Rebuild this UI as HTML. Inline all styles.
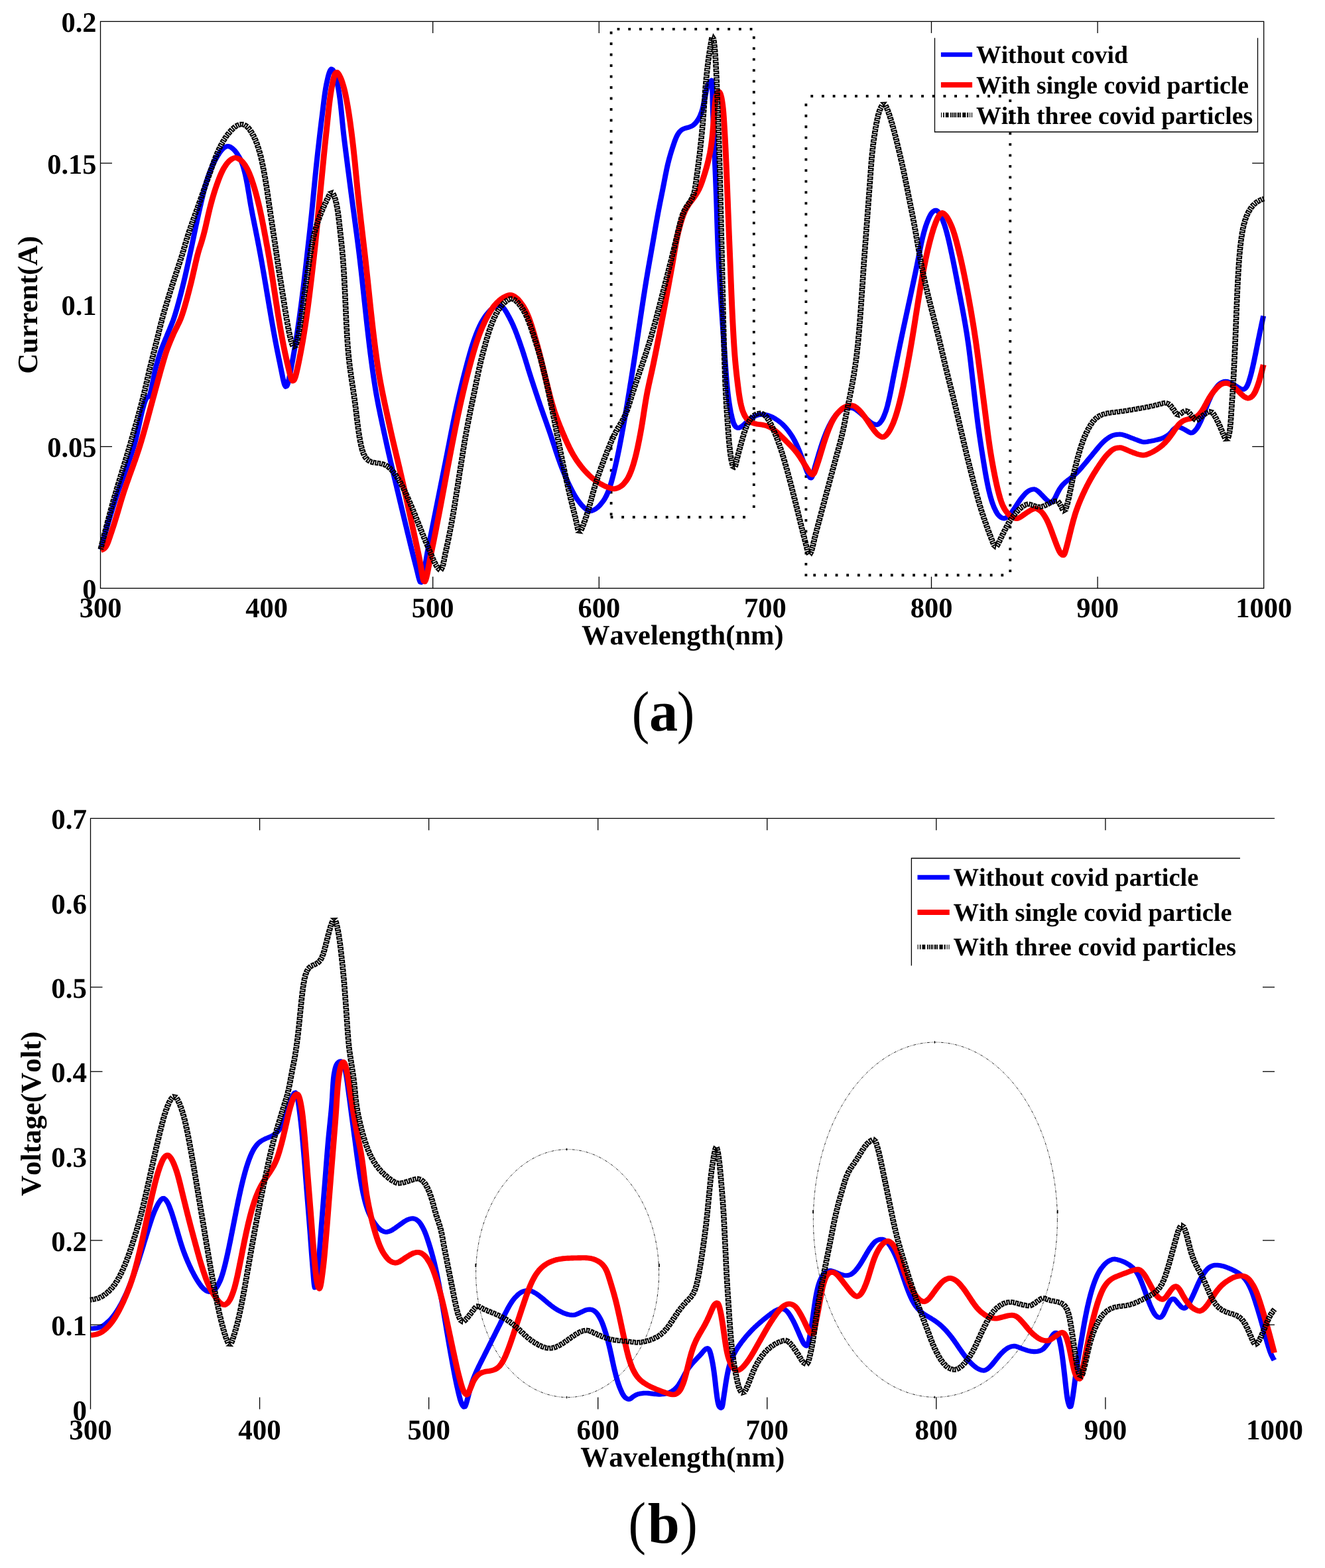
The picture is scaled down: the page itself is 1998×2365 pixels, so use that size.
<!DOCTYPE html>
<html lang="en"><head><meta charset="utf-8"><title>Figure</title>
<style>html,body{margin:0;padding:0;background:#fff}body{width:1998px;height:2365px;overflow:hidden}</style>
</head><body>
<svg width="1998" height="2365" viewBox="0 0 1998 2365" style="display:block;font-kerning:none;text-rendering:geometricPrecision">
<rect width="1998" height="2365" fill="#fff"/>
<g id="plotA">
<rect x="1409.5" y="57.2" width="487.0" height="141.8" fill="#fff"/>
<line x1="930.60" y1="43.8" x2="1134.44" y2="43.8" stroke="#000" stroke-width="3.8" stroke-dasharray="3.8 12.870"/>
<line x1="920.60" y1="780" x2="1123.96" y2="780" stroke="#000" stroke-width="3.8" stroke-dasharray="3.8 12.830"/>
<line x1="921.6" y1="47.60" x2="921.6" y2="777.40" stroke="#000" stroke-width="3.8" stroke-dasharray="3.8 12.700"/>
<line x1="1136.8" y1="54.85" x2="1136.8" y2="766.00" stroke="#000" stroke-width="3.8" stroke-dasharray="3.8 12.650"/>
<line x1="1222.35" y1="145" x2="1509.71" y2="145" stroke="#000" stroke-width="3.8" stroke-dasharray="3.8 12.880"/>
<line x1="1226.35" y1="867.5" x2="1513.20" y2="867.5" stroke="#000" stroke-width="3.8" stroke-dasharray="3.8 12.850"/>
<line x1="1215.4" y1="156.35" x2="1215.4" y2="869.22" stroke="#000" stroke-width="3.8" stroke-dasharray="3.8 12.690"/>
<line x1="1523.3" y1="150.10" x2="1523.3" y2="862.97" stroke="#000" stroke-width="3.8" stroke-dasharray="3.8 12.690"/>
<path transform="scale(1.13,1)" d="M134.51,828.8 134.97,826.8 135.43,824.9 135.89,823.0 136.35,821.0 136.82,819.1 137.29,817.2 137.76,815.2 138.23,813.3 138.70,811.4 139.18,809.5 139.66,807.5 140.14,805.6 140.63,803.7 141.11,801.8 141.60,799.8 142.09,797.9 142.58,796.0 143.07,794.1 143.56,792.1 144.06,790.2 144.56,788.3 145.06,786.4 145.56,784.5 146.07,782.6 146.57,780.6 147.08,778.7 147.59,776.8 148.11,774.9 148.62,773.0 149.14,771.1 149.66,769.1 150.18,767.2 150.70,765.3 151.23,763.4 151.76,761.5 152.29,759.6 152.82,757.7 153.36,755.8 153.90,753.9 154.45,752.0 155.00,750.1 155.56,748.2 156.12,746.3 156.68,744.4 157.25,742.5 157.82,740.6 158.40,738.7 158.98,736.8 159.57,734.9 160.15,733.0 160.74,731.2 161.34,729.3 161.94,727.4 162.53,725.5 163.13,723.6 163.74,721.7 164.34,719.9 164.94,718.0 165.55,716.1 166.15,714.2 166.75,712.3 167.36,710.5 167.96,708.6 168.56,706.7 169.16,704.8 169.76,702.9 170.35,701.0 170.95,699.2 171.54,697.3 172.12,695.4 172.71,693.5 173.29,691.6 173.86,689.7 174.43,687.8 174.99,685.9 175.55,684.0 176.10,682.1 176.65,680.2 177.18,678.3 177.71,676.4 178.22,674.5 178.73,672.6 179.22,670.7 179.70,668.7 180.17,666.8 180.63,664.9 181.07,662.9 181.51,661.0 181.93,659.0 182.34,657.1 182.75,655.2 183.15,653.2 183.54,651.3 183.92,649.3 184.30,647.4 184.68,645.4 185.06,643.4 185.43,641.5 185.80,639.5 186.17,637.6 186.54,635.6 186.92,633.7 187.29,631.7 187.67,629.8 188.05,627.8 188.44,625.8 188.84,623.9 189.24,622.0 189.66,620.0 190.09,618.1 190.55,616.1 191.03,614.2 191.49,612.3 191.98,610.4 192.50,608.4 193.06,606.5 193.67,604.7 194.38,602.8 195.21,601.1 196.29,599.5 197.83,598.6 199.12,597.4 199.87,595.6 200.44,593.7 200.93,591.7 201.36,589.8 201.76,587.9 202.14,585.9 202.50,583.9 202.85,582.0 203.19,580.0 203.55,578.1 203.90,576.1 204.24,574.1 204.57,572.2 204.91,570.2 205.24,568.2 205.58,566.3 205.92,564.3 206.28,562.4 206.64,560.4 207.03,558.4 207.43,556.5 207.86,554.6 208.33,552.6 208.80,550.7 209.28,548.8 209.77,546.8 210.26,544.9 210.77,543.0 211.27,541.1 211.78,539.2 212.29,537.3 212.82,535.4 213.36,533.4 213.91,531.5 214.47,529.7 215.07,527.8 215.69,525.9 216.32,524.0 216.97,522.2 217.62,520.3 218.29,518.5 218.96,516.6 219.62,514.7 220.29,512.9 220.97,511.0 221.65,509.2 222.33,507.4 223.00,505.5 223.67,503.6 224.34,501.8 225.02,500.0 225.71,498.1 226.39,496.3 227.06,494.4 227.73,492.6 228.40,490.7 229.06,488.9 229.72,487.0 230.36,485.1 230.99,483.3 231.60,481.4 232.18,479.5 232.73,477.6 233.27,475.7 233.80,473.8 234.32,471.9 234.83,469.9 235.33,468.0 235.83,466.1 236.31,464.2 236.79,462.3 237.26,460.3 237.73,458.4 238.20,456.5 238.66,454.5 239.12,452.6 239.58,450.7 240.03,448.7 240.48,446.8 240.92,444.9 241.36,442.9 241.80,441.0 242.23,439.1 242.66,437.1 243.09,435.2 243.52,433.2 243.94,431.3 244.37,429.3 244.79,427.4 245.20,425.5 245.61,423.5 246.02,421.6 246.42,419.6 246.82,417.7 247.22,415.7 247.61,413.8 248.00,411.8 248.39,409.9 248.77,407.9 249.16,406.0 249.54,404.0 249.93,402.1 250.31,400.1 250.69,398.1 251.07,396.2 251.45,394.2 251.82,392.3 252.20,390.3 252.57,388.4 252.95,386.4 253.33,384.5 253.70,382.5 254.08,380.6 254.45,378.6 254.83,376.6 255.20,374.7 255.57,372.7 255.93,370.8 256.30,368.8 256.66,366.9 257.02,364.9 257.38,362.9 257.74,361.0 258.10,359.0 258.47,357.1 258.83,355.1 259.19,353.2 259.55,351.2 259.91,349.2 260.27,347.3 260.63,345.3 261.00,343.4 261.36,341.4 261.73,339.4 262.10,337.5 262.47,335.5 262.84,333.6 263.22,331.6 263.60,329.7 263.98,327.7 264.36,325.8 264.74,323.8 265.13,321.9 265.51,319.9 265.90,318.0 266.29,316.0 266.68,314.1 267.07,312.1 267.47,310.2 267.86,308.2 268.25,306.3 268.65,304.3 269.05,302.4 269.45,300.4 269.86,298.5 270.27,296.5 270.68,294.6 271.10,292.6 271.53,290.7 271.96,288.7 272.40,286.8 272.85,284.9 273.31,282.9 273.78,281.0 274.26,279.1 274.75,277.2 275.26,275.2 275.77,273.3 276.30,271.4 276.84,269.5 277.40,267.6 277.97,265.7 278.56,263.8 279.17,262.0 279.79,260.1 280.42,258.2 281.08,256.4 281.75,254.5 282.44,252.7 283.15,250.8 283.88,249.0 284.62,247.2 285.39,245.4 286.18,243.6 286.99,241.8 287.82,240.1 288.68,238.3 289.58,236.6 290.51,234.9 291.45,233.2 292.40,231.5 293.40,229.8 294.44,228.2 295.55,226.7 296.75,225.2 298.04,223.8 299.44,222.6 300.96,221.6 302.60,220.8 304.33,220.5 306.05,221.0 307.65,221.8 309.13,222.9 310.52,224.2 311.83,225.5 313.06,226.9 314.21,228.5 315.30,230.0 316.31,231.7 317.26,233.4 318.20,235.1 319.11,236.8 319.96,238.5 320.75,240.3 321.49,242.1 322.18,244.0 322.83,245.8 323.43,247.7 324.00,249.6 324.54,251.5 325.05,253.4 325.53,255.4 325.99,257.3 326.43,259.2 326.85,261.2 327.26,263.1 327.65,265.1 328.03,267.0 328.39,269.0 328.74,270.9 329.08,272.9 329.42,274.9 329.74,276.8 330.06,278.8 330.37,280.8 330.67,282.7 330.97,284.7 331.26,286.7 331.55,288.7 331.84,290.6 332.13,292.6 332.41,294.6 332.70,296.6 332.98,298.5 333.27,300.5 333.56,302.5 333.86,304.5 334.15,306.4 334.45,308.4 334.76,310.4 335.07,312.3 335.39,314.3 335.71,316.3 336.04,318.2 336.37,320.2 336.70,322.2 337.04,324.1 337.39,326.1 337.73,328.1 338.08,330.0 338.43,332.0 338.77,333.9 339.12,335.9 339.47,337.9 339.83,339.8 340.18,341.8 340.53,343.7 340.87,345.7 341.22,347.7 341.57,349.6 341.92,351.6 342.27,353.6 342.61,355.5 342.95,357.5 343.30,359.4 343.64,361.4 343.98,363.4 344.32,365.3 344.65,367.3 344.99,369.3 345.32,371.2 345.65,373.2 345.98,375.2 346.31,377.1 346.63,379.1 346.95,381.1 347.28,383.0 347.60,385.0 347.91,387.0 348.23,388.9 348.55,390.9 348.86,392.9 349.17,394.8 349.48,396.8 349.79,398.8 350.10,400.7 350.40,402.7 350.71,404.7 351.01,406.7 351.31,408.6 351.62,410.6 351.92,412.6 352.22,414.5 352.52,416.5 352.81,418.5 353.11,420.5 353.41,422.4 353.70,424.4 354.00,426.4 354.29,428.3 354.59,430.3 354.88,432.3 355.18,434.3 355.47,436.2 355.76,438.2 356.06,440.2 356.35,442.2 356.64,444.1 356.94,446.1 357.23,448.1 357.52,450.0 357.82,452.0 358.11,454.0 358.40,456.0 358.70,457.9 358.99,459.9 359.29,461.9 359.58,463.9 359.88,465.8 360.18,467.8 360.47,469.8 360.77,471.7 361.07,473.7 361.37,475.7 361.67,477.7 361.97,479.6 362.28,481.6 362.58,483.6 362.89,485.5 363.19,487.5 363.50,489.5 363.81,491.4 364.12,493.4 364.43,495.4 364.74,497.4 365.06,499.3 365.38,501.3 365.69,503.3 366.01,505.2 366.34,507.2 366.66,509.2 366.99,511.1 367.31,513.1 367.64,515.1 367.97,517.0 368.31,519.0 368.65,521.0 368.98,522.9 369.32,524.9 369.67,526.8 370.01,528.8 370.36,530.8 370.71,532.7 371.06,534.7 371.42,536.6 371.77,538.6 372.13,540.6 372.49,542.5 372.85,544.5 373.20,546.4 373.56,548.4 373.91,550.4 374.26,552.3 374.61,554.3 374.96,556.2 375.30,558.2 375.65,560.2 376.00,562.1 376.36,564.1 376.71,566.0 377.06,568.0 377.42,570.0 377.80,571.9 378.19,573.9 378.60,575.8 379.06,577.8 379.59,579.7 380.24,581.5 381.22,583.2 382.56,582.5 383.37,580.7 383.98,578.9 384.48,576.9 384.93,575.0 385.35,573.1 385.74,571.1 386.11,569.2 386.46,567.2 386.81,565.2 387.16,563.3 387.51,561.3 387.85,559.3 388.17,557.4 388.50,555.4 388.82,553.4 389.14,551.5 389.46,549.5 389.78,547.5 390.10,545.6 390.41,543.6 390.73,541.6 391.04,539.7 391.35,537.7 391.66,535.7 391.96,533.8 392.27,531.8 392.57,529.8 392.87,527.8 393.17,525.9 393.46,523.9 393.75,521.9 394.04,520.0 394.33,518.0 394.61,516.0 394.89,514.0 395.17,512.1 395.45,510.1 395.73,508.1 396.00,506.1 396.27,504.2 396.54,502.2 396.81,500.2 397.07,498.2 397.33,496.2 397.59,494.3 397.85,492.3 398.11,490.3 398.36,488.3 398.62,486.3 398.87,484.4 399.12,482.4 399.36,480.4 399.61,478.4 399.85,476.4 400.10,474.5 400.34,472.5 400.58,470.5 400.81,468.5 401.05,466.5 401.28,464.5 401.52,462.6 401.75,460.6 401.98,458.6 402.20,456.6 402.43,454.6 402.66,452.6 402.88,450.7 403.10,448.7 403.33,446.7 403.55,444.7 403.77,442.7 403.98,440.7 404.20,438.8 404.42,436.8 404.63,434.8 404.85,432.8 405.06,430.8 405.27,428.8 405.48,426.8 405.69,424.9 405.90,422.9 406.11,420.9 406.32,418.9 406.52,416.9 406.73,414.9 406.93,412.9 407.14,410.9 407.34,409.0 407.54,407.0 407.75,405.0 407.95,403.0 408.15,401.0 408.35,399.0 408.55,397.0 408.75,395.0 408.95,393.1 409.15,391.1 409.35,389.1 409.54,387.1 409.74,385.1 409.94,383.1 410.14,381.1 410.34,379.1 410.53,377.2 410.73,375.2 410.93,373.2 411.12,371.2 411.32,369.2 411.52,367.2 411.71,365.2 411.91,363.2 412.11,361.3 412.30,359.3 412.50,357.3 412.70,355.3 412.89,353.3 413.09,351.3 413.28,349.3 413.48,347.3 413.67,345.3 413.87,343.4 414.06,341.4 414.25,339.4 414.44,337.4 414.63,335.4 414.82,333.4 415.00,331.4 415.19,329.4 415.37,327.4 415.55,325.5 415.73,323.5 415.91,321.5 416.09,319.5 416.26,317.5 416.44,315.5 416.61,313.5 416.78,311.5 416.96,309.5 417.13,307.5 417.30,305.5 417.47,303.6 417.64,301.6 417.80,299.6 417.97,297.6 418.14,295.6 418.31,293.6 418.48,291.6 418.64,289.6 418.81,287.6 418.98,285.6 419.15,283.6 419.32,281.7 419.49,279.7 419.66,277.7 419.83,275.7 420.00,273.7 420.17,271.7 420.34,269.7 420.51,267.7 420.69,265.7 420.86,263.7 421.04,261.7 421.22,259.8 421.40,257.8 421.58,255.8 421.76,253.8 421.94,251.8 422.13,249.8 422.31,247.8 422.50,245.8 422.69,243.8 422.88,241.8 423.07,239.9 423.26,237.9 423.45,235.9 423.65,233.9 423.84,231.9 424.03,229.9 424.23,227.9 424.43,225.9 424.62,224.0 424.82,222.0 425.02,220.0 425.22,218.0 425.42,216.0 425.62,214.0 425.82,212.0 426.02,210.0 426.23,208.0 426.43,206.1 426.64,204.1 426.84,202.1 427.05,200.1 427.26,198.1 427.47,196.1 427.68,194.1 427.89,192.2 428.10,190.2 428.32,188.2 428.53,186.2 428.74,184.2 428.96,182.2 429.18,180.2 429.39,178.3 429.61,176.3 429.83,174.3 430.04,172.3 430.26,170.3 430.48,168.3 430.69,166.3 430.91,164.4 431.12,162.4 431.33,160.4 431.54,158.4 431.76,156.4 431.97,154.4 432.19,152.4 432.41,150.5 432.64,148.5 432.87,146.5 433.10,144.5 433.35,142.5 433.60,140.5 433.86,138.6 434.13,136.6 434.42,134.6 434.71,132.6 435.02,130.7 435.35,128.7 435.68,126.7 436.04,124.8 436.42,122.8 436.80,120.9 437.18,118.9 437.59,117.0 438.02,115.0 438.48,113.1 438.98,111.2 439.53,109.3 440.17,107.4 440.96,105.6 442.09,104.1 443.57,104.7 444.61,106.3 445.42,108.1 446.11,109.9 446.73,111.8 447.30,113.7 447.82,115.6 448.31,117.5 448.77,119.5 449.19,121.4 449.62,123.3 450.03,125.3 450.42,127.2 450.78,129.2 451.12,131.2 451.45,133.1 451.76,135.1 452.05,137.1 452.34,139.0 452.61,141.0 452.87,143.0 453.12,145.0 453.36,147.0 453.59,148.9 453.82,150.9 454.03,152.9 454.24,154.9 454.45,156.9 454.65,158.9 454.84,160.9 455.03,162.9 455.21,164.8 455.39,166.8 455.57,168.8 455.74,170.8 455.92,172.8 456.09,174.8 456.26,176.8 456.43,178.8 456.60,180.8 456.77,182.8 456.94,184.8 457.12,186.7 457.29,188.7 457.47,190.7 457.65,192.7 457.83,194.7 458.02,196.7 458.21,198.7 458.41,200.7 458.61,202.7 458.81,204.6 459.01,206.6 459.22,208.6 459.43,210.6 459.65,212.6 459.87,214.6 460.08,216.6 460.30,218.5 460.52,220.5 460.74,222.5 460.97,224.5 461.19,226.5 461.41,228.5 461.63,230.5 461.86,232.4 462.08,234.4 462.31,236.4 462.53,238.4 462.75,240.4 462.98,242.4 463.21,244.3 463.43,246.3 463.66,248.3 463.88,250.3 464.11,252.3 464.34,254.3 464.56,256.3 464.79,258.2 465.02,260.2 465.24,262.2 465.47,264.2 465.70,266.2 465.93,268.2 466.16,270.1 466.38,272.1 466.61,274.1 466.84,276.1 467.07,278.1 467.30,280.1 467.53,282.0 467.76,284.0 467.99,286.0 468.22,288.0 468.45,290.0 468.68,292.0 468.91,293.9 469.14,295.9 469.37,297.9 469.60,299.9 469.84,301.9 470.07,303.9 470.30,305.8 470.54,307.8 470.77,309.8 471.01,311.8 471.24,313.8 471.48,315.8 471.72,317.7 471.95,319.7 472.19,321.7 472.43,323.7 472.66,325.7 472.90,327.6 473.14,329.6 473.38,331.6 473.61,333.6 473.85,335.6 474.09,337.6 474.32,339.5 474.56,341.5 474.79,343.5 475.03,345.5 475.26,347.5 475.50,349.5 475.73,351.4 475.96,353.4 476.19,355.4 476.42,357.4 476.65,359.4 476.88,361.4 477.11,363.3 477.33,365.3 477.56,367.3 477.78,369.3 478.00,371.3 478.23,373.3 478.44,375.2 478.66,377.2 478.88,379.2 479.09,381.2 479.31,383.2 479.52,385.2 479.73,387.2 479.94,389.1 480.15,391.1 480.36,393.1 480.56,395.1 480.77,397.1 480.97,399.1 481.17,401.1 481.37,403.1 481.57,405.0 481.77,407.0 481.97,409.0 482.17,411.0 482.37,413.0 482.56,415.0 482.76,417.0 482.95,419.0 483.15,420.9 483.34,422.9 483.53,424.9 483.72,426.9 483.92,428.9 484.11,430.9 484.30,432.9 484.49,434.9 484.68,436.9 484.87,438.8 485.06,440.8 485.25,442.8 485.43,444.8 485.62,446.8 485.81,448.8 486.00,450.8 486.19,452.8 486.38,454.8 486.56,456.7 486.75,458.7 486.94,460.7 487.13,462.7 487.32,464.7 487.51,466.7 487.70,468.7 487.89,470.7 488.08,472.7 488.27,474.6 488.46,476.6 488.65,478.6 488.84,480.6 489.04,482.6 489.23,484.6 489.42,486.6 489.62,488.6 489.81,490.6 490.01,492.5 490.20,494.5 490.40,496.5 490.60,498.5 490.80,500.5 491.00,502.5 491.20,504.5 491.40,506.5 491.61,508.4 491.81,510.4 492.02,512.4 492.23,514.4 492.43,516.4 492.64,518.4 492.85,520.4 493.07,522.4 493.28,524.3 493.50,526.3 493.71,528.3 493.93,530.3 494.15,532.3 494.37,534.3 494.59,536.2 494.82,538.2 495.05,540.2 495.27,542.2 495.50,544.2 495.74,546.2 495.97,548.1 496.21,550.1 496.44,552.1 496.68,554.1 496.93,556.1 497.17,558.1 497.42,560.0 497.66,562.0 497.91,564.0 498.17,566.0 498.42,568.0 498.68,569.9 498.94,571.9 499.21,573.9 499.47,575.9 499.74,577.9 500.02,579.8 500.29,581.8 500.57,583.8 500.86,585.8 501.15,587.7 501.44,589.7 501.74,591.7 502.05,593.6 502.35,595.6 502.67,597.6 502.98,599.5 503.30,601.5 503.63,603.5 503.95,605.4 504.29,607.4 504.62,609.4 504.96,611.3 505.30,613.3 505.65,615.3 506.00,617.2 506.35,619.2 506.70,621.1 507.06,623.1 507.41,625.1 507.78,627.0 508.14,629.0 508.50,630.9 508.87,632.9 509.24,634.9 509.61,636.8 509.98,638.8 510.35,640.7 510.72,642.7 511.09,644.6 511.47,646.6 511.84,648.5 512.22,650.5 512.59,652.5 512.97,654.4 513.35,656.4 513.72,658.3 514.10,660.3 514.48,662.2 514.85,664.2 515.23,666.1 515.61,668.1 515.99,670.0 516.37,672.0 516.75,674.0 517.14,675.9 517.52,677.9 517.91,679.8 518.30,681.8 518.69,683.7 519.08,685.7 519.48,687.6 519.87,689.6 520.27,691.5 520.67,693.5 521.07,695.4 521.48,697.4 521.88,699.3 522.28,701.3 522.69,703.2 523.10,705.1 523.50,707.1 523.91,709.0 524.32,711.0 524.73,712.9 525.14,714.9 525.55,716.8 525.96,718.8 526.37,720.7 526.78,722.7 527.20,724.6 527.61,726.6 528.02,728.5 528.43,730.4 528.84,732.4 529.25,734.3 529.66,736.3 530.07,738.2 530.48,740.2 530.89,742.1 531.30,744.1 531.71,746.0 532.12,748.0 532.53,749.9 532.94,751.8 533.35,753.8 533.75,755.7 534.16,757.7 534.57,759.6 534.98,761.6 535.39,763.5 535.81,765.5 536.22,767.4 536.63,769.4 537.04,771.3 537.45,773.3 537.86,775.2 538.28,777.1 538.69,779.1 539.11,781.0 539.52,783.0 539.94,784.9 540.35,786.9 540.77,788.8 541.18,790.8 541.60,792.7 542.02,794.6 542.44,796.6 542.85,798.5 543.27,800.5 543.69,802.4 544.11,804.4 544.53,806.3 544.95,808.3 545.36,810.2 545.78,812.1 546.20,814.1 546.62,816.0 547.04,818.0 547.46,819.9 547.88,821.9 548.30,823.8 548.72,825.7 549.14,827.7 549.56,829.6 549.99,831.6 550.41,833.5 550.84,835.5 551.27,837.4 551.71,839.3 552.14,841.3 552.58,843.2 553.02,845.1 553.46,847.1 553.90,849.0 554.34,851.0 554.78,852.9 555.21,854.8 555.65,856.8 556.09,858.7 556.52,860.7 556.94,862.6 557.35,864.5 557.77,866.5 558.18,868.4 558.61,870.4 559.06,872.3 559.54,874.2 560.10,876.1 560.82,878.0 562.14,878.3 563.04,876.6 563.65,874.7 564.14,872.8 564.56,870.9 564.94,868.9 565.29,866.9 565.62,865.0 565.94,863.0 566.24,861.0 566.53,859.1 566.82,857.1 567.10,855.1 567.38,853.1 567.67,851.2 567.95,849.2 568.23,847.2 568.52,845.2 568.80,843.3 569.09,841.3 569.39,839.3 569.69,837.3 570.00,835.4 570.31,833.4 570.64,831.4 570.96,829.5 571.30,827.5 571.64,825.6 571.98,823.6 572.33,821.6 572.67,819.7 573.02,817.7 573.37,815.7 573.72,813.8 574.07,811.8 574.42,809.9 574.76,807.9 575.11,805.9 575.46,804.0 575.80,802.0 576.15,800.0 576.49,798.1 576.84,796.1 577.18,794.2 577.53,792.2 577.87,790.2 578.21,788.3 578.56,786.3 578.90,784.4 579.24,782.4 579.59,780.4 579.93,778.5 580.28,776.5 580.62,774.5 580.97,772.6 581.31,770.6 581.66,768.7 582.00,766.7 582.35,764.7 582.70,762.8 583.04,760.8 583.39,758.8 583.74,756.9 584.08,754.9 584.43,753.0 584.78,751.0 585.13,749.0 585.47,747.1 585.82,745.1 586.17,743.2 586.51,741.2 586.86,739.2 587.21,737.3 587.56,735.3 587.90,733.3 588.25,731.4 588.60,729.4 588.95,727.5 589.29,725.5 589.64,723.5 589.99,721.6 590.33,719.6 590.68,717.7 591.03,715.7 591.38,713.7 591.72,711.8 592.07,709.8 592.42,707.8 592.76,705.9 593.11,703.9 593.46,702.0 593.80,700.0 594.15,698.0 594.50,696.1 594.84,694.1 595.19,692.1 595.53,690.2 595.88,688.2 596.22,686.3 596.56,684.3 596.90,682.3 597.24,680.4 597.58,678.4 597.92,676.4 598.26,674.5 598.60,672.5 598.94,670.6 599.28,668.6 599.62,666.6 599.95,664.7 600.29,662.7 600.63,660.7 600.97,658.8 601.31,656.8 601.65,654.8 601.99,652.9 602.33,650.9 602.68,649.0 603.02,647.0 603.37,645.0 603.71,643.1 604.06,641.1 604.41,639.2 604.76,637.2 605.12,635.2 605.47,633.3 605.83,631.3 606.19,629.4 606.56,627.4 606.92,625.4 607.29,623.5 607.66,621.5 608.03,619.6 608.41,617.6 608.79,615.7 609.17,613.7 609.55,611.8 609.93,609.8 610.32,607.9 610.70,605.9 611.09,603.9 611.49,602.0 611.88,600.0 612.28,598.1 612.67,596.1 613.07,594.2 613.48,592.3 613.88,590.3 614.29,588.4 614.70,586.4 615.11,584.5 615.52,582.5 615.94,580.6 616.36,578.6 616.78,576.7 617.21,574.7 617.64,572.8 618.07,570.9 618.50,568.9 618.94,567.0 619.38,565.1 619.82,563.1 620.26,561.2 620.71,559.2 621.16,557.3 621.61,555.4 622.06,553.4 622.52,551.5 622.97,549.6 623.43,547.6 623.89,545.7 624.35,543.8 624.82,541.8 625.28,539.9 625.76,538.0 626.23,536.1 626.71,534.1 627.19,532.2 627.69,530.3 628.18,528.4 628.69,526.5 629.20,524.5 629.72,522.6 630.25,520.7 630.79,518.8 631.35,516.9 631.91,515.0 632.48,513.1 633.07,511.2 633.66,509.4 634.27,507.5 634.90,505.6 635.54,503.7 636.19,501.9 636.85,500.0 637.53,498.2 638.23,496.3 638.95,494.5 639.69,492.7 640.44,490.9 641.22,489.1 642.03,487.3 642.86,485.5 643.72,483.8 644.62,482.1 645.54,480.4 646.50,478.7 647.50,477.0 648.54,475.4 649.62,473.8 650.76,472.3 651.93,470.8 653.09,469.3 654.31,467.8 655.59,466.5 656.95,465.2 658.38,464.0 659.89,463.0 661.50,462.1 663.17,461.5 664.90,461.1 666.67,460.9 668.36,461.4 669.88,462.4 671.22,463.7 672.40,465.2 673.46,466.8 674.45,468.5 675.39,470.2 676.28,471.9 677.15,473.6 678.00,475.4 678.85,477.2 679.70,478.9 680.52,480.7 681.32,482.5 682.11,484.3 682.87,486.1 683.63,487.9 684.36,489.7 685.09,491.5 685.79,493.4 686.48,495.2 687.16,497.0 687.82,498.9 688.47,500.8 689.10,502.6 689.73,504.5 690.35,506.4 690.96,508.3 691.56,510.1 692.16,512.0 692.76,513.9 693.35,515.8 693.93,517.7 694.51,519.6 695.09,521.5 695.66,523.4 696.23,525.2 696.79,527.1 697.35,529.0 697.90,530.9 698.44,532.8 698.98,534.8 699.52,536.7 700.05,538.6 700.58,540.5 701.10,542.4 701.62,544.3 702.14,546.2 702.66,548.1 703.18,550.0 703.70,551.9 704.22,553.9 704.74,555.8 705.26,557.7 705.79,559.6 706.32,561.5 706.85,563.4 707.38,565.3 707.92,567.2 708.46,569.1 709.00,571.0 709.55,572.9 710.10,574.8 710.65,576.7 711.20,578.6 711.75,580.5 712.30,582.4 712.86,584.3 713.42,586.2 713.97,588.1 714.53,590.0 715.09,591.9 715.65,593.8 716.22,595.7 716.78,597.6 717.35,599.5 717.91,601.4 718.48,603.3 719.05,605.2 719.62,607.1 720.20,609.0 720.77,610.9 721.35,612.8 721.93,614.7 722.51,616.6 723.09,618.4 723.67,620.3 724.26,622.2 724.85,624.1 725.44,626.0 726.03,627.9 726.62,629.8 727.21,631.6 727.81,633.5 728.40,635.4 728.99,637.3 729.59,639.2 730.18,641.1 730.77,643.0 731.35,644.8 731.94,646.7 732.52,648.6 733.10,650.5 733.68,652.4 734.25,654.3 734.82,656.2 735.39,658.1 735.95,660.0 736.50,661.9 737.06,663.8 737.61,665.7 738.16,667.6 738.71,669.5 739.25,671.4 739.80,673.3 740.34,675.2 740.89,677.1 741.44,679.0 741.99,680.9 742.55,682.8 743.11,684.7 743.67,686.6 744.24,688.5 744.82,690.4 745.40,692.3 745.99,694.2 746.59,696.0 747.19,697.9 747.81,699.8 748.43,701.7 749.06,703.5 749.69,705.4 750.34,707.3 750.99,709.1 751.65,711.0 752.32,712.8 752.99,714.7 753.68,716.5 754.37,718.4 755.07,720.2 755.78,722.0 756.50,723.9 757.23,725.7 757.98,727.5 758.73,729.3 759.49,731.1 760.26,732.9 761.04,734.7 761.83,736.5 762.63,738.3 763.44,740.1 764.27,741.8 765.11,743.6 765.98,745.3 766.86,747.1 767.77,748.8 768.71,750.5 769.68,752.2 770.68,753.8 771.72,755.4 772.80,757.0 773.90,758.6 775.01,760.1 776.15,761.7 777.35,763.1 778.58,764.6 779.87,766.0 781.21,767.3 782.62,768.5 784.13,769.5 785.74,770.3 787.45,770.8 789.20,770.6 790.88,770.0 792.50,769.1 794.04,768.2 795.52,767.1 796.93,765.9 798.27,764.6 799.55,763.2 800.75,761.7 801.90,760.2 803.01,758.6 804.11,757.0 805.15,755.4 806.13,753.8 807.06,752.1 807.93,750.3 808.76,748.6 809.55,746.8 810.29,744.9 811.00,743.1 811.67,741.3 812.30,739.4 812.91,737.5 813.49,735.6 814.05,733.7 814.59,731.8 815.11,729.9 815.61,728.0 816.09,726.1 816.56,724.1 817.02,722.2 817.47,720.3 817.91,718.3 818.34,716.4 818.76,714.5 819.19,712.5 819.60,710.6 820.01,708.6 820.42,706.7 820.83,704.7 821.23,702.8 821.63,700.8 822.02,698.9 822.41,696.9 822.80,695.0 823.18,693.0 823.56,691.1 823.93,689.1 824.30,687.2 824.66,685.2 825.02,683.2 825.37,681.3 825.72,679.3 826.07,677.4 826.42,675.4 826.76,673.4 827.09,671.5 827.43,669.5 827.76,667.5 828.09,665.6 828.42,663.6 828.74,661.6 829.07,659.7 829.39,657.7 829.71,655.7 830.03,653.8 830.35,651.8 830.67,649.8 830.99,647.9 831.30,645.9 831.62,643.9 831.93,642.0 832.25,640.0 832.56,638.0 832.87,636.1 833.18,634.1 833.49,632.1 833.79,630.1 834.10,628.2 834.40,626.2 834.70,624.2 835.00,622.3 835.30,620.3 835.60,618.3 835.89,616.3 836.18,614.4 836.48,612.4 836.77,610.4 837.06,608.5 837.35,606.5 837.64,604.5 837.92,602.5 838.21,600.6 838.49,598.6 838.78,596.6 839.06,594.6 839.35,592.7 839.63,590.7 839.91,588.7 840.19,586.7 840.47,584.8 840.75,582.8 841.03,580.8 841.31,578.8 841.59,576.9 841.87,574.9 842.15,572.9 842.43,570.9 842.71,569.0 842.99,567.0 843.27,565.0 843.54,563.0 843.82,561.1 844.09,559.1 844.37,557.1 844.64,555.1 844.91,553.1 845.18,551.2 845.45,549.2 845.72,547.2 845.99,545.2 846.26,543.3 846.53,541.3 846.79,539.3 847.06,537.3 847.32,535.4 847.59,533.4 847.85,531.4 848.12,529.4 848.38,527.4 848.64,525.5 848.90,523.5 849.16,521.5 849.42,519.5 849.68,517.5 849.94,515.6 850.20,513.6 850.46,511.6 850.72,509.6 850.98,507.7 851.24,505.7 851.50,503.7 851.76,501.7 852.02,499.7 852.28,497.8 852.53,495.8 852.79,493.8 853.05,491.8 853.31,489.8 853.57,487.9 853.83,485.9 854.09,483.9 854.35,481.9 854.61,479.9 854.87,478.0 855.13,476.0 855.39,474.0 855.65,472.0 855.92,470.1 856.18,468.1 856.44,466.1 856.71,464.1 856.97,462.1 857.24,460.2 857.50,458.2 857.77,456.2 858.04,454.2 858.31,452.3 858.58,450.3 858.85,448.3 859.12,446.3 859.39,444.3 859.67,442.4 859.94,440.4 860.22,438.4 860.49,436.4 860.77,434.5 861.05,432.5 861.33,430.5 861.61,428.5 861.90,426.6 862.18,424.6 862.47,422.6 862.76,420.6 863.05,418.7 863.34,416.7 863.63,414.7 863.93,412.8 864.22,410.8 864.52,408.8 864.82,406.8 865.12,404.9 865.43,402.9 865.73,400.9 866.04,399.0 866.34,397.0 866.65,395.0 866.96,393.0 867.27,391.1 867.58,389.1 867.89,387.1 868.20,385.2 868.51,383.2 868.81,381.2 869.12,379.3 869.43,377.3 869.74,375.3 870.05,373.3 870.35,371.4 870.66,369.4 870.96,367.4 871.26,365.5 871.57,363.5 871.87,361.5 872.17,359.6 872.47,357.6 872.77,355.6 873.07,353.6 873.37,351.7 873.67,349.7 873.97,347.7 874.27,345.8 874.57,343.8 874.88,341.8 875.18,339.8 875.49,337.9 875.79,335.9 876.10,333.9 876.41,332.0 876.73,330.0 877.04,328.0 877.36,326.1 877.68,324.1 878.00,322.1 878.33,320.2 878.65,318.2 878.99,316.2 879.32,314.3 879.66,312.3 880.00,310.3 880.34,308.4 880.68,306.4 881.03,304.4 881.38,302.5 881.73,300.5 882.08,298.6 882.43,296.6 882.78,294.6 883.13,292.7 883.48,290.7 883.82,288.8 884.17,286.8 884.52,284.8 884.86,282.9 885.20,280.9 885.54,278.9 885.88,277.0 886.21,275.0 886.55,273.0 886.88,271.1 887.21,269.1 887.55,267.2 887.89,265.2 888.23,263.2 888.57,261.3 888.92,259.3 889.27,257.3 889.64,255.4 890.01,253.4 890.39,251.5 890.78,249.5 891.19,247.6 891.60,245.6 892.03,243.7 892.47,241.8 892.93,239.8 893.40,237.9 893.88,236.0 894.37,234.0 894.87,232.1 895.38,230.2 895.90,228.3 896.43,226.4 896.96,224.5 897.51,222.6 898.06,220.7 898.61,218.8 899.18,216.9 899.76,215.0 900.36,213.1 900.98,211.2 901.63,209.4 902.32,207.5 903.05,205.7 903.85,203.9 904.72,202.2 905.69,200.5 906.77,198.9 907.98,197.5 909.33,196.2 910.82,195.1 912.41,194.2 914.07,193.5 915.77,193.0 917.49,192.5 919.19,192.0 920.87,191.3 922.50,190.5 924.05,189.6 925.50,188.4 926.83,187.1 928.06,185.7 929.20,184.1 930.25,182.5 931.23,180.9 932.15,179.2 933.00,177.4 933.80,175.6 934.54,173.8 935.22,172.0 935.84,170.1 936.42,168.2 936.94,166.3 937.42,164.4 937.87,162.4 938.29,160.5 938.68,158.5 939.05,156.6 939.41,154.6 939.77,152.7 940.11,150.7 940.46,148.7 940.80,146.8 941.15,144.8 941.48,142.8 941.83,140.9 942.17,138.9 942.53,137.0 942.91,135.0 943.33,133.1 943.80,131.1 944.36,129.2 945.05,127.4 945.91,125.6 946.97,124.0 948.19,122.6 949.52,121.3 950.04,123.1 950.22,125.1 950.35,127.1 950.44,129.1 950.52,131.1 950.58,133.1 950.63,135.1 950.68,137.1 950.72,139.1 950.76,141.1 950.80,143.1 950.83,145.1 950.87,147.1 950.90,149.1 950.94,151.1 950.97,153.1 951.01,155.1 951.05,157.1 951.09,159.1 951.13,161.1 951.18,163.1 951.23,165.1 951.28,167.1 951.34,169.1 951.40,171.1 951.46,173.1 951.52,175.1 951.59,177.1 951.66,179.1 951.73,181.1 951.80,183.1 951.87,185.1 951.94,187.1 952.01,189.1 952.08,191.1 952.15,193.1 952.22,195.1 952.29,197.1 952.36,199.1 952.43,201.1 952.50,203.1 952.57,205.1 952.64,207.1 952.71,209.1 952.78,211.1 952.85,213.1 952.92,215.1 952.99,217.0 953.06,219.0 953.14,221.0 953.21,223.0 953.28,225.0 953.35,227.0 953.42,229.0 953.49,231.0 953.56,233.0 953.63,235.0 953.70,237.0 953.78,239.0 953.85,241.0 953.92,243.0 953.99,245.0 954.06,247.0 954.14,249.0 954.21,251.0 954.28,253.0 954.35,255.0 954.43,257.0 954.50,259.0 954.57,261.0 954.64,263.0 954.71,265.0 954.79,267.0 954.86,269.0 954.93,271.0 955.00,273.0 955.07,275.0 955.14,277.0 955.21,279.0 955.28,281.0 955.35,283.0 955.41,285.0 955.48,287.0 955.55,289.0 955.61,291.0 955.68,293.0 955.74,295.0 955.81,297.0 955.87,299.0 955.93,301.0 955.99,303.0 956.05,305.0 956.11,307.0 956.17,309.0 956.22,311.0 956.28,313.0 956.34,315.0 956.39,317.0 956.45,319.0 956.50,321.0 956.56,323.0 956.61,325.0 956.67,327.0 956.72,329.0 956.77,331.0 956.83,333.0 956.88,335.0 956.94,337.0 956.99,339.0 957.05,341.0 957.11,343.0 957.17,345.0 957.22,347.0 957.28,349.0 957.34,351.0 957.40,353.0 957.47,355.0 957.53,357.0 957.60,359.0 957.66,361.0 957.73,363.0 957.80,365.0 957.87,367.0 957.94,369.0 958.02,371.0 958.09,373.0 958.17,375.0 958.25,377.0 958.32,379.0 958.41,381.0 958.49,383.0 958.57,385.0 958.66,387.0 958.74,389.0 958.83,391.0 958.92,393.0 959.01,395.0 959.10,397.0 959.19,399.0 959.28,400.9 959.38,402.9 959.47,404.9 959.57,406.9 959.67,408.9 959.76,410.9 959.86,412.9 959.96,414.9 960.07,416.9 960.17,418.9 960.27,420.9 960.38,422.9 960.48,424.9 960.59,426.9 960.69,428.9 960.80,430.9 960.91,432.9 961.02,434.9 961.13,436.9 961.24,438.9 961.35,440.9 961.47,442.9 961.58,444.9 961.69,446.9 961.81,448.9 961.92,450.9 962.04,452.9 962.16,454.9 962.27,456.9 962.39,458.9 962.51,460.8 962.63,462.8 962.75,464.8 962.87,466.8 962.99,468.8 963.11,470.8 963.23,472.8 963.35,474.8 963.47,476.8 963.60,478.8 963.72,480.8 963.84,482.8 963.97,484.8 964.09,486.8 964.21,488.8 964.34,490.8 964.46,492.8 964.59,494.8 964.71,496.8 964.84,498.8 964.96,500.8 965.09,502.8 965.22,504.8 965.34,506.7 965.47,508.7 965.59,510.7 965.72,512.7 965.85,514.7 965.97,516.7 966.10,518.7 966.23,520.7 966.35,522.7 966.48,524.7 966.60,526.7 966.73,528.7 966.85,530.7 966.98,532.7 967.10,534.7 967.23,536.7 967.35,538.7 967.47,540.7 967.60,542.7 967.72,544.7 967.85,546.7 967.97,548.7 968.10,550.6 968.23,552.6 968.35,554.6 968.48,556.6 968.61,558.6 968.75,560.6 968.88,562.6 969.02,564.6 969.16,566.6 969.30,568.6 969.45,570.6 969.59,572.6 969.74,574.6 969.90,576.6 970.06,578.6 970.22,580.6 970.39,582.5 970.56,584.5 970.74,586.5 970.92,588.5 971.11,590.5 971.31,592.5 971.51,594.5 971.72,596.5 971.94,598.5 972.16,600.4 972.39,602.4 972.64,604.4 972.89,606.4 973.15,608.4 973.42,610.3 973.70,612.3 973.99,614.3 974.29,616.3 974.61,618.2 974.93,620.2 975.27,622.2 975.64,624.1 976.02,626.1 976.44,628.0 976.84,630.0 977.27,631.9 977.72,633.8 978.23,635.8 978.80,637.6 979.46,639.5 980.26,641.3 981.25,642.9 982.48,644.4 984.00,645.4 985.73,645.4 987.39,644.7 988.93,643.7 990.39,642.6 991.77,641.3 993.11,640.0 994.42,638.6 995.73,637.3 997.07,636.0 998.45,634.7 999.86,633.5 1001.28,632.3 1002.68,631.1 1004.12,630.0 1005.60,628.9 1007.15,627.9 1008.75,627.0 1010.41,626.3 1012.12,625.8 1013.86,625.5 1015.62,625.2 1017.39,625.1 1019.15,625.2 1020.91,625.5 1022.65,625.9 1024.37,626.3 1026.06,626.9 1027.73,627.6 1029.36,628.4 1030.95,629.2 1032.50,630.2 1034.02,631.2 1035.50,632.3 1036.99,633.4 1038.44,634.6 1039.86,635.8 1041.24,637.0 1042.59,638.3 1043.90,639.6 1045.18,641.0 1046.42,642.5 1047.63,643.9 1048.81,645.4 1049.96,646.9 1051.07,648.5 1052.16,650.1 1053.21,651.7 1054.24,653.3 1055.23,655.0 1056.20,656.6 1057.14,658.3 1058.05,660.0 1058.94,661.8 1059.80,663.5 1060.63,665.3 1061.44,667.1 1062.22,668.9 1062.98,670.7 1063.71,672.5 1064.43,674.3 1065.13,676.2 1065.81,678.0 1066.48,679.9 1067.13,681.7 1067.77,683.6 1068.41,685.4 1069.04,687.3 1069.66,689.2 1070.28,691.1 1070.90,692.9 1071.51,694.8 1072.12,696.7 1072.74,698.6 1073.34,700.4 1073.95,702.3 1074.57,704.2 1075.18,706.1 1075.81,707.9 1076.47,709.8 1077.14,711.7 1077.85,713.5 1078.57,715.3 1079.33,717.1 1080.13,718.9 1081.09,720.6 1082.54,720.9 1083.54,719.2 1084.23,717.4 1084.79,715.5 1085.29,713.6 1085.75,711.6 1086.20,709.7 1086.65,707.8 1087.12,705.8 1087.59,703.9 1088.08,702.0 1088.58,700.1 1089.08,698.1 1089.58,696.2 1090.08,694.3 1090.59,692.4 1091.09,690.5 1091.60,688.6 1092.10,686.6 1092.61,684.7 1093.13,682.8 1093.64,680.9 1094.16,679.0 1094.69,677.1 1095.22,675.2 1095.76,673.3 1096.31,671.4 1096.87,669.5 1097.44,667.6 1098.02,665.7 1098.61,663.8 1099.22,661.9 1099.83,660.0 1100.46,658.2 1101.10,656.3 1101.75,654.4 1102.42,652.6 1103.10,650.7 1103.80,648.9 1104.52,647.1 1105.25,645.3 1106.01,643.4 1106.78,641.6 1107.58,639.9 1108.40,638.1 1109.26,636.3 1110.14,634.6 1111.06,632.9 1112.02,631.2 1113.03,629.6 1114.09,628.0 1115.21,626.4 1116.39,624.9 1117.59,623.5 1118.81,622.0 1120.10,620.6 1121.46,619.4 1122.90,618.2 1124.41,617.2 1126.00,616.3 1127.68,615.6 1129.41,615.2 1131.17,615.0 1132.94,615.0 1134.71,615.1 1136.47,615.3 1138.18,615.8 1139.83,616.5 1141.40,617.4 1142.89,618.5 1144.33,619.7 1145.72,620.9 1147.08,622.2 1148.41,623.5 1149.74,624.8 1151.07,626.2 1152.38,627.5 1153.69,628.8 1155.00,630.2 1156.29,631.6 1157.58,632.9 1158.89,634.3 1160.24,635.6 1161.64,636.8 1163.11,637.9 1164.65,638.9 1166.27,639.7 1167.95,640.3 1169.69,640.7 1171.40,640.3 1172.89,639.2 1174.19,637.9 1175.33,636.3 1176.35,634.7 1177.27,633.0 1178.12,631.3 1178.89,629.5 1179.60,627.6 1180.25,625.8 1180.89,623.9 1181.52,622.0 1182.11,620.1 1182.66,618.2 1183.17,616.3 1183.66,614.4 1184.13,612.5 1184.57,610.5 1185.01,608.6 1185.42,606.6 1185.83,604.7 1186.23,602.8 1186.62,600.8 1187.00,598.8 1187.38,596.9 1187.75,594.9 1188.11,593.0 1188.46,591.0 1188.81,589.1 1189.15,587.1 1189.49,585.1 1189.83,583.2 1190.16,581.2 1190.50,579.2 1190.83,577.3 1191.16,575.3 1191.50,573.3 1191.83,571.4 1192.17,569.4 1192.51,567.5 1192.85,565.5 1193.19,563.5 1193.53,561.6 1193.87,559.6 1194.22,557.6 1194.56,555.7 1194.91,553.7 1195.25,551.8 1195.60,549.8 1195.94,547.8 1196.29,545.9 1196.64,543.9 1196.99,541.9 1197.33,540.0 1197.68,538.0 1198.04,536.1 1198.39,534.1 1198.74,532.1 1199.10,530.2 1199.45,528.2 1199.81,526.3 1200.17,524.3 1200.52,522.3 1200.88,520.4 1201.24,518.4 1201.61,516.5 1201.97,514.5 1202.33,512.6 1202.70,510.6 1203.06,508.6 1203.43,506.7 1203.80,504.7 1204.16,502.8 1204.53,500.8 1204.90,498.9 1205.27,496.9 1205.64,494.9 1206.01,493.0 1206.38,491.0 1206.75,489.1 1207.13,487.1 1207.50,485.2 1207.87,483.2 1208.25,481.3 1208.62,479.3 1208.99,477.3 1209.37,475.4 1209.74,473.4 1210.12,471.5 1210.49,469.5 1210.86,467.6 1211.24,465.6 1211.61,463.7 1211.99,461.7 1212.36,459.7 1212.74,457.8 1213.11,455.8 1213.49,453.9 1213.86,451.9 1214.24,450.0 1214.61,448.0 1214.99,446.1 1215.36,444.1 1215.73,442.1 1216.11,440.2 1216.48,438.2 1216.85,436.3 1217.22,434.3 1217.59,432.4 1217.96,430.4 1218.33,428.5 1218.70,426.5 1219.07,424.5 1219.44,422.6 1219.81,420.6 1220.18,418.7 1220.54,416.7 1220.91,414.8 1221.27,412.8 1221.64,410.8 1222.00,408.9 1222.36,406.9 1222.72,405.0 1223.08,403.0 1223.44,401.1 1223.79,399.1 1224.14,397.1 1224.49,395.2 1224.84,393.2 1225.18,391.2 1225.52,389.3 1225.86,387.3 1226.20,385.4 1226.53,383.4 1226.87,381.4 1227.20,379.5 1227.54,377.5 1227.88,375.5 1228.22,373.6 1228.57,371.6 1228.92,369.7 1229.28,367.7 1229.65,365.7 1230.03,363.8 1230.42,361.8 1230.82,359.9 1231.23,357.9 1231.65,356.0 1232.08,354.1 1232.53,352.1 1232.99,350.2 1233.46,348.3 1233.95,346.3 1234.46,344.4 1234.98,342.5 1235.53,340.6 1236.10,338.7 1236.69,336.8 1237.32,335.0 1237.99,333.1 1238.65,331.3 1239.34,329.4 1240.06,327.6 1240.84,325.8 1241.69,324.0 1242.63,322.3 1243.69,320.7 1244.92,319.3 1246.32,318.1 1247.93,317.2 1249.63,317.3 1251.10,318.4 1252.30,319.9 1253.35,321.5 1254.29,323.2 1255.15,324.9 1255.95,326.7 1256.69,328.5 1257.38,330.4 1258.04,332.2 1258.67,334.1 1259.31,336.0 1259.91,337.8 1260.48,339.7 1261.03,341.6 1261.55,343.5 1262.05,345.5 1262.54,347.4 1263.02,349.3 1263.48,351.2 1263.93,353.2 1264.38,355.1 1264.81,357.1 1265.23,359.0 1265.65,360.9 1266.06,362.9 1266.46,364.8 1266.86,366.8 1267.25,368.7 1267.64,370.7 1268.02,372.6 1268.40,374.6 1268.77,376.6 1269.14,378.5 1269.51,380.5 1269.88,382.4 1270.25,384.4 1270.61,386.3 1270.97,388.3 1271.33,390.3 1271.69,392.2 1272.04,394.2 1272.40,396.1 1272.75,398.1 1273.10,400.1 1273.44,402.0 1273.79,404.0 1274.13,405.9 1274.47,407.9 1274.81,409.9 1275.15,411.8 1275.49,413.8 1275.82,415.8 1276.16,417.7 1276.49,419.7 1276.83,421.7 1277.16,423.6 1277.50,425.6 1277.83,427.5 1278.17,429.5 1278.50,431.5 1278.84,433.4 1279.17,435.4 1279.51,437.4 1279.85,439.3 1280.18,441.3 1280.52,443.3 1280.85,445.2 1281.19,447.2 1281.52,449.2 1281.85,451.1 1282.19,453.1 1282.52,455.0 1282.85,457.0 1283.18,459.0 1283.51,460.9 1283.84,462.9 1284.16,464.9 1284.49,466.8 1284.81,468.8 1285.14,470.8 1285.46,472.7 1285.77,474.7 1286.09,476.7 1286.40,478.6 1286.72,480.6 1287.03,482.6 1287.33,484.6 1287.64,486.5 1287.94,488.5 1288.24,490.5 1288.53,492.4 1288.83,494.4 1289.12,496.4 1289.40,498.4 1289.69,500.3 1289.97,502.3 1290.24,504.3 1290.52,506.3 1290.79,508.2 1291.05,510.2 1291.31,512.2 1291.57,514.2 1291.82,516.2 1292.07,518.1 1292.32,520.1 1292.56,522.1 1292.80,524.1 1293.03,526.1 1293.26,528.0 1293.49,530.0 1293.71,532.0 1293.93,534.0 1294.15,536.0 1294.36,538.0 1294.58,540.0 1294.79,541.9 1294.99,543.9 1295.20,545.9 1295.41,547.9 1295.61,549.9 1295.81,551.9 1296.01,553.9 1296.21,555.9 1296.42,557.8 1296.62,559.8 1296.82,561.8 1297.02,563.8 1297.22,565.8 1297.42,567.8 1297.62,569.8 1297.83,571.8 1298.03,573.7 1298.23,575.7 1298.44,577.7 1298.65,579.7 1298.85,581.7 1299.06,583.7 1299.26,585.7 1299.47,587.6 1299.67,589.6 1299.88,591.6 1300.08,593.6 1300.29,595.6 1300.49,597.6 1300.70,599.6 1300.90,601.6 1301.11,603.5 1301.31,605.5 1301.52,607.5 1301.72,609.5 1301.93,611.5 1302.13,613.5 1302.34,615.5 1302.55,617.5 1302.76,619.4 1302.97,621.4 1303.19,623.4 1303.40,625.4 1303.62,627.4 1303.84,629.4 1304.06,631.4 1304.28,633.3 1304.50,635.3 1304.73,637.3 1304.96,639.3 1305.19,641.3 1305.43,643.3 1305.66,645.2 1305.90,647.2 1306.14,649.2 1306.39,651.2 1306.64,653.2 1306.88,655.1 1307.14,657.1 1307.39,659.1 1307.65,661.1 1307.90,663.1 1308.16,665.0 1308.43,667.0 1308.69,669.0 1308.96,671.0 1309.22,673.0 1309.49,674.9 1309.76,676.9 1310.04,678.9 1310.31,680.9 1310.59,682.8 1310.86,684.8 1311.14,686.8 1311.42,688.8 1311.70,690.7 1311.98,692.7 1312.26,694.7 1312.54,696.7 1312.83,698.6 1313.11,700.6 1313.40,702.6 1313.68,704.6 1313.97,706.5 1314.26,708.5 1314.56,710.5 1314.85,712.5 1315.15,714.4 1315.46,716.4 1315.77,718.4 1316.09,720.3 1316.41,722.3 1316.74,724.3 1317.07,726.2 1317.42,728.2 1317.77,730.1 1318.13,732.1 1318.50,734.1 1318.88,736.0 1319.26,738.0 1319.66,739.9 1320.07,741.9 1320.49,743.8 1320.93,745.7 1321.38,747.7 1321.84,749.6 1322.32,751.5 1322.82,753.5 1323.34,755.4 1323.89,757.3 1324.46,759.2 1325.06,761.0 1325.70,762.9 1326.37,764.8 1327.11,766.6 1327.86,768.4 1328.62,770.2 1329.43,772.0 1330.32,773.7 1331.30,775.4 1332.39,777.0 1333.60,778.4 1334.94,779.7 1336.43,780.8 1338.05,781.6 1339.78,782.0 1341.48,781.5 1343.07,780.6 1344.55,779.5 1345.91,778.2 1347.18,776.8 1348.36,775.3 1349.46,773.8 1350.51,772.1 1351.52,770.5 1352.51,768.8 1353.51,767.2 1354.50,765.5 1355.47,763.9 1356.43,762.2 1357.39,760.5 1358.36,758.8 1359.33,757.2 1360.33,755.5 1361.34,753.9 1362.39,752.3 1363.48,750.7 1364.61,749.1 1365.76,747.6 1366.91,746.1 1368.11,744.6 1369.38,743.2 1370.71,741.9 1372.13,740.7 1373.65,739.7 1375.26,738.9 1376.95,738.3 1378.70,738.0 1380.46,737.9 1382.12,738.6 1383.64,739.6 1385.06,740.8 1386.39,742.1 1387.66,743.5 1388.90,745.0 1390.12,746.4 1391.36,747.8 1392.60,749.3 1393.82,750.7 1395.04,752.2 1396.29,753.6 1397.60,754.9 1398.98,756.2 1400.48,757.2 1402.14,757.9 1403.73,757.1 1405.04,755.7 1406.15,754.2 1407.14,752.5 1408.03,750.8 1408.85,749.0 1409.62,747.2 1410.37,745.4 1411.14,743.6 1411.95,741.8 1412.80,740.1 1413.67,738.3 1414.59,736.6 1415.58,735.0 1416.63,733.3 1417.76,731.8 1418.96,730.3 1420.22,728.9 1421.53,727.6 1422.88,726.3 1424.27,725.0 1425.66,723.8 1427.07,722.6 1428.47,721.4 1429.87,720.1 1431.24,718.9 1432.59,717.6 1433.92,716.3 1435.22,714.9 1436.50,713.5 1437.75,712.1 1438.98,710.7 1440.18,709.2 1441.37,707.7 1442.54,706.2 1443.71,704.7 1444.86,703.2 1446.00,701.7 1447.14,700.1 1448.27,698.6 1449.40,697.1 1450.53,695.5 1451.66,694.0 1452.79,692.4 1453.92,690.9 1455.05,689.4 1456.17,687.8 1457.30,686.3 1458.42,684.7 1459.55,683.2 1460.67,681.6 1461.79,680.1 1462.91,678.5 1464.04,677.0 1465.17,675.5 1466.31,673.9 1467.46,672.4 1468.63,670.9 1469.82,669.4 1471.05,668.0 1472.30,666.6 1473.59,665.2 1474.93,663.9 1476.32,662.6 1477.75,661.5 1479.18,660.3 1480.65,659.2 1482.18,658.2 1483.77,657.3 1485.42,656.6 1487.12,656.0 1488.86,655.6 1490.62,655.4 1492.38,655.2 1494.15,655.1 1495.91,655.3 1497.65,655.6 1499.37,656.1 1501.05,656.7 1502.73,657.4 1504.39,658.1 1506.05,658.8 1507.70,659.5 1509.35,660.2 1511.00,660.9 1512.65,661.6 1514.30,662.4 1515.95,663.1 1517.60,663.8 1519.25,664.6 1520.91,665.2 1522.59,665.9 1524.30,666.4 1526.04,666.8 1527.81,666.7 1529.57,666.5 1531.32,666.2 1533.06,665.8 1534.80,665.5 1536.54,665.1 1538.28,664.7 1540.02,664.4 1541.75,663.9 1543.48,663.5 1545.20,663.0 1546.91,662.5 1548.61,662.0 1550.29,661.3 1551.94,660.6 1553.55,659.8 1555.11,658.8 1556.62,657.8 1558.11,656.7 1559.54,655.5 1560.87,654.2 1562.10,652.8 1563.26,651.3 1564.39,649.7 1565.55,648.2 1566.79,646.8 1568.16,645.5 1569.69,644.5 1571.41,644.2 1573.17,644.4 1574.89,644.8 1576.55,645.5 1578.15,646.4 1579.71,647.3 1581.28,648.2 1582.83,649.2 1584.34,650.3 1585.85,651.3 1587.41,652.3 1589.07,653.0 1590.79,652.8 1592.36,651.9 1593.75,650.6 1595.00,649.2 1596.14,647.7 1597.17,646.1 1598.12,644.4 1599.00,642.6 1599.82,640.9 1600.61,639.1 1601.38,637.3 1602.15,635.5 1602.89,633.7 1603.59,631.8 1604.28,630.0 1604.94,628.1 1605.60,626.3 1606.24,624.4 1606.87,622.5 1607.50,620.7 1608.13,618.8 1608.76,616.9 1609.40,615.1 1610.04,613.2 1610.69,611.3 1611.35,609.5 1612.02,607.6 1612.70,605.8 1613.40,603.9 1614.11,602.1 1614.85,600.3 1615.60,598.5 1616.38,596.7 1617.19,594.9 1618.03,593.2 1618.91,591.4 1619.84,589.7 1620.82,588.0 1621.83,586.4 1622.84,584.8 1623.91,583.2 1625.06,581.6 1626.29,580.2 1627.61,578.9 1629.04,577.7 1630.57,576.7 1632.21,576.0 1633.93,575.5 1635.69,575.3 1637.44,575.5 1639.15,576.0 1640.82,576.7 1642.44,577.5 1644.00,578.5 1645.53,579.5 1647.04,580.5 1648.56,581.5 1650.06,582.6 1651.54,583.7 1653.01,584.8 1654.52,585.8 1656.12,586.7 1657.82,587.2 1659.58,587.2 1661.18,586.4 1662.47,585.0 1663.49,583.4 1664.35,581.6 1665.09,579.8 1665.75,577.9 1666.35,576.1 1666.90,574.2 1667.42,572.2 1667.93,570.3 1668.44,568.4 1668.92,566.5 1669.38,564.6 1669.81,562.6 1670.24,560.7 1670.65,558.7 1671.06,556.8 1671.45,554.8 1671.85,552.9 1672.23,550.9 1672.61,549.0 1672.99,547.0 1673.36,545.1 1673.73,543.1 1674.09,541.2 1674.45,539.2 1674.81,537.2 1675.17,535.3 1675.52,533.3 1675.87,531.4 1676.22,529.4 1676.57,527.4 1676.92,525.5 1677.26,523.5 1677.61,521.5 1677.96,519.6 1678.31,517.6 1678.66,515.7 1679.02,513.7 1679.37,511.7 1679.73,509.8 1680.08,507.8 1680.44,505.9 1680.80,503.9 1681.16,501.9 1681.53,500.0 1681.89,498.0 1682.25,496.1 1682.62,494.1 1682.99,492.2 1683.35,490.2 1683.72,488.2 1684.09,486.3 1684.47,484.3 1684.84,482.4 1685.21,480.4 1685.59,478.5 1685.97,476.5" fill="none" stroke="#0000ff" stroke-width="7.1" stroke-linejoin="round"/>
<path transform="scale(1.13,1)" d="M134.51,830.0 136.19,829.3 137.79,828.5 139.20,827.3 140.39,825.8 141.40,824.2 142.27,822.4 143.03,820.6 143.72,818.8 144.35,816.9 144.96,815.0 145.54,813.1 146.11,811.3 146.68,809.4 147.24,807.5 147.81,805.6 148.38,803.7 148.94,801.8 149.50,799.9 150.05,798.0 150.61,796.1 151.16,794.2 151.70,792.3 152.25,790.4 152.78,788.5 153.32,786.6 153.84,784.6 154.36,782.7 154.88,780.8 155.39,778.9 155.90,777.0 156.40,775.1 156.91,773.2 157.41,771.2 157.90,769.3 158.40,767.4 158.90,765.5 159.40,763.6 159.90,761.6 160.40,759.7 160.91,757.8 161.41,755.9 161.93,754.0 162.44,752.1 162.97,750.2 163.49,748.2 164.03,746.3 164.56,744.4 165.11,742.5 165.66,740.6 166.22,738.7 166.78,736.8 167.35,734.9 167.92,733.0 168.50,731.1 169.08,729.3 169.66,727.4 170.25,725.5 170.84,723.6 171.44,721.7 172.04,719.8 172.63,717.9 173.23,716.1 173.84,714.2 174.44,712.3 175.04,710.4 175.64,708.5 176.25,706.7 176.85,704.8 177.45,702.9 178.04,701.0 178.64,699.1 179.23,697.2 179.82,695.4 180.41,693.5 180.99,691.6 181.57,689.7 182.15,687.8 182.72,685.9 183.28,684.0 183.84,682.1 184.39,680.2 184.94,678.3 185.49,676.4 186.02,674.5 186.55,672.6 187.08,670.7 187.60,668.8 188.11,666.9 188.62,664.9 189.13,663.0 189.63,661.1 190.13,659.2 190.62,657.3 191.11,655.3 191.60,653.4 192.08,651.5 192.56,649.6 193.04,647.6 193.52,645.7 193.99,643.8 194.46,641.9 194.93,639.9 195.39,638.0 195.86,636.1 196.32,634.1 196.79,632.2 197.25,630.3 197.71,628.3 198.17,626.4 198.63,624.5 199.09,622.6 199.55,620.6 200.01,618.7 200.47,616.8 200.93,614.8 201.39,612.9 201.85,611.0 202.31,609.0 202.78,607.1 203.24,605.2 203.70,603.2 204.17,601.3 204.64,599.4 205.10,597.5 205.57,595.5 206.04,593.6 206.50,591.7 206.97,589.7 207.44,587.8 207.90,585.9 208.37,583.9 208.83,582.0 209.30,580.1 209.77,578.2 210.23,576.2 210.70,574.3 211.17,572.4 211.64,570.4 212.11,568.5 212.58,566.6 213.05,564.7 213.53,562.7 214.00,560.8 214.48,558.9 214.97,556.9 215.45,555.0 215.94,553.1 216.42,551.2 216.91,549.3 217.40,547.3 217.89,545.4 218.39,543.5 218.90,541.6 219.40,539.7 219.91,537.7 220.43,535.8 220.96,533.9 221.50,532.0 222.06,530.1 222.64,528.2 223.24,526.3 223.86,524.5 224.49,522.6 225.13,520.7 225.79,518.9 226.46,517.0 227.11,515.2 227.78,513.3 228.46,511.5 229.15,509.6 229.84,507.8 230.54,506.0 231.26,504.1 232.01,502.3 232.77,500.5 233.55,498.7 234.34,496.9 235.13,495.1 235.92,493.3 236.70,491.5 237.48,489.7 238.25,487.9 239.02,486.1 239.76,484.3 240.47,482.5 241.15,480.6 241.79,478.8 242.38,476.9 242.96,475.0 243.52,473.1 244.07,471.2 244.61,469.3 245.13,467.4 245.65,465.5 246.15,463.6 246.65,461.6 247.13,459.7 247.62,457.8 248.10,455.9 248.58,453.9 249.05,452.0 249.51,450.1 249.98,448.2 250.44,446.2 250.89,444.3 251.34,442.3 251.78,440.4 252.23,438.5 252.67,436.5 253.11,434.6 253.55,432.7 253.99,430.7 254.43,428.8 254.86,426.8 255.28,424.9 255.69,423.0 256.10,421.0 256.50,419.1 256.90,417.1 257.29,415.2 257.69,413.2 258.08,411.3 258.47,409.3 258.86,407.4 259.25,405.4 259.64,403.5 260.04,401.5 260.43,399.6 260.83,397.6 261.23,395.7 261.63,393.7 262.04,391.8 262.45,389.8 262.87,387.9 263.30,385.9 263.74,384.0 264.19,382.1 264.66,380.1 265.15,378.2 265.68,376.3 266.21,374.4 266.76,372.5 267.31,370.6 267.86,368.7 268.40,366.8 268.93,364.9 269.44,363.0 269.94,361.0 270.43,359.1 270.92,357.2 271.39,355.3 271.85,353.3 272.30,351.4 272.74,349.5 273.17,347.5 273.59,345.6 274.00,343.6 274.40,341.7 274.79,339.7 275.18,337.8 275.57,335.8 275.96,333.9 276.34,331.9 276.73,330.0 277.11,328.0 277.50,326.1 277.89,324.1 278.29,322.2 278.69,320.2 279.10,318.3 279.51,316.3 279.94,314.4 280.37,312.5 280.81,310.5 281.25,308.6 281.71,306.6 282.17,304.7 282.64,302.8 283.12,300.9 283.60,298.9 284.10,297.0 284.60,295.1 285.11,293.2 285.62,291.3 286.15,289.4 286.69,287.5 287.23,285.5 287.79,283.6 288.35,281.8 288.93,279.9 289.51,278.0 290.11,276.1 290.72,274.2 291.33,272.3 291.96,270.5 292.60,268.6 293.25,266.7 293.92,264.9 294.61,263.0 295.32,261.2 296.05,259.4 296.82,257.6 297.63,255.8 298.49,254.1 299.41,252.3 300.38,250.7 301.33,249.0 302.35,247.4 303.44,245.8 304.60,244.3 305.86,242.9 307.21,241.6 308.64,240.4 310.16,239.4 311.77,238.5 313.48,238.0 315.23,238.1 316.91,238.7 318.51,239.6 320.01,240.6 321.42,241.8 322.73,243.2 323.95,244.6 325.08,246.2 326.12,247.8 327.09,249.4 328.01,251.2 328.93,252.9 329.80,254.6 330.61,256.4 331.38,258.2 332.10,260.0 332.80,261.8 333.46,263.7 334.11,265.6 334.73,267.4 335.34,269.3 335.93,271.2 336.51,273.1 337.07,275.0 337.62,276.9 338.16,278.8 338.69,280.7 339.21,282.6 339.71,284.5 340.21,286.5 340.69,288.4 341.17,290.3 341.64,292.2 342.10,294.2 342.55,296.1 343.00,298.0 343.43,300.0 343.87,301.9 344.29,303.9 344.71,305.8 345.13,307.7 345.53,309.7 345.94,311.6 346.34,313.6 346.73,315.5 347.11,317.5 347.49,319.4 347.87,321.4 348.24,323.4 348.61,325.3 348.97,327.3 349.32,329.2 349.68,331.2 350.02,333.2 350.37,335.1 350.71,337.1 351.05,339.0 351.39,341.0 351.72,343.0 352.05,344.9 352.38,346.9 352.71,348.9 353.04,350.8 353.36,352.8 353.69,354.8 354.01,356.7 354.33,358.7 354.66,360.7 354.98,362.6 355.30,364.6 355.62,366.6 355.94,368.5 356.26,370.5 356.58,372.5 356.90,374.4 357.22,376.4 357.53,378.4 357.84,380.3 358.15,382.3 358.46,384.3 358.76,386.3 359.06,388.2 359.36,390.2 359.66,392.2 359.95,394.1 360.25,396.1 360.54,398.1 360.82,400.1 361.11,402.0 361.39,404.0 361.68,406.0 361.96,408.0 362.24,409.9 362.51,411.9 362.79,413.9 363.07,415.9 363.34,417.8 363.61,419.8 363.88,421.8 364.15,423.8 364.42,425.7 364.69,427.7 364.96,429.7 365.23,431.7 365.50,433.7 365.76,435.6 366.03,437.6 366.30,439.6 366.56,441.6 366.83,443.5 367.10,445.5 367.36,447.5 367.63,449.5 367.90,451.5 368.17,453.4 368.43,455.4 368.70,457.4 368.97,459.4 369.24,461.3 369.52,463.3 369.79,465.3 370.06,467.3 370.34,469.2 370.61,471.2 370.89,473.2 371.17,475.2 371.45,477.1 371.74,479.1 372.02,481.1 372.31,483.1 372.60,485.0 372.89,487.0 373.18,489.0 373.47,491.0 373.77,492.9 374.07,494.9 374.37,496.9 374.68,498.8 374.99,500.8 375.30,502.8 375.61,504.8 375.93,506.7 376.25,508.7 376.57,510.7 376.90,512.6 377.23,514.6 377.56,516.5 377.90,518.5 378.24,520.5 378.58,522.4 378.93,524.4 379.28,526.4 379.64,528.3 380.00,530.3 380.37,532.2 380.74,534.2 381.11,536.1 381.49,538.1 381.87,540.1 382.25,542.0 382.64,544.0 383.03,545.9 383.42,547.9 383.81,549.8 384.21,551.8 384.62,553.7 385.04,555.7 385.45,557.6 385.87,559.5 386.29,561.5 386.72,563.4 387.17,565.4 387.65,567.3 388.17,569.2 388.76,571.1 389.49,572.9 390.55,574.5 391.95,573.9 392.85,572.2 393.52,570.3 394.09,568.5 394.59,566.5 395.05,564.6 395.48,562.7 395.89,560.7 396.28,558.8 396.66,556.8 397.05,554.9 397.43,552.9 397.80,550.9 398.16,549.0 398.52,547.0 398.87,545.1 399.22,543.1 399.57,541.1 399.91,539.2 400.25,537.2 400.59,535.3 400.92,533.3 401.26,531.3 401.59,529.4 401.91,527.4 402.23,525.4 402.55,523.5 402.87,521.5 403.18,519.5 403.49,517.6 403.79,515.6 404.10,513.6 404.39,511.6 404.69,509.7 404.98,507.7 405.27,505.7 405.55,503.7 405.83,501.8 406.11,499.8 406.39,497.8 406.66,495.8 406.93,493.9 407.20,491.9 407.47,489.9 407.73,487.9 407.99,486.0 408.24,484.0 408.50,482.0 408.75,480.0 409.00,478.0 409.25,476.1 409.49,474.1 409.74,472.1 409.98,470.1 410.22,468.1 410.45,466.1 410.69,464.2 410.92,462.2 411.15,460.2 411.38,458.2 411.61,456.2 411.84,454.2 412.06,452.3 412.29,450.3 412.51,448.3 412.73,446.3 412.95,444.3 413.17,442.3 413.38,440.4 413.60,438.4 413.81,436.4 414.03,434.4 414.24,432.4 414.45,430.4 414.66,428.4 414.87,426.5 415.08,424.5 415.29,422.5 415.50,420.5 415.71,418.5 415.91,416.5 416.12,414.5 416.33,412.5 416.53,410.6 416.74,408.6 416.94,406.6 417.15,404.6 417.35,402.6 417.56,400.6 417.76,398.6 417.96,396.7 418.17,394.7 418.37,392.7 418.57,390.7 418.76,388.7 418.96,386.7 419.15,384.7 419.35,382.7 419.54,380.7 419.73,378.8 419.92,376.8 420.11,374.8 420.29,372.8 420.47,370.8 420.66,368.8 420.84,366.8 421.02,364.8 421.19,362.8 421.37,360.9 421.55,358.9 421.72,356.9 421.90,354.9 422.07,352.9 422.24,350.9 422.41,348.9 422.58,346.9 422.75,344.9 422.92,342.9 423.09,340.9 423.26,339.0 423.43,337.0 423.59,335.0 423.76,333.0 423.93,331.0 424.10,329.0 424.26,327.0 424.43,325.0 424.60,323.0 424.76,321.0 424.93,319.0 425.10,317.0 425.27,315.1 425.44,313.1 425.61,311.1 425.78,309.1 425.95,307.1 426.12,305.1 426.29,303.1 426.46,301.1 426.63,299.1 426.81,297.1 426.98,295.1 427.15,293.2 427.33,291.2 427.50,289.2 427.67,287.2 427.85,285.2 428.02,283.2 428.19,281.2 428.37,279.2 428.54,277.2 428.71,275.2 428.88,273.2 429.05,271.3 429.22,269.3 429.40,267.3 429.57,265.3 429.74,263.3 429.91,261.3 430.08,259.3 430.25,257.3 430.42,255.3 430.59,253.3 430.76,251.3 430.93,249.4 431.11,247.4 431.28,245.4 431.45,243.4 431.62,241.4 431.80,239.4 431.97,237.4 432.14,235.4 432.32,233.4 432.49,231.4 432.67,229.4 432.85,227.5 433.02,225.5 433.20,223.5 433.38,221.5 433.56,219.5 433.74,217.5 433.92,215.5 434.10,213.5 434.29,211.5 434.47,209.5 434.66,207.6 434.84,205.6 435.03,203.6 435.21,201.6 435.40,199.6 435.59,197.6 435.77,195.6 435.96,193.6 436.14,191.6 436.33,189.6 436.51,187.7 436.69,185.7 436.87,183.7 437.05,181.7 437.23,179.7 437.41,177.7 437.59,175.7 437.77,173.7 437.95,171.7 438.13,169.7 438.32,167.8 438.50,165.8 438.70,163.8 438.89,161.8 439.09,159.8 439.30,157.8 439.51,155.8 439.72,153.8 439.95,151.9 440.18,149.9 440.41,147.9 440.66,145.9 440.91,143.9 441.18,142.0 441.45,140.0 441.73,138.0 442.02,136.0 442.32,134.1 442.63,132.1 442.95,130.1 443.29,128.2 443.64,126.2 443.98,124.2 444.35,122.3 444.73,120.3 445.14,118.4 445.59,116.4 446.09,114.5 446.68,112.6 447.43,110.8 448.51,109.3 450.05,109.3 451.27,110.8 452.26,112.4 453.12,114.2 453.90,116.0 454.62,117.8 455.28,119.6 455.90,121.5 456.48,123.4 457.01,125.3 457.54,127.2 458.07,129.1 458.56,131.1 459.02,133.0 459.46,134.9 459.88,136.9 460.28,138.8 460.67,140.8 461.04,142.7 461.40,144.7 461.75,146.7 462.09,148.6 462.42,150.6 462.75,152.5 463.07,154.5 463.38,156.5 463.69,158.5 463.99,160.4 464.28,162.4 464.57,164.4 464.86,166.3 465.14,168.3 465.42,170.3 465.69,172.3 465.95,174.2 466.21,176.2 466.47,178.2 466.73,180.2 466.98,182.2 467.22,184.1 467.46,186.1 467.70,188.1 467.94,190.1 468.17,192.1 468.40,194.1 468.63,196.0 468.86,198.0 469.08,200.0 469.30,202.0 469.52,204.0 469.74,206.0 469.95,208.0 470.16,209.9 470.38,211.9 470.59,213.9 470.79,215.9 471.00,217.9 471.20,219.9 471.41,221.9 471.61,223.8 471.80,225.8 472.00,227.8 472.19,229.8 472.38,231.8 472.57,233.8 472.75,235.8 472.93,237.8 473.11,239.8 473.29,241.7 473.47,243.7 473.64,245.7 473.82,247.7 473.99,249.7 474.16,251.7 474.33,253.7 474.49,255.7 474.66,257.7 474.83,259.7 475.00,261.7 475.16,263.7 475.33,265.6 475.50,267.6 475.66,269.6 475.83,271.6 476.00,273.6 476.17,275.6 476.34,277.6 476.51,279.6 476.68,281.6 476.86,283.6 477.03,285.6 477.21,287.5 477.39,289.5 477.57,291.5 477.76,293.5 477.94,295.5 478.13,297.5 478.31,299.5 478.50,301.5 478.69,303.5 478.89,305.4 479.08,307.4 479.27,309.4 479.47,311.4 479.66,313.4 479.86,315.4 480.06,317.4 480.26,319.4 480.46,321.4 480.66,323.3 480.86,325.3 481.06,327.3 481.26,329.3 481.46,331.3 481.66,333.3 481.86,335.3 482.07,337.3 482.27,339.2 482.48,341.2 482.68,343.2 482.88,345.2 483.09,347.2 483.29,349.2 483.50,351.2 483.70,353.1 483.91,355.1 484.11,357.1 484.32,359.1 484.52,361.1 484.73,363.1 484.93,365.1 485.14,367.1 485.34,369.0 485.55,371.0 485.75,373.0 485.96,375.0 486.16,377.0 486.36,379.0 486.56,381.0 486.76,383.0 486.96,384.9 487.16,386.9 487.36,388.9 487.56,390.9 487.76,392.9 487.95,394.9 488.15,396.9 488.34,398.9 488.53,400.8 488.73,402.8 488.92,404.8 489.11,406.8 489.30,408.8 489.49,410.8 489.67,412.8 489.86,414.8 490.05,416.8 490.23,418.7 490.42,420.7 490.61,422.7 490.79,424.7 490.98,426.7 491.16,428.7 491.35,430.7 491.53,432.7 491.71,434.7 491.90,436.7 492.08,438.6 492.27,440.6 492.45,442.6 492.63,444.6 492.82,446.6 493.00,448.6 493.19,450.6 493.37,452.6 493.56,454.6 493.74,456.5 493.93,458.5 494.12,460.5 494.30,462.5 494.49,464.5 494.68,466.5 494.87,468.5 495.06,470.5 495.25,472.5 495.44,474.4 495.63,476.4 495.83,478.4 496.02,480.4 496.22,482.4 496.41,484.4 496.61,486.4 496.81,488.4 497.01,490.4 497.21,492.3 497.41,494.3 497.61,496.3 497.82,498.3 498.02,500.3 498.23,502.3 498.44,504.3 498.65,506.2 498.86,508.2 499.08,510.2 499.29,512.2 499.51,514.2 499.73,516.2 499.95,518.2 500.17,520.1 500.40,522.1 500.62,524.1 500.85,526.1 501.08,528.1 501.32,530.1 501.55,532.0 501.79,534.0 502.03,536.0 502.27,538.0 502.52,540.0 502.76,542.0 503.01,543.9 503.27,545.9 503.52,547.9 503.78,549.9 504.04,551.9 504.31,553.8 504.58,555.8 504.85,557.8 505.13,559.8 505.42,561.7 505.70,563.7 506.00,565.7 506.29,567.7 506.60,569.6 506.90,571.6 507.22,573.6 507.53,575.5 507.85,577.5 508.18,579.5 508.51,581.4 508.84,583.4 509.18,585.4 509.52,587.3 509.86,589.3 510.21,591.2 510.56,593.2 510.91,595.2 511.27,597.1 511.63,599.1 511.99,601.0 512.35,603.0 512.72,605.0 513.08,606.9 513.45,608.9 513.82,610.8 514.19,612.8 514.57,614.7 514.94,616.7 515.32,618.6 515.69,620.6 516.07,622.6 516.44,624.5 516.82,626.5 517.20,628.4 517.58,630.4 517.95,632.3 518.33,634.3 518.71,636.2 519.09,638.2 519.47,640.1 519.85,642.1 520.23,644.1 520.61,646.0 520.99,648.0 521.38,649.9 521.76,651.9 522.15,653.8 522.55,655.8 522.94,657.7 523.34,659.7 523.73,661.6 524.13,663.6 524.53,665.5 524.94,667.5 525.34,669.4 525.75,671.4 526.15,673.3 526.56,675.2 526.97,677.2 527.38,679.1 527.79,681.1 528.20,683.0 528.61,685.0 529.02,686.9 529.44,688.9 529.85,690.8 530.26,692.8 530.67,694.7 531.08,696.7 531.48,698.6 531.89,700.5 532.30,702.5 532.70,704.4 533.11,706.4 533.51,708.3 533.91,710.3 534.31,712.2 534.71,714.2 535.11,716.1 535.50,718.1 535.90,720.0 536.29,722.0 536.68,723.9 537.07,725.9 537.46,727.8 537.85,729.8 538.24,731.7 538.63,733.7 539.01,735.6 539.40,737.6 539.79,739.5 540.17,741.5 540.56,743.5 540.94,745.4 541.33,747.4 541.71,749.3 542.09,751.3 542.48,753.2 542.86,755.2 543.24,757.1 543.62,759.1 544.00,761.0 544.39,763.0 544.77,764.9 545.15,766.9 545.53,768.8 545.91,770.8 546.29,772.8 546.67,774.7 547.05,776.7 547.43,778.6 547.81,780.6 548.19,782.5 548.57,784.5 548.95,786.4 549.33,788.4 549.71,790.3 550.09,792.3 550.46,794.2 550.84,796.2 551.22,798.2 551.60,800.1 551.97,802.1 552.35,804.0 552.73,806.0 553.11,807.9 553.48,809.9 553.86,811.8 554.23,813.8 554.61,815.7 554.99,817.7 555.36,819.7 555.74,821.6 556.11,823.6 556.48,825.5 556.86,827.5 557.23,829.4 557.60,831.4 557.97,833.3 558.33,835.3 558.69,837.3 559.05,839.2 559.40,841.2 559.74,843.1 560.08,845.1 560.40,847.1 560.72,849.0 561.04,851.0 561.35,853.0 561.66,854.9 561.96,856.9 562.25,858.9 562.54,860.9 562.83,862.8 563.13,864.8 563.44,866.8 563.76,868.7 564.11,870.7 564.50,872.7 564.96,874.6 565.58,876.5 566.83,877.2 567.70,875.5 568.30,873.6 568.80,871.7 569.24,869.7 569.64,867.8 570.01,865.8 570.37,863.9 570.72,861.9 571.06,860.0 571.39,858.0 571.71,856.0 572.04,854.1 572.36,852.1 572.69,850.1 573.02,848.2 573.34,846.2 573.67,844.2 574.01,842.3 574.34,840.3 574.69,838.3 575.03,836.4 575.38,834.4 575.73,832.4 576.09,830.5 576.45,828.5 576.80,826.6 577.16,824.6 577.52,822.7 577.88,820.7 578.23,818.7 578.59,816.8 578.94,814.8 579.29,812.9 579.64,810.9 579.99,808.9 580.34,807.0 580.68,805.0 581.03,803.0 581.37,801.1 581.71,799.1 582.05,797.2 582.39,795.2 582.73,793.2 583.07,791.3 583.40,789.3 583.74,787.3 584.08,785.4 584.41,783.4 584.75,781.4 585.09,779.5 585.42,777.5 585.76,775.6 586.09,773.6 586.43,771.6 586.76,769.7 587.09,767.7 587.42,765.7 587.76,763.8 588.09,761.8 588.42,759.8 588.74,757.9 589.07,755.9 589.40,753.9 589.72,752.0 590.05,750.0 590.37,748.0 590.70,746.1 591.02,744.1 591.34,742.1 591.67,740.2 591.99,738.2 592.31,736.2 592.63,734.3 592.95,732.3 593.28,730.3 593.60,728.4 593.92,726.4 594.24,724.4 594.56,722.5 594.89,720.5 595.21,718.5 595.53,716.6 595.86,714.6 596.18,712.6 596.51,710.7 596.84,708.7 597.16,706.7 597.49,704.8 597.82,702.8 598.15,700.8 598.48,698.9 598.82,696.9 599.15,694.9 599.48,693.0 599.81,691.0 600.15,689.1 600.48,687.1 600.82,685.1 601.15,683.2 601.49,681.2 601.82,679.2 602.16,677.3 602.50,675.3 602.83,673.3 603.17,671.4 603.50,669.4 603.84,667.4 604.18,665.5 604.52,663.5 604.86,661.6 605.20,659.6 605.54,657.6 605.88,655.7 606.22,653.7 606.57,651.7 606.91,649.8 607.26,647.8 607.61,645.9 607.96,643.9 608.31,641.9 608.66,640.0 609.02,638.0 609.37,636.1 609.73,634.1 610.09,632.1 610.45,630.2 610.82,628.2 611.18,626.3 611.55,624.3 611.92,622.4 612.30,620.4 612.67,618.4 613.05,616.5 613.43,614.5 613.81,612.6 614.19,610.6 614.58,608.7 614.96,606.7 615.35,604.8 615.74,602.8 616.14,600.9 616.53,598.9 616.93,597.0 617.33,595.0 617.73,593.1 618.13,591.1 618.54,589.2 618.95,587.2 619.36,585.3 619.77,583.3 620.19,581.4 620.61,579.5 621.03,577.5 621.45,575.6 621.88,573.6 622.31,571.7 622.74,569.7 623.18,567.8 623.62,565.9 624.06,563.9 624.50,562.0 624.95,560.1 625.40,558.1 625.85,556.2 626.30,554.3 626.76,552.3 627.22,550.4 627.68,548.5 628.14,546.5 628.60,544.6 629.07,542.7 629.54,540.7 630.02,538.8 630.50,536.9 630.98,535.0 631.47,533.0 631.96,531.1 632.46,529.2 632.96,527.3 633.47,525.4 633.99,523.5 634.52,521.5 635.05,519.6 635.60,517.7 636.15,515.8 636.71,513.9 637.28,512.0 637.86,510.2 638.45,508.3 639.06,506.4 639.67,504.5 640.30,502.6 640.94,500.8 641.59,498.9 642.26,497.1 642.94,495.2 643.63,493.4 644.33,491.5 645.06,489.7 645.79,487.9 646.54,486.1 647.31,484.3 648.10,482.5 648.90,480.7 649.71,478.9 650.55,477.2 651.40,475.4 652.27,473.7 653.16,471.9 654.06,470.2 655.00,468.5 655.96,466.8 656.94,465.2 657.96,463.5 659.02,461.9 660.12,460.4 661.27,458.9 662.47,457.4 663.72,456.0 665.02,454.6 666.31,453.2 667.65,451.9 669.05,450.7 670.51,449.6 672.01,448.5 673.56,447.6 675.16,446.7 676.80,445.9 678.49,445.3 680.22,444.9 681.98,444.9 683.68,445.5 685.30,446.3 686.82,447.3 688.25,448.5 689.61,449.8 690.89,451.1 692.11,452.6 693.26,454.1 694.36,455.7 695.40,457.3 696.46,458.9 697.47,460.5 698.42,462.2 699.34,463.9 700.21,465.7 701.04,467.4 701.84,469.2 702.60,471.0 703.33,472.9 704.03,474.7 704.71,476.5 705.36,478.4 706.00,480.3 706.61,482.1 707.20,484.0 707.78,485.9 708.35,487.8 708.90,489.7 709.44,491.6 709.96,493.5 710.48,495.4 711.00,497.4 711.50,499.3 712.00,501.2 712.50,503.1 712.99,505.0 713.48,507.0 713.97,508.9 714.46,510.8 714.95,512.7 715.44,514.6 715.92,516.6 716.41,518.5 716.89,520.4 717.37,522.3 717.84,524.3 718.31,526.2 718.77,528.1 719.23,530.1 719.68,532.0 720.13,533.9 720.57,535.9 721.00,537.8 721.43,539.8 721.85,541.7 722.27,543.6 722.68,545.6 723.09,547.5 723.50,549.5 723.91,551.4 724.32,553.4 724.73,555.3 725.15,557.3 725.56,559.2 725.97,561.1 726.39,563.1 726.81,565.0 727.23,567.0 727.65,568.9 728.08,570.9 728.50,572.8 728.93,574.7 729.36,576.7 729.78,578.6 730.21,580.6 730.64,582.5 731.07,584.5 731.49,586.4 731.93,588.3 732.36,590.3 732.79,592.2 733.23,594.1 733.67,596.1 734.12,598.0 734.57,600.0 735.03,601.9 735.50,603.8 735.97,605.7 736.45,607.7 736.94,609.6 737.44,611.5 737.95,613.4 738.47,615.3 739.00,617.2 739.54,619.2 740.09,621.1 740.66,622.9 741.23,624.8 741.82,626.7 742.42,628.6 743.03,630.5 743.64,632.4 744.27,634.2 744.91,636.1 745.55,638.0 746.20,639.8 746.86,641.7 747.52,643.5 748.20,645.4 748.87,647.2 749.55,649.1 750.24,650.9 750.93,652.8 751.62,654.6 752.32,656.4 753.02,658.3 753.73,660.1 754.44,662.0 755.16,663.8 755.88,665.6 756.61,667.4 757.35,669.2 758.10,671.1 758.86,672.9 759.63,674.7 760.42,676.5 761.22,678.2 762.04,680.0 762.88,681.8 763.73,683.5 764.61,685.3 765.50,687.0 766.41,688.7 767.35,690.4 768.30,692.1 769.27,693.8 770.27,695.4 771.28,697.1 772.31,698.7 773.37,700.3 774.44,701.9 775.53,703.5 776.64,705.0 777.77,706.6 778.92,708.1 780.09,709.6 781.28,711.1 782.49,712.5 783.71,714.0 784.96,715.4 786.23,716.8 787.51,718.2 788.82,719.5 790.16,720.8 791.52,722.1 792.90,723.3 794.31,724.6 795.75,725.7 797.21,726.9 798.70,727.9 800.21,729.0 801.75,730.0 803.30,730.9 804.85,731.9 806.44,732.8 808.04,733.6 809.67,734.4 811.31,735.1 812.98,735.8 814.68,736.4 816.40,736.9 818.15,737.2 819.91,737.3 821.66,736.9 823.36,736.4 825.01,735.7 826.60,734.8 828.12,733.8 829.56,732.6 830.90,731.3 832.16,729.9 833.32,728.4 834.40,726.8 835.47,725.2 836.50,723.6 837.45,721.9 838.33,720.2 839.14,718.4 839.91,716.6 840.63,714.7 841.31,712.9 841.96,711.0 842.58,709.2 843.17,707.3 843.75,705.4 844.30,703.5 844.84,701.6 845.36,699.7 845.86,697.8 846.35,695.8 846.83,693.9 847.29,692.0 847.74,690.0 848.18,688.1 848.60,686.2 849.02,684.2 849.42,682.3 849.82,680.3 850.21,678.4 850.58,676.4 850.96,674.5 851.32,672.5 851.68,670.5 852.04,668.6 852.39,666.6 852.73,664.7 853.08,662.7 853.42,660.7 853.75,658.8 854.08,656.8 854.41,654.8 854.73,652.9 855.05,650.9 855.36,648.9 855.67,647.0 855.98,645.0 856.28,643.0 856.57,641.0 856.86,639.1 857.14,637.1 857.42,635.1 857.70,633.1 857.97,631.2 858.25,629.2 858.52,627.2 858.78,625.2 859.05,623.3 859.32,621.3 859.59,619.3 859.86,617.3 860.13,615.4 860.40,613.4 860.68,611.4 860.96,609.4 861.24,607.5 861.53,605.5 861.83,603.5 862.13,601.5 862.43,599.6 862.74,597.6 863.06,595.6 863.39,593.7 863.72,591.7 864.06,589.7 864.41,587.8 864.77,585.8 865.13,583.9 865.50,581.9 865.87,579.9 866.25,578.0 866.63,576.0 867.02,574.1 867.40,572.1 867.79,570.2 868.18,568.2 868.57,566.3 868.95,564.3 869.34,562.4 869.72,560.4 870.09,558.5 870.47,556.5 870.84,554.6 871.21,552.6 871.58,550.6 871.94,548.7 872.30,546.7 872.66,544.8 873.01,542.8 873.37,540.8 873.72,538.9 874.07,536.9 874.42,535.0 874.77,533.0 875.12,531.0 875.46,529.1 875.81,527.1 876.15,525.2 876.50,523.2 876.84,521.2 877.18,519.3 877.52,517.3 877.86,515.3 878.20,513.4 878.54,511.4 878.88,509.4 879.22,507.5 879.55,505.5 879.89,503.6 880.23,501.6 880.56,499.6 880.90,497.7 881.23,495.7 881.57,493.7 881.90,491.8 882.23,489.8 882.57,487.8 882.90,485.9 883.23,483.9 883.56,481.9 883.90,480.0 884.23,478.0 884.56,476.1 884.89,474.1 885.22,472.1 885.55,470.2 885.88,468.2 886.20,466.2 886.53,464.3 886.86,462.3 887.19,460.3 887.51,458.4 887.84,456.4 888.17,454.4 888.49,452.5 888.82,450.5 889.14,448.5 889.46,446.6 889.79,444.6 890.11,442.6 890.43,440.7 890.76,438.7 891.08,436.7 891.40,434.8 891.72,432.8 892.04,430.8 892.36,428.9 892.68,426.9 893.00,424.9 893.31,423.0 893.63,421.0 893.95,419.0 894.27,417.1 894.58,415.1 894.90,413.1 895.21,411.1 895.53,409.2 895.84,407.2 896.15,405.2 896.47,403.3 896.78,401.3 897.08,399.3 897.39,397.4 897.70,395.4 898.00,393.4 898.30,391.4 898.59,389.5 898.89,387.5 899.18,385.5 899.48,383.6 899.77,381.6 900.06,379.6 900.35,377.6 900.65,375.7 900.95,373.7 901.25,371.7 901.56,369.8 901.87,367.8 902.19,365.8 902.52,363.9 902.86,361.9 903.21,359.9 903.58,358.0 903.95,356.0 904.33,354.1 904.72,352.1 905.13,350.2 905.55,348.2 905.98,346.3 906.42,344.3 906.88,342.4 907.34,340.5 907.82,338.6 908.31,336.6 908.82,334.7 909.33,332.8 909.87,330.9 910.42,329.0 910.99,327.1 911.58,325.2 912.21,323.3 912.86,321.5 913.55,319.6 914.29,317.8 915.07,316.0 915.89,314.3 916.77,312.5 917.69,310.8 918.65,309.1 919.66,307.5 920.69,305.9 921.74,304.3 922.81,302.7 923.88,301.1 924.95,299.5 926.01,297.9 927.04,296.2 928.05,294.6 929.03,292.9 929.96,291.2 930.86,289.5 931.70,287.7 932.50,286.0 933.26,284.2 933.98,282.3 934.66,280.5 935.31,278.6 935.93,276.7 936.53,274.9 937.12,273.0 937.69,271.1 938.25,269.2 938.81,267.3 939.35,265.4 939.89,263.5 940.42,261.6 940.94,259.7 941.45,257.7 941.96,255.8 942.45,253.9 942.93,252.0 943.40,250.0 943.85,248.1 944.29,246.2 944.73,244.2 945.14,242.3 945.55,240.3 945.94,238.4 946.32,236.4 946.69,234.5 947.04,232.5 947.39,230.6 947.71,228.6 948.02,226.6 948.32,224.7 948.60,222.7 948.87,220.7 949.13,218.7 949.37,216.7 949.60,214.8 949.82,212.8 950.03,210.8 950.24,208.8 950.43,206.8 950.61,204.8 950.79,202.8 950.97,200.8 951.14,198.9 951.30,196.9 951.46,194.9 951.62,192.9 951.77,190.9 951.92,188.9 952.07,186.9 952.21,184.9 952.35,182.9 952.49,180.9 952.62,178.9 952.75,176.9 952.87,174.9 952.99,172.9 953.11,170.9 953.24,168.9 953.37,166.9 953.50,165.0 953.65,163.0 953.81,161.0 953.99,159.0 954.20,157.0 954.40,155.0 954.61,153.0 954.86,151.0 955.14,149.1 955.47,147.1 955.87,145.1 956.34,143.2 956.92,141.3 957.66,139.5 958.76,138.0 960.10,138.8 960.94,140.6 961.57,142.4 962.09,144.4 962.52,146.3 962.90,148.3 963.22,150.2 963.51,152.2 963.78,154.2 964.01,156.2 964.26,158.1 964.49,160.1 964.69,162.1 964.88,164.1 965.05,166.1 965.21,168.1 965.36,170.1 965.50,172.1 965.63,174.1 965.76,176.1 965.88,178.1 966.00,180.0 966.12,182.0 966.23,184.0 966.34,186.0 966.44,188.0 966.55,190.0 966.66,192.0 966.76,194.0 966.86,196.0 966.97,198.0 967.07,200.0 967.17,202.0 967.27,204.0 967.37,206.0 967.46,208.0 967.56,210.0 967.65,212.0 967.74,214.0 967.83,216.0 967.92,218.0 968.01,220.0 968.09,222.0 968.18,224.0 968.26,226.0 968.34,228.0 968.43,230.0 968.51,232.0 968.59,234.0 968.67,236.0 968.75,238.0 968.83,240.0 968.90,242.0 968.98,244.0 969.06,246.0 969.14,248.0 969.21,250.0 969.29,252.0 969.36,254.0 969.44,256.0 969.51,258.0 969.59,260.0 969.66,262.0 969.73,264.0 969.80,266.0 969.87,268.0 969.94,270.0 970.01,272.0 970.08,273.9 970.15,275.9 970.22,277.9 970.29,279.9 970.36,281.9 970.43,283.9 970.50,285.9 970.56,287.9 970.63,289.9 970.70,291.9 970.77,293.9 970.84,295.9 970.91,297.9 970.98,299.9 971.05,301.9 971.12,303.9 971.19,305.9 971.25,307.9 971.32,309.9 971.39,311.9 971.46,313.9 971.53,315.9 971.60,317.9 971.67,319.9 971.74,321.9 971.81,323.9 971.88,325.9 971.95,327.9 972.02,329.9 972.09,331.9 972.16,333.9 972.23,335.9 972.30,337.9 972.37,339.9 972.44,341.9 972.51,343.9 972.58,345.9 972.65,347.9 972.72,349.9 972.79,351.9 972.86,353.9 972.94,355.9 973.01,357.9 973.08,359.9 973.15,361.9 973.23,363.9 973.30,365.9 973.37,367.9 973.45,369.9 973.52,371.9 973.59,373.9 973.67,375.9 973.74,377.9 973.81,379.9 973.89,381.9 973.96,383.9 974.03,385.9 974.10,387.9 974.18,389.9 974.25,391.9 974.32,393.9 974.39,395.9 974.46,397.9 974.53,399.9 974.60,401.9 974.67,403.9 974.74,405.9 974.81,407.9 974.88,409.9 974.95,411.9 975.02,413.9 975.09,415.9 975.16,417.9 975.23,419.9 975.30,421.9 975.37,423.9 975.44,425.9 975.52,427.9 975.59,429.9 975.66,431.9 975.73,433.9 975.80,435.9 975.87,437.9 975.95,439.9 976.02,441.8 976.09,443.8 976.17,445.8 976.24,447.8 976.32,449.8 976.40,451.8 976.47,453.8 976.55,455.8 976.63,457.8 976.70,459.8 976.78,461.8 976.86,463.8 976.94,465.8 977.03,467.8 977.11,469.8 977.19,471.8 977.27,473.8 977.36,475.8 977.45,477.8 977.53,479.8 977.62,481.8 977.71,483.8 977.80,485.8 977.89,487.8 977.98,489.8 978.07,491.8 978.17,493.8 978.26,495.8 978.36,497.8 978.46,499.8 978.56,501.8 978.66,503.8 978.76,505.8 978.86,507.8 978.96,509.8 979.07,511.8 979.18,513.8 979.29,515.8 979.40,517.8 979.51,519.8 979.62,521.8 979.74,523.8 979.86,525.8 979.98,527.7 980.11,529.7 980.24,531.7 980.37,533.7 980.50,535.7 980.64,537.7 980.79,539.7 980.93,541.7 981.09,543.7 981.24,545.7 981.41,547.7 981.57,549.7 981.74,551.7 981.92,553.7 982.09,555.7 982.28,557.6 982.46,559.6 982.65,561.6 982.84,563.6 983.04,565.6 983.23,567.6 983.44,569.6 983.64,571.6 983.84,573.5 984.05,575.5 984.26,577.5 984.48,579.5 984.70,581.5 984.92,583.5 985.14,585.5 985.37,587.4 985.60,589.4 985.84,591.4 986.09,593.4 986.35,595.4 986.62,597.3 986.89,599.3 987.19,601.3 987.49,603.3 987.82,605.2 988.16,607.2 988.53,609.1 988.92,611.1 989.34,613.0 989.79,615.0 990.28,616.9 990.81,618.8 991.39,620.7 992.03,622.6 992.73,624.4 993.50,626.2 994.35,628.0 995.30,629.6 996.35,631.3 997.51,632.8 998.78,634.2 1000.16,635.4 1001.65,636.5 1003.23,637.4 1004.87,638.1 1006.56,638.7 1008.28,639.2 1010.02,639.6 1011.77,639.9 1013.53,640.1 1015.28,640.4 1017.03,640.7 1018.77,641.1 1020.50,641.5 1022.21,642.0 1023.89,642.6 1025.54,643.4 1027.16,644.2 1028.73,645.1 1030.25,646.1 1031.72,647.2 1033.15,648.4 1034.54,649.7 1035.90,650.9 1037.22,652.3 1038.52,653.6 1039.81,655.0 1041.08,656.4 1042.34,657.8 1043.60,659.2 1044.85,660.6 1046.11,662.0 1047.36,663.4 1048.62,664.9 1049.87,666.3 1051.13,667.7 1052.38,669.1 1053.63,670.5 1054.87,671.9 1056.09,673.4 1057.31,674.8 1058.51,676.3 1059.69,677.8 1060.84,679.3 1061.97,680.9 1063.07,682.4 1064.14,684.0 1065.18,685.6 1066.20,687.3 1067.20,688.9 1068.18,690.6 1069.14,692.3 1070.10,694.0 1071.04,695.6 1071.98,697.3 1072.90,699.1 1073.81,700.8 1074.73,702.5 1075.65,704.2 1076.58,705.9 1077.53,707.6 1078.52,709.2 1079.52,710.9 1080.56,712.5 1081.64,714.1 1082.87,715.5 1084.45,716.1 1085.72,714.8 1086.59,713.1 1087.29,711.2 1087.91,709.3 1088.49,707.5 1089.06,705.6 1089.63,703.7 1090.20,701.8 1090.76,699.9 1091.32,698.0 1091.87,696.1 1092.41,694.2 1092.94,692.3 1093.46,690.4 1093.99,688.4 1094.51,686.5 1095.02,684.6 1095.53,682.7 1096.03,680.8 1096.54,678.9 1097.05,676.9 1097.56,675.0 1098.08,673.1 1098.60,671.2 1099.13,669.3 1099.67,667.4 1100.21,665.5 1100.76,663.6 1101.32,661.7 1101.89,659.8 1102.46,657.9 1103.04,656.0 1103.64,654.1 1104.25,652.2 1104.87,650.4 1105.50,648.5 1106.15,646.6 1106.82,644.8 1107.51,643.0 1108.22,641.1 1108.96,639.3 1109.72,637.5 1110.51,635.7 1111.33,633.9 1112.19,632.2 1113.09,630.5 1114.03,628.8 1115.01,627.1 1116.05,625.5 1117.14,623.9 1118.29,622.4 1119.51,620.9 1120.79,619.6 1122.05,618.2 1123.38,616.8 1124.78,615.6 1126.26,614.5 1127.82,613.6 1129.45,612.8 1131.15,612.2 1132.88,611.8 1134.64,611.6 1136.41,611.5 1138.15,611.8 1139.80,612.5 1141.33,613.5 1142.76,614.7 1144.13,616.0 1145.43,617.3 1146.68,618.7 1147.88,620.2 1149.04,621.7 1150.16,623.3 1151.25,624.8 1152.36,626.4 1153.43,628.0 1154.47,629.6 1155.50,631.2 1156.50,632.9 1157.50,634.5 1158.49,636.2 1159.47,637.9 1160.46,639.5 1161.45,641.2 1162.45,642.8 1163.47,644.5 1164.53,646.1 1165.56,647.7 1166.61,649.3 1167.70,650.9 1168.84,652.4 1170.04,653.9 1171.32,655.3 1172.68,656.5 1174.14,657.7 1175.70,658.6 1177.37,659.3 1179.09,659.1 1180.64,658.1 1182.02,656.9 1183.26,655.4 1184.39,653.9 1185.44,652.3 1186.41,650.6 1187.31,648.9 1188.15,647.1 1188.94,645.3 1189.70,643.5 1190.47,641.7 1191.20,639.9 1191.89,638.1 1192.55,636.2 1193.18,634.3 1193.78,632.5 1194.37,630.6 1194.94,628.7 1195.49,626.8 1196.03,624.9 1196.55,623.0 1197.06,621.0 1197.56,619.1 1198.04,617.2 1198.52,615.3 1198.98,613.3 1199.44,611.4 1199.88,609.5 1200.32,607.5 1200.75,605.6 1201.18,603.6 1201.59,601.7 1202.01,599.8 1202.41,597.8 1202.82,595.9 1203.21,593.9 1203.61,592.0 1204.00,590.0 1204.38,588.1 1204.76,586.1 1205.14,584.2 1205.51,582.2 1205.88,580.2 1206.24,578.3 1206.60,576.3 1206.96,574.4 1207.31,572.4 1207.66,570.4 1208.01,568.5 1208.35,566.5 1208.69,564.6 1209.03,562.6 1209.36,560.6 1209.70,558.7 1210.03,556.7 1210.36,554.7 1210.68,552.8 1211.01,550.8 1211.34,548.8 1211.66,546.9 1211.98,544.9 1212.30,542.9 1212.62,541.0 1212.94,539.0 1213.26,537.0 1213.57,535.1 1213.88,533.1 1214.19,531.1 1214.50,529.2 1214.80,527.2 1215.11,525.2 1215.41,523.2 1215.71,521.3 1216.00,519.3 1216.30,517.3 1216.59,515.3 1216.88,513.4 1217.17,511.4 1217.46,509.4 1217.75,507.5 1218.03,505.5 1218.32,503.5 1218.60,501.5 1218.88,499.6 1219.16,497.6 1219.44,495.6 1219.72,493.6 1220.00,491.7 1220.28,489.7 1220.55,487.7 1220.83,485.7 1221.10,483.8 1221.38,481.8 1221.66,479.8 1221.93,477.8 1222.21,475.8 1222.48,473.9 1222.76,471.9 1223.03,469.9 1223.31,467.9 1223.58,466.0 1223.86,464.0 1224.14,462.0 1224.42,460.0 1224.70,458.1 1224.97,456.1 1225.26,454.1 1225.54,452.1 1225.82,450.2 1226.10,448.2 1226.39,446.2 1226.68,444.2 1226.96,442.3 1227.25,440.3 1227.54,438.3 1227.84,436.3 1228.13,434.4 1228.43,432.4 1228.73,430.4 1229.03,428.5 1229.33,426.5 1229.64,424.5 1229.94,422.6 1230.25,420.6 1230.57,418.6 1230.88,416.6 1231.20,414.7 1231.52,412.7 1231.84,410.7 1232.17,408.8 1232.50,406.8 1232.83,404.8 1233.17,402.9 1233.51,400.9 1233.85,399.0 1234.20,397.0 1234.55,395.0 1234.91,393.1 1235.27,391.1 1235.64,389.2 1236.01,387.2 1236.38,385.2 1236.77,383.3 1237.15,381.3 1237.55,379.4 1237.94,377.4 1238.35,375.5 1238.76,373.6 1239.18,371.6 1239.60,369.7 1240.03,367.7 1240.46,365.8 1240.90,363.8 1241.35,361.9 1241.81,360.0 1242.27,358.0 1242.74,356.1 1243.22,354.2 1243.71,352.3 1244.22,350.4 1244.73,348.4 1245.26,346.5 1245.80,344.6 1246.36,342.7 1246.95,340.8 1247.56,339.0 1248.18,337.1 1248.80,335.2 1249.45,333.4 1250.13,331.5 1250.86,329.7 1251.64,327.9 1252.49,326.1 1253.46,324.5 1254.57,322.9 1255.90,321.6 1257.52,321.0 1259.12,321.8 1260.49,323.1 1261.69,324.5 1262.79,326.1 1263.80,327.7 1264.74,329.4 1265.62,331.2 1266.45,332.9 1267.23,334.7 1267.97,336.5 1268.72,338.4 1269.43,340.2 1270.11,342.0 1270.75,343.9 1271.37,345.8 1271.95,347.7 1272.52,349.6 1273.07,351.5 1273.59,353.4 1274.11,355.3 1274.60,357.2 1275.09,359.1 1275.56,361.1 1276.02,363.0 1276.48,364.9 1276.92,366.9 1277.36,368.8 1277.80,370.7 1278.23,372.7 1278.66,374.6 1279.08,376.6 1279.51,378.5 1279.92,380.4 1280.34,382.4 1280.75,384.3 1281.16,386.3 1281.57,388.2 1281.97,390.2 1282.37,392.1 1282.77,394.1 1283.16,396.0 1283.54,398.0 1283.92,399.9 1284.30,401.9 1284.67,403.8 1285.04,405.8 1285.41,407.8 1285.77,409.7 1286.13,411.7 1286.48,413.6 1286.84,415.6 1287.19,417.5 1287.54,419.5 1287.88,421.5 1288.23,423.4 1288.57,425.4 1288.91,427.4 1289.25,429.3 1289.58,431.3 1289.92,433.3 1290.25,435.2 1290.58,437.2 1290.91,439.1 1291.24,441.1 1291.56,443.1 1291.89,445.0 1292.21,447.0 1292.53,449.0 1292.85,450.9 1293.16,452.9 1293.48,454.9 1293.79,456.9 1294.10,458.8 1294.41,460.8 1294.72,462.8 1295.03,464.7 1295.33,466.7 1295.63,468.7 1295.93,470.6 1296.23,472.6 1296.53,474.6 1296.82,476.6 1297.11,478.5 1297.41,480.5 1297.70,482.5 1297.98,484.5 1298.27,486.4 1298.55,488.4 1298.83,490.4 1299.12,492.4 1299.39,494.3 1299.67,496.3 1299.94,498.3 1300.22,500.3 1300.49,502.2 1300.75,504.2 1301.02,506.2 1301.28,508.2 1301.54,510.1 1301.80,512.1 1302.05,514.1 1302.31,516.1 1302.55,518.1 1302.80,520.0 1303.05,522.0 1303.29,524.0 1303.53,526.0 1303.77,528.0 1304.01,530.0 1304.24,531.9 1304.48,533.9 1304.71,535.9 1304.95,537.9 1305.18,539.9 1305.41,541.9 1305.64,543.8 1305.87,545.8 1306.10,547.8 1306.33,549.8 1306.56,551.8 1306.79,553.8 1307.03,555.7 1307.26,557.7 1307.49,559.7 1307.72,561.7 1307.95,563.7 1308.18,565.7 1308.41,567.6 1308.65,569.6 1308.88,571.6 1309.11,573.6 1309.34,575.6 1309.57,577.6 1309.80,579.5 1310.02,581.5 1310.25,583.5 1310.48,585.5 1310.71,587.5 1310.94,589.5 1311.17,591.4 1311.39,593.4 1311.62,595.4 1311.85,597.4 1312.08,599.4 1312.30,601.4 1312.53,603.3 1312.76,605.3 1312.99,607.3 1313.21,609.3 1313.44,611.3 1313.67,613.3 1313.89,615.2 1314.12,617.2 1314.35,619.2 1314.57,621.2 1314.79,623.2 1315.02,625.2 1315.24,627.2 1315.46,629.1 1315.68,631.1 1315.90,633.1 1316.12,635.1 1316.34,637.1 1316.56,639.1 1316.78,641.0 1317.00,643.0 1317.22,645.0 1317.44,647.0 1317.67,649.0 1317.89,651.0 1318.12,653.0 1318.35,654.9 1318.58,656.9 1318.81,658.9 1319.05,660.9 1319.29,662.9 1319.53,664.8 1319.78,666.8 1320.03,668.8 1320.29,670.8 1320.54,672.8 1320.80,674.7 1321.07,676.7 1321.34,678.7 1321.61,680.7 1321.89,682.7 1322.18,684.6 1322.46,686.6 1322.75,688.6 1323.05,690.5 1323.34,692.5 1323.65,694.5 1323.95,696.5 1324.26,698.4 1324.58,700.4 1324.89,702.4 1325.22,704.3 1325.54,706.3 1325.87,708.3 1326.20,710.2 1326.54,712.2 1326.88,714.2 1327.22,716.1 1327.57,718.1 1327.92,720.0 1328.27,722.0 1328.63,724.0 1329.00,725.9 1329.37,727.9 1329.74,729.8 1330.13,731.8 1330.52,733.7 1330.92,735.7 1331.33,737.6 1331.74,739.6 1332.17,741.5 1332.62,743.4 1333.07,745.4 1333.54,747.3 1334.03,749.2 1334.53,751.2 1335.05,753.1 1335.60,755.0 1336.18,756.9 1336.79,758.7 1337.44,760.6 1338.13,762.4 1338.88,764.2 1339.69,766.0 1340.57,767.8 1341.52,769.4 1342.55,771.1 1343.56,772.7 1344.65,774.3 1345.83,775.8 1347.11,777.2 1348.49,778.4 1349.96,779.5 1351.53,780.5 1353.17,781.2 1354.87,781.8 1356.62,782.1 1358.35,781.8 1359.98,781.0 1361.52,780.0 1363.00,778.9 1364.45,777.8 1365.89,776.6 1367.33,775.4 1368.80,774.3 1370.28,773.2 1371.75,772.1 1373.22,771.0 1374.73,770.0 1376.29,769.0 1377.89,768.2 1379.55,767.5 1381.27,767.0 1383.02,767.1 1384.64,767.9 1386.18,768.9 1387.65,770.0 1389.02,771.2 1390.29,772.6 1391.45,774.1 1392.52,775.7 1393.51,777.4 1394.44,779.1 1395.31,780.8 1396.19,782.6 1397.03,784.3 1397.82,786.1 1398.57,787.9 1399.28,789.8 1399.97,791.6 1400.63,793.5 1401.28,795.3 1401.91,797.2 1402.52,799.1 1403.14,800.9 1403.74,802.8 1404.35,804.7 1404.95,806.6 1405.56,808.5 1406.17,810.3 1406.78,812.2 1407.40,814.1 1408.01,816.0 1408.64,817.8 1409.26,819.7 1409.90,821.6 1410.56,823.4 1411.22,825.3 1411.91,827.1 1412.62,829.0 1413.37,830.8 1414.19,832.6 1415.14,834.2 1416.31,835.7 1417.71,837.0 1419.33,837.3 1420.37,835.7 1421.03,833.8 1421.56,831.9 1422.03,830.0 1422.50,828.1 1422.98,826.1 1423.45,824.2 1423.91,822.3 1424.36,820.3 1424.80,818.4 1425.23,816.5 1425.65,814.5 1426.07,812.6 1426.50,810.6 1426.92,808.7 1427.34,806.7 1427.76,804.8 1428.18,802.9 1428.61,800.9 1429.04,799.0 1429.47,797.0 1429.90,795.1 1430.34,793.2 1430.79,791.2 1431.24,789.3 1431.70,787.4 1432.16,785.4 1432.64,783.5 1433.12,781.6 1433.62,779.7 1434.12,777.7 1434.65,775.8 1435.18,773.9 1435.73,772.0 1436.30,770.1 1436.89,768.2 1437.49,766.4 1438.10,764.5 1438.73,762.6 1439.37,760.7 1440.03,758.9 1440.70,757.0 1441.38,755.2 1442.07,753.4 1442.77,751.5 1443.48,749.7 1444.20,747.9 1444.93,746.0 1445.67,744.2 1446.42,742.4 1447.18,740.6 1447.94,738.8 1448.72,737.0 1449.50,735.2 1450.30,733.4 1451.11,731.6 1451.93,729.9 1452.75,728.1 1453.59,726.3 1454.45,724.6 1455.31,722.8 1456.18,721.1 1457.07,719.4 1457.97,717.6 1458.88,715.9 1459.80,714.2 1460.73,712.5 1461.66,710.8 1462.61,709.1 1463.56,707.4 1464.52,705.8 1465.49,704.1 1466.47,702.4 1467.45,700.7 1468.44,699.1 1469.44,697.4 1470.45,695.8 1471.48,694.2 1472.52,692.6 1473.60,691.0 1474.69,689.4 1475.82,687.9 1476.99,686.3 1478.21,684.9 1479.46,683.5 1480.71,682.1 1482.00,680.7 1483.37,679.4 1484.81,678.3 1486.33,677.2 1487.95,676.4 1489.64,675.8 1491.38,675.5 1493.14,675.3 1494.91,675.2 1496.65,675.5 1498.35,676.1 1500.00,676.8 1501.62,677.6 1503.24,678.4 1504.86,679.2 1506.48,680.0 1508.11,680.8 1509.76,681.5 1511.41,682.3 1513.06,683.0 1514.72,683.7 1516.39,684.4 1518.08,685.0 1519.79,685.5 1521.51,685.9 1523.26,686.3 1525.02,686.5 1526.78,686.5 1528.52,686.1 1530.22,685.6 1531.89,684.9 1533.53,684.1 1535.15,683.3 1536.75,682.5 1538.32,681.5 1539.87,680.6 1541.39,679.5 1542.87,678.5 1544.36,677.4 1545.82,676.2 1547.26,675.1 1548.66,673.9 1550.03,672.6 1551.37,671.3 1552.67,669.9 1553.94,668.5 1555.17,667.1 1556.38,665.6 1557.55,664.1 1558.68,662.6 1559.79,661.0 1560.87,659.4 1561.92,657.8 1562.95,656.2 1563.96,654.6 1564.96,652.9 1565.95,651.3 1566.93,649.6 1567.92,647.9 1568.92,646.3 1569.94,644.6 1571.00,643.0 1572.10,641.5 1573.26,640.0 1574.50,638.5 1575.82,637.2 1577.23,636.0 1578.72,634.9 1580.30,634.0 1581.94,633.3 1583.63,632.7 1585.35,632.2 1587.08,631.8 1588.82,631.4 1590.54,631.0 1592.26,630.4 1593.93,629.8 1595.54,629.0 1597.07,628.0 1598.50,626.8 1599.82,625.4 1601.03,624.0 1602.17,622.5 1603.22,620.9 1604.22,619.2 1605.17,617.5 1606.09,615.8 1606.97,614.1 1607.83,612.3 1608.68,610.6 1609.52,608.8 1610.35,607.0 1611.19,605.3 1612.04,603.5 1612.91,601.8 1613.79,600.0 1614.71,598.3 1615.66,596.6 1616.64,595.0 1617.66,593.3 1618.72,591.7 1619.83,590.2 1620.97,588.7 1622.10,587.1 1623.28,585.6 1624.51,584.2 1625.80,582.8 1627.16,581.5 1628.61,580.4 1630.15,579.4 1631.79,578.6 1633.49,578.1 1635.24,577.8 1637.00,577.9 1638.72,578.4 1640.39,579.0 1641.99,579.9 1643.49,581.0 1644.91,582.2 1646.25,583.5 1647.55,584.8 1648.83,586.2 1650.10,587.6 1651.40,589.0 1652.69,590.3 1653.94,591.7 1655.20,593.1 1656.47,594.5 1657.78,595.9 1659.14,597.2 1660.56,598.4 1662.07,599.4 1663.68,600.2 1665.39,600.7 1667.12,600.4 1668.73,599.5 1670.18,598.4 1671.46,597.0 1672.58,595.5 1673.56,593.8 1674.43,592.1 1675.22,590.3 1675.94,588.4 1676.61,586.6 1677.28,584.7 1677.92,582.9 1678.52,581.0 1679.09,579.1 1679.62,577.2 1680.16,575.3 1680.66,573.4 1681.14,571.4 1681.61,569.5 1682.06,567.6 1682.51,565.6 1682.96,563.7 1683.41,561.8 1683.85,559.8 1684.29,557.9 1684.73,556.0 1685.15,554.0 1685.58,552.1 1685.99,550.1" fill="none" stroke="#ff0000" stroke-width="7.9" stroke-linejoin="round"/>
<path d="M155.2,828.3 148.8,826.7 149.6,823.5 156.0,825.1 156.8,821.9 150.4,820.3 151.2,817.1 157.6,818.7 158.4,815.5 152.0,813.9 152.8,810.7 159.2,812.3 160.0,809.1 153.6,807.5 154.4,804.3 160.8,805.9 161.6,802.7 155.3,801.1 156.1,797.9 162.5,799.5 163.3,796.3 156.9,794.7 157.8,791.5 164.1,793.1 164.9,790.0 158.6,788.3 159.4,785.1 165.8,786.8 166.6,783.6 160.3,781.9 161.1,778.7 167.5,780.4 168.3,777.2 162.0,775.5 162.9,772.3 169.2,774.0 170.1,770.9 163.7,769.1 164.6,765.9 170.9,767.7 171.8,764.5 165.5,762.8 166.3,759.6 172.7,761.3 173.6,758.1 167.2,756.4 168.1,753.2 174.4,755.0 175.3,751.8 169.0,750.0 169.9,746.8 176.2,748.6 177.2,745.5 170.9,743.7 171.8,740.5 178.1,742.3 179.0,739.2 172.7,737.3 173.7,734.1 179.9,736.0 180.9,732.8 174.6,731.0 175.6,727.8 181.8,729.7 182.8,726.5 176.5,724.6 177.5,721.5 183.7,723.4 184.7,720.2 178.4,718.3 179.4,715.2 185.7,717.1 186.6,713.9 180.4,712.0 181.3,708.8 187.6,710.8 188.6,707.6 182.3,705.7 183.3,702.5 189.5,704.4 190.5,701.3 184.2,699.4 185.2,696.2 191.5,698.1 192.4,695.0 186.1,693.1 187.1,689.9 193.4,691.8 194.3,688.6 188.0,686.8 189.0,683.6 195.3,685.5 196.2,682.3 189.9,680.4 190.8,677.3 197.1,679.1 198.0,675.9 191.7,674.1 192.7,670.9 199.0,672.8 199.9,669.6 193.6,667.8 194.5,664.6 200.8,666.4 201.7,663.2 195.4,661.4 196.3,658.3 202.6,660.1 203.5,656.9 197.2,655.1 198.1,651.9 204.4,653.7 205.3,650.5 199.0,648.7 199.9,645.6 206.2,647.4 207.1,644.2 200.8,642.4 201.7,639.2 208.0,641.0 208.9,637.8 202.6,636.1 203.5,632.9 209.8,634.6 210.7,631.4 204.3,629.7 205.2,626.5 211.5,628.3 212.4,625.1 206.1,623.3 206.9,620.2 213.3,621.9 214.1,618.7 207.8,617.0 208.6,613.8 215.0,615.5 215.8,612.3 209.5,610.6 210.3,607.4 216.7,609.1 217.5,605.9 211.1,604.2 211.9,601.1 218.3,602.7 219.1,599.4 212.7,597.9 213.5,594.7 219.9,596.2 220.7,593.0 214.3,591.5 215.0,588.3 221.4,589.8 222.2,586.6 215.8,585.1 216.5,581.9 222.9,583.3 223.7,580.1 217.3,578.7 218.0,575.4 224.4,576.9 225.1,573.7 218.7,572.2 219.4,569.0 225.9,570.4 226.6,567.2 220.2,565.8 220.9,562.6 227.3,564.0 228.0,560.8 221.6,559.3 222.4,556.1 228.8,557.6 229.6,554.4 223.2,552.9 224.0,549.7 230.3,551.2 231.1,548.0 224.8,546.4 225.6,543.2 231.9,544.8 232.7,541.6 226.4,540.0 227.2,536.8 233.5,538.4 234.3,535.2 228.0,533.6 228.8,530.4 235.2,532.0 236.0,528.8 229.6,527.2 230.4,524.0 236.8,525.6 237.6,522.4 231.2,520.8 232.0,517.6 238.4,519.2 239.2,516.0 232.8,514.4 233.6,511.2 240.0,512.8 240.8,509.6 234.4,508.0 235.2,504.8 241.6,506.4 242.4,503.2 236.0,501.6 236.8,498.4 243.1,500.0 243.9,496.8 237.5,495.2 238.3,492.0 244.7,493.6 245.5,490.4 239.1,488.8 239.9,485.6 246.3,487.2 247.1,484.0 240.8,482.4 241.6,479.2 247.9,480.9 248.8,477.7 242.5,475.9 243.4,472.7 249.7,474.5 250.6,471.4 244.3,469.6 245.2,466.4 251.5,468.2 252.4,465.1 246.1,463.2 247.1,460.0 253.4,461.9 254.3,458.8 248.0,456.9 249.0,453.7 255.3,455.6 256.2,452.4 250.0,450.5 250.9,447.4 257.2,449.3 258.2,446.1 251.9,444.2 252.9,441.1 259.1,443.0 260.1,439.9 253.9,437.9 254.8,434.7 261.1,436.7 262.1,433.6 255.8,431.6 256.8,428.4 263.1,430.4 264.1,427.3 257.8,425.3 258.8,422.1 265.1,424.1 266.1,421.0 259.9,419.0 260.9,415.8 267.1,417.9 268.2,414.8 261.9,412.7 263.0,409.6 269.2,411.6 270.2,408.5 264.0,406.4 265.0,403.3 271.3,405.4 272.3,402.2 266.1,400.2 267.1,397.0 273.3,399.1 274.4,395.9 268.1,393.9 269.2,390.8 275.4,392.8 276.4,389.6 270.2,387.6 271.2,384.5 277.4,386.5 278.4,383.3 272.1,381.4 273.1,378.3 279.4,380.1 280.3,376.9 274.0,375.1 274.9,372.0 281.2,373.7 282.1,370.6 275.8,368.8 276.7,365.6 283.0,367.4 284.0,364.3 277.7,362.4 278.6,359.2 284.9,361.1 285.9,358.0 279.6,356.1 280.6,352.9 286.9,354.9 287.9,351.8 281.6,349.7 282.7,346.6 288.9,348.6 289.9,345.5 283.8,343.4 284.8,340.3 291.0,342.4 292.1,339.3 285.9,337.2 287.0,334.0 293.2,336.2 294.3,333.1 288.1,330.9 289.2,327.8 295.4,330.0 296.5,326.9 290.4,324.7 291.5,321.6 297.6,323.8 298.7,320.7 292.6,318.5 293.7,315.4 299.9,317.6 301.0,314.5 294.8,312.3 295.9,309.2 302.1,311.4 303.2,308.2 297.0,306.1 298.1,303.0 304.3,305.1 305.4,302.0 299.2,299.8 300.3,296.7 306.5,298.9 307.6,295.8 301.4,293.6 302.5,290.5 308.7,292.7 309.8,289.6 303.6,287.4 304.7,284.3 310.8,286.4 311.9,283.3 305.8,281.2 306.9,278.0 313.0,280.2 314.1,277.1 308.0,274.9 309.1,271.8 315.2,274.0 316.4,270.9 310.2,268.7 311.3,265.6 317.5,267.8 318.6,264.7 312.4,262.5 313.5,259.4 319.7,261.6 320.8,258.4 314.6,256.3 315.7,253.2 321.9,255.3 323.0,252.2 316.8,250.0 317.9,246.9 324.1,249.1 325.2,246.0 319.0,243.8 320.2,240.7 326.3,243.0 327.5,239.9 321.4,237.6 322.6,234.5 328.7,236.9 329.9,233.9 323.9,231.4 325.2,228.3 331.2,230.9 332.5,227.9 326.6,225.2 328.0,222.2 333.9,225.0 335.3,222.1 329.5,219.2 331.1,216.2 336.8,219.2 338.3,216.4 332.7,213.2 334.4,210.3 339.9,213.6 341.6,210.9 336.2,207.4 338.1,204.6 343.4,208.2 345.2,205.6 340.1,201.8 342.3,199.1 347.2,203.2 349.2,200.8 344.5,196.5 346.8,194.0 351.4,198.4 353.6,196.2 349.3,191.6 352.0,189.3 355.8,194.2 358.2,192.5 355.1,187.2 358.6,185.7 360.7,191.2 363.3,190.4 362.3,184.7 366.7,184.7 365.5,190.4 367.7,191.4 370.6,186.1 373.8,188.1 370.0,193.0 372.0,195.0 376.6,190.6 379.0,193.4 373.9,197.3 375.6,199.8 381.0,196.3 382.8,199.2 377.2,202.5 378.8,205.3 384.5,202.2 386.1,205.2 380.2,208.1 381.6,211.0 387.5,208.4 388.9,211.5 382.8,213.9 384.0,216.9 390.1,214.6 391.2,217.8 385.1,220.0 386.1,223.0 392.3,221.0 393.3,224.2 387.1,226.1 388.0,229.2 394.3,227.4 395.2,230.6 388.9,232.3 389.7,235.5 396.1,233.9 396.9,237.1 390.5,238.7 391.2,241.8 397.6,240.4 398.3,243.6 391.9,245.0 392.6,248.2 399.0,246.9 399.7,250.2 393.2,251.4 393.9,254.7 400.3,253.4 400.9,256.7 394.5,257.9 395.1,261.1 401.5,259.9 402.1,263.2 395.6,264.3 396.2,267.6 402.7,266.5 403.3,269.7 396.8,270.8 397.3,274.1 403.8,273.0 404.3,276.3 397.8,277.3 398.4,280.6 404.9,279.5 405.4,282.8 398.9,283.8 399.4,287.1 405.9,286.1 406.4,289.3 399.9,290.3 400.3,293.6 406.9,292.6 407.3,295.9 400.8,296.8 401.3,300.1 407.8,299.2 408.3,302.4 401.8,303.4 402.2,306.6 408.8,305.7 409.2,309.0 402.7,309.9 403.2,313.2 409.7,312.2 410.2,315.5 403.7,316.4 404.1,319.7 410.7,318.7 411.1,322.0 404.6,323.0 405.1,326.2 411.6,325.3 412.1,328.5 405.6,329.5 406.1,332.8 412.6,331.8 413.1,335.1 406.6,336.0 407.1,339.3 413.6,338.3 414.1,341.6 407.6,342.6 408.0,345.8 414.6,344.9 415.0,348.1 408.5,349.1 409.0,352.4 415.5,351.4 416.0,354.6 409.5,355.6 410.0,358.9 416.5,357.9 417.0,361.2 410.5,362.1 411.0,365.4 417.5,364.4 418.0,367.7 411.5,368.7 411.9,371.9 418.5,371.0 418.9,374.2 412.4,375.2 412.9,378.5 419.4,377.5 419.9,380.8 413.4,381.7 413.9,385.0 420.4,384.0 420.8,387.3 414.3,388.3 414.8,391.5 421.3,390.6 421.8,393.8 415.3,394.8 415.8,398.1 422.3,397.1 422.8,400.4 416.2,401.3 416.7,404.6 423.3,403.6 423.8,406.9 417.2,407.9 417.8,411.1 424.3,410.1 424.8,413.4 418.3,414.4 418.8,417.7 425.3,416.6 425.8,419.9 419.3,420.9 419.8,424.2 426.3,423.1 426.9,426.4 420.4,427.4 420.9,430.7 427.4,429.7 427.9,432.9 421.4,434.0 421.9,437.2 428.4,436.2 428.9,439.5 422.4,440.5 422.9,443.7 429.5,442.7 430.0,446.0 423.4,447.0 424.0,450.3 430.5,449.2 431.0,452.5 424.5,453.5 425.0,456.8 431.5,455.8 432.0,459.0 425.5,460.0 426.0,463.3 432.5,462.3 433.0,465.5 426.5,466.6 427.0,469.8 433.5,468.8 434.1,472.0 427.6,473.1 428.1,476.4 434.6,475.3 435.1,478.5 428.6,479.6 429.2,482.9 435.7,481.8 436.3,485.0 429.8,486.2 430.4,489.4 436.8,488.2 437.4,491.5 431.0,492.7 431.6,496.0 438.0,494.7 438.7,497.9 432.2,499.2 432.9,502.5 439.3,501.1 440.0,504.3 433.6,505.7 434.3,509.0 440.7,507.5 441.5,510.6 435.1,512.3 436.0,515.5 442.3,513.7 443.2,516.7 437.0,518.9 438.4,522.3 444.3,519.4 444.1,520.7 442.3,526.4 448.4,523.5 442.8,520.2 443.7,517.8 449.9,519.9 450.9,516.5 444.6,514.8 445.3,511.7 451.8,513.2 452.5,509.9 446.0,508.6 446.7,505.4 453.1,506.6 453.7,503.3 447.2,502.2 447.8,498.9 454.3,500.0 454.8,496.8 448.3,495.7 448.9,492.5 455.4,493.5 455.9,490.2 449.4,489.2 449.9,486.0 456.4,486.9 456.9,483.7 450.4,482.7 450.8,479.5 457.4,480.4 457.8,477.1 451.3,476.2 451.7,472.9 458.3,473.8 458.7,470.6 452.2,469.7 452.6,466.4 459.2,467.3 459.6,464.0 453.1,463.1 453.5,459.9 460.0,460.7 460.5,457.5 453.9,456.6 454.4,453.3 460.9,454.2 461.4,450.9 454.8,450.1 455.3,446.8 461.8,447.7 462.2,444.4 455.7,443.5 456.2,440.2 462.7,441.1 463.2,437.9 456.6,436.9 457.1,433.7 463.6,434.6 464.1,431.4 457.6,430.4 458.1,427.1 464.6,428.1 465.1,424.9 458.6,423.9 459.1,420.6 465.6,421.6 466.1,418.3 459.6,417.3 460.1,414.1 466.6,415.1 467.1,411.8 460.6,410.8 461.1,407.6 467.6,408.5 468.1,405.3 461.6,404.3 462.0,401.0 468.6,402.0 469.0,398.7 462.5,397.8 463.0,394.5 469.5,395.5 470.0,392.2 463.5,391.2 463.9,388.0 470.5,388.9 470.9,385.7 464.4,384.7 464.9,381.4 471.4,382.4 471.9,379.2 465.4,378.1 466.0,374.9 472.5,375.9 473.0,372.7 466.5,371.6 467.1,368.3 473.6,369.5 474.2,366.3 467.7,365.0 468.4,361.8 474.8,363.1 475.5,359.9 469.1,358.5 469.8,355.2 476.2,356.7 477.0,353.6 470.6,352.0 471.5,348.7 477.8,350.4 478.7,347.3 472.4,345.5 473.3,342.3 479.6,344.2 480.6,341.1 474.3,339.1 475.3,335.9 481.5,338.0 482.6,334.9 476.4,332.7 477.5,329.6 483.7,331.8 484.8,328.7 478.6,326.4 479.8,323.3 485.9,325.7 487.1,322.6 481.0,320.2 482.3,317.1 488.3,319.6 489.6,316.6 483.6,314.0 484.9,311.0 490.9,313.6 492.2,310.6 486.3,307.9 487.7,304.9 493.6,307.7 495.0,304.7 489.2,301.9 490.6,298.9 496.4,301.8 497.9,298.8 492.1,296.0 493.6,292.9 499.3,296.0 500.7,293.6 495.6,289.6 501.8,287.5 499.6,293.1 499.8,294.5 505.5,291.4 507.0,294.8 501.0,297.1 502.0,300.1 508.2,298.1 509.2,301.4 502.9,303.1 503.6,306.2 510.0,304.7 510.8,308.0 504.3,309.3 504.9,312.5 511.4,311.3 512.0,314.6 505.5,315.7 506.0,318.9 512.5,317.9 513.0,321.2 506.5,322.1 506.9,325.4 513.5,324.5 513.9,327.8 507.3,328.6 507.7,331.9 514.3,331.1 514.7,334.4 508.1,335.1 508.5,338.4 515.0,337.7 515.4,341.0 508.8,341.7 509.2,345.0 515.8,344.2 516.1,347.5 509.6,348.2 509.9,351.5 516.5,350.8 516.8,354.1 510.3,354.8 510.6,358.1 517.2,357.4 517.6,360.7 511.0,361.4 511.3,364.6 517.9,363.9 518.3,367.2 511.7,367.9 512.0,371.2 518.6,370.5 518.9,373.8 512.4,374.5 512.7,377.7 519.2,377.1 519.5,380.4 513.0,381.0 513.3,384.3 519.8,383.7 520.1,387.0 513.6,387.6 513.8,390.8 520.4,390.3 520.7,393.6 514.1,394.1 514.3,397.4 520.9,396.9 521.1,400.2 514.6,400.7 514.8,404.0 521.4,403.5 521.6,406.8 515.0,407.2 515.2,410.5 521.8,410.1 522.0,413.4 515.4,413.8 515.6,417.1 522.2,416.7 522.4,420.0 515.8,420.4 516.0,423.7 522.6,423.3 522.7,426.6 516.2,427.0 516.3,430.3 522.9,429.9 523.1,433.2 516.5,433.6 516.7,436.9 523.2,436.5 523.4,439.8 516.8,440.1 517.0,443.4 523.6,443.1 523.7,446.4 517.1,446.7 517.3,450.0 523.9,449.7 524.0,453.0 517.4,453.3 517.6,456.6 524.2,456.3 524.3,459.6 517.7,459.9 517.9,463.2 524.5,462.9 524.6,466.2 518.0,466.5 518.2,469.8 524.8,469.5 524.9,472.8 518.3,473.1 518.5,476.4 525.1,476.1 525.2,479.4 518.6,479.7 518.8,483.0 525.4,482.7 525.5,486.0 518.9,486.3 519.1,489.6 525.7,489.3 525.9,492.6 519.3,492.9 519.5,496.2 526.1,495.9 526.2,499.1 519.7,499.5 519.8,502.8 526.4,502.4 526.6,505.7 520.0,506.1 520.2,509.4 526.8,509.0 527.0,512.3 520.5,512.7 520.7,516.0 527.3,515.6 527.5,518.9 520.9,519.3 521.2,522.6 527.7,522.1 528.0,525.4 521.4,525.9 521.7,529.2 528.3,528.7 528.5,532.0 522.0,532.5 522.3,535.9 528.9,535.2 529.2,538.5 522.6,539.2 523.0,542.5 529.5,541.7 529.9,545.0 523.3,545.8 523.7,549.1 530.3,548.3 530.7,551.5 524.1,552.3 524.5,555.6 531.1,554.8 531.5,558.0 525.0,558.9 525.4,562.2 532.0,561.3 532.4,564.6 525.9,565.5 526.4,568.8 532.9,567.8 533.3,571.1 526.8,572.0 527.3,575.3 533.8,574.3 534.3,577.6 527.8,578.6 528.3,581.8 534.8,580.9 535.3,584.1 528.8,585.1 529.2,588.4 535.8,587.4 536.2,590.7 529.7,591.6 530.2,594.9 536.7,593.9 537.2,597.2 530.7,598.1 531.1,601.4 537.7,600.5 538.1,603.8 531.6,604.7 532.0,607.9 538.6,607.1 539.0,610.3 532.4,611.2 532.9,614.4 539.4,613.6 539.8,616.9 533.3,617.7 533.7,621.0 540.2,620.2 540.6,623.5 534.1,624.3 534.5,627.5 541.0,626.7 541.4,630.0 534.8,630.8 535.2,634.1 541.8,633.3 542.2,636.6 535.6,637.4 536.1,640.7 542.6,639.8 543.0,643.1 536.5,643.9 536.9,647.2 543.4,646.3 543.9,649.6 537.4,650.5 537.9,653.8 544.4,652.8 544.9,656.1 538.4,657.1 538.9,660.4 545.4,659.3 546.0,662.5 539.5,663.7 540.1,667.0 546.6,665.7 547.2,668.9 540.8,670.2 541.5,673.5 547.9,672.1 548.7,675.2 542.3,676.8 543.2,680.1 549.5,678.2 550.5,681.2 544.3,683.4 545.6,686.7 551.6,684.0 552.9,686.7 547.3,690.0 549.5,693.0 554.5,689.0 556.3,691.0 552.2,695.8 555.5,698.0 558.5,692.7 561.0,693.9 559.0,699.5 562.5,700.4 563.8,694.7 566.8,695.2 566.0,700.9 569.3,701.3 570.0,695.7 573.4,696.1 572.5,701.8 575.4,702.5 576.9,696.8 580.4,697.9 578.2,703.4 580.8,704.7 583.8,699.4 586.9,701.4 583.2,706.4 585.5,708.3 589.7,703.6 592.2,706.1 587.7,710.4 589.7,712.8 594.6,708.7 596.8,711.4 591.7,715.3 593.6,717.8 598.8,714.1 600.7,716.9 595.4,720.5 597.1,723.2 602.6,719.7 604.3,722.6 598.8,725.9 600.4,728.7 606.0,725.5 607.7,728.5 602.0,731.6 603.5,734.4 609.2,731.4 610.8,734.4 605.0,737.3 606.4,740.2 612.3,737.4 613.7,740.4 607.9,743.2 609.2,746.1 615.1,743.4 616.5,746.4 610.6,749.1 611.9,752.1 617.9,749.5 619.2,752.5 613.2,755.1 614.6,758.1 620.5,755.6 621.8,758.6 615.8,761.1 617.1,764.2 623.1,761.7 624.4,764.7 618.4,767.2 619.6,770.2 625.7,767.8 626.9,770.8 620.9,773.3 622.1,776.3 628.2,773.9 629.4,777.0 623.3,779.4 624.5,782.5 630.6,780.1 631.8,783.1 625.8,785.5 627.0,788.6 633.0,786.2 634.3,789.3 628.2,791.7 629.4,794.7 635.5,792.3 636.7,795.4 630.6,797.8 631.9,800.9 637.9,798.4 639.2,801.5 633.1,803.9 634.4,807.0 640.4,804.5 641.7,807.6 635.6,810.1 636.9,813.1 642.9,810.6 644.2,813.7 638.1,816.2 639.4,819.2 645.4,816.7 646.7,819.8 640.7,822.3 642.0,825.3 648.0,822.8 649.3,825.9 643.2,828.4 644.5,831.4 650.5,828.9 651.8,831.9 645.8,834.5 647.1,837.5 653.1,835.0 654.4,838.0 648.3,840.6 649.6,843.6 655.6,841.0 656.9,844.0 651.0,846.7 652.5,849.8 658.3,846.9 659.7,849.7 654.1,852.8 655.9,855.8 661.3,852.4 663.0,854.9 657.9,858.7 661.0,861.9 664.3,856.7 663.0,856.8 667.7,861.0 669.8,857.1 663.7,854.8 664.6,852.0 670.9,853.7 671.8,850.4 665.4,848.9 666.0,845.7 672.5,847.1 673.1,843.8 666.7,842.5 667.3,839.3 673.8,840.6 674.4,837.4 668.0,836.0 668.6,832.8 675.1,834.1 675.8,830.9 669.3,829.5 670.0,826.3 676.5,827.7 677.1,824.5 670.7,823.1 671.4,819.9 677.8,821.2 678.5,818.0 672.1,816.6 672.8,813.4 679.2,814.8 679.9,811.5 673.4,810.2 674.1,807.0 680.5,808.3 681.2,805.0 674.7,803.8 675.4,800.5 681.8,801.8 682.4,798.5 676.0,797.3 676.6,794.1 683.1,795.3 683.7,792.0 677.2,790.8 677.8,787.6 684.3,788.8 684.8,785.5 678.4,784.3 678.9,781.1 685.4,782.2 686.0,779.0 679.5,777.9 680.1,774.6 686.6,775.7 687.1,772.5 680.6,771.4 681.2,768.1 687.7,769.2 688.2,765.9 681.7,764.9 682.2,761.6 688.7,762.7 689.3,759.4 682.8,758.4 683.3,755.1 689.8,756.1 690.3,752.9 683.8,751.9 684.3,748.6 690.8,749.6 691.3,746.4 684.8,745.3 685.3,742.1 691.8,743.1 692.4,739.8 685.8,738.8 686.3,735.6 692.9,736.6 693.4,733.3 686.9,732.3 687.4,729.0 693.9,730.0 694.4,726.8 687.9,725.8 688.4,722.5 694.9,723.5 695.4,720.3 688.9,719.2 689.4,716.0 695.9,717.0 696.4,713.7 689.9,712.7 690.4,709.5 696.9,710.5 697.4,707.2 690.9,706.2 691.4,702.9 698.0,704.0 698.5,700.7 691.9,699.7 692.5,696.4 699.0,697.4 699.5,694.2 693.0,693.2 693.5,689.9 700.0,690.9 700.5,687.7 694.0,686.6 694.5,683.4 701.0,684.4 701.5,681.1 695.0,680.1 695.5,676.8 702.0,677.9 702.6,674.6 696.1,673.6 696.6,670.3 703.1,671.4 703.6,668.1 697.1,667.1 697.7,663.8 704.2,664.9 704.7,661.6 698.2,660.5 698.8,657.3 705.3,658.4 705.9,655.2 699.4,654.0 700.0,650.7 706.4,651.9 707.0,648.7 700.6,647.5 701.2,644.2 707.6,645.5 708.2,642.2 701.8,641.0 702.4,637.7 708.9,639.0 709.5,635.8 703.0,634.5 703.7,631.2 710.1,632.5 710.8,629.3 704.3,628.0 705.0,624.8 711.4,626.1 712.1,622.8 705.6,621.5 706.3,618.3 712.7,619.6 713.4,616.4 707.0,615.0 707.6,611.8 714.1,613.1 714.7,609.9 708.3,608.6 709.0,605.3 715.4,606.7 716.1,603.5 709.6,602.1 710.3,598.9 716.7,600.2 717.4,597.0 711.0,595.7 711.6,592.4 718.1,593.8 718.8,590.5 712.3,589.2 713.0,586.0 719.4,587.3 720.1,584.0 713.6,582.7 714.3,579.5 720.7,580.8 721.4,577.6 714.9,576.3 715.6,573.0 722.0,574.3 722.7,571.1 716.3,569.8 716.9,566.5 723.4,567.9 724.0,564.7 717.6,563.3 718.3,560.1 724.7,561.4 725.4,558.2 719.0,556.8 719.7,553.6 726.1,555.0 726.8,551.8 720.4,550.4 721.2,547.1 727.6,548.6 728.3,545.4 721.9,543.9 722.7,540.7 729.1,542.2 729.9,539.1 723.5,537.4 724.4,534.2 730.7,535.9 731.5,532.7 725.2,531.0 726.0,527.8 732.4,529.5 733.2,526.3 726.9,524.6 727.8,521.4 734.1,523.2 735.0,520.0 728.6,518.2 729.5,515.0 735.8,516.8 736.7,513.7 730.4,511.9 731.4,508.7 737.6,510.5 738.6,507.4 732.3,505.5 733.3,502.3 739.5,504.2 740.5,501.1 734.3,499.1 735.3,495.9 741.5,498.0 742.6,495.0 736.4,492.8 737.6,489.6 743.7,491.9 744.8,488.9 738.8,486.5 740.0,483.4 746.0,485.8 747.3,482.9 741.3,480.3 742.7,477.2 748.6,479.9 750.0,477.0 744.2,474.1 745.8,471.1 751.5,474.2 753.0,471.4 747.5,468.1 749.3,465.2 754.7,468.8 756.4,466.2 751.3,462.4 753.4,459.7 758.4,463.6 760.4,461.2 755.6,457.0 758.1,454.4 762.4,459.0 764.7,457.0 760.8,452.1 763.9,450.1 767.0,455.3 769.5,454.0 767.3,448.4 771.8,447.7 771.4,453.3 773.3,454.3 776.1,448.9 779.4,450.9 775.6,455.8 777.7,457.8 782.2,453.3 784.6,455.9 779.8,460.0 781.7,462.5 786.8,458.7 788.8,461.5 783.5,465.1 785.3,467.8 790.7,464.3 792.5,467.2 786.9,470.4 788.4,473.2 794.2,470.2 795.7,473.2 789.9,476.1 791.2,479.0 797.1,476.3 798.5,479.4 792.5,481.9 793.7,484.9 799.8,482.5 801.0,485.7 794.9,488.0 796.0,491.0 802.2,488.8 803.3,491.9 797.1,494.1 798.2,497.2 804.4,495.1 805.4,498.2 799.2,500.3 800.3,503.4 806.5,501.4 807.5,504.5 801.3,506.5 802.3,509.7 808.5,507.7 809.6,510.8 803.3,512.8 804.3,515.9 810.6,513.9 811.6,517.1 805.3,519.1 806.3,522.2 812.6,520.3 813.5,523.4 807.3,525.3 808.2,528.5 814.5,526.6 815.4,529.8 809.1,531.6 810.0,534.8 816.3,533.0 817.2,536.2 810.9,537.9 811.8,541.1 818.1,539.4 819.0,542.6 812.6,544.3 813.4,547.5 819.8,545.8 820.6,549.0 814.2,550.7 815.1,553.8 821.4,552.2 822.2,555.5 815.8,557.0 816.6,560.2 823.0,558.7 823.8,561.9 817.4,563.4 818.2,566.6 824.6,565.1 825.3,568.3 818.9,569.8 819.7,573.0 826.1,571.6 826.8,574.8 820.4,576.2 821.1,579.5 827.5,578.0 828.3,581.2 821.8,582.7 822.5,585.9 829.0,584.5 829.7,587.7 823.2,589.1 823.9,592.3 830.4,590.9 831.1,594.2 824.6,595.5 825.3,598.8 831.7,597.4 832.4,600.6 826.0,602.0 826.7,605.2 833.1,603.9 833.8,607.1 827.3,608.4 828.0,611.7 834.5,610.3 835.1,613.6 828.7,614.9 829.3,618.1 835.8,616.8 836.4,620.1 830.0,621.4 830.6,624.6 837.1,623.3 837.7,626.5 831.3,627.8 831.9,631.1 838.4,629.8 839.0,633.0 832.6,634.3 833.2,637.5 839.7,636.3 840.3,639.5 833.8,640.8 834.5,644.0 840.9,642.7 841.6,646.0 835.1,647.3 835.8,650.5 842.2,649.2 842.8,652.4 836.4,653.7 837.0,657.0 843.5,655.7 844.1,658.9 837.7,660.2 838.3,663.4 844.8,662.2 845.4,665.4 839.0,666.7 839.6,669.9 846.1,668.6 846.7,671.9 840.2,673.2 840.9,676.4 847.3,675.1 848.0,678.4 841.5,679.6 842.2,682.9 848.6,681.6 849.3,684.8 842.8,686.1 843.5,689.3 849.9,688.1 850.6,691.3 844.1,692.6 844.8,695.8 851.2,694.5 851.9,697.7 845.4,699.1 846.1,702.3 852.5,701.0 853.2,704.2 846.8,705.5 847.5,708.8 853.9,707.4 854.6,710.6 848.1,712.0 848.8,715.2 855.3,713.9 856.0,717.1 849.5,718.5 850.2,721.7 856.7,720.3 857.4,723.5 850.9,724.9 851.7,728.2 858.1,726.7 858.8,730.0 852.4,731.4 853.1,734.6 859.5,733.2 860.2,736.4 853.8,737.8 854.6,741.1 861.0,739.6 861.7,742.8 855.3,744.3 856.1,747.5 862.5,746.0 863.2,749.2 856.8,750.7 857.6,753.9 864.0,752.4 864.8,755.6 858.4,757.2 859.2,760.4 865.5,758.8 866.3,762.0 859.9,763.6 860.7,766.8 867.1,765.2 867.9,768.4 861.5,770.0 862.3,773.2 868.7,771.6 869.5,774.8 863.1,776.4 863.9,779.6 870.3,778.0 871.1,781.3 864.7,782.8 865.4,786.0 871.8,784.5 872.5,787.8 866.1,789.2 866.8,792.4 873.2,791.0 873.9,794.2 867.5,795.7 868.3,799.0 874.6,797.2 875.3,799.4 869.9,803.0 877.0,804.0 872.9,799.3 873.7,797.3 879.5,800.2 881.0,797.0 875.0,794.5 876.1,791.5 882.2,793.9 883.4,790.7 877.3,788.5 878.4,785.4 884.5,787.6 885.6,784.4 879.4,782.3 880.5,779.2 886.7,781.3 887.7,778.1 881.5,776.1 882.5,773.0 888.8,775.0 889.7,771.8 883.5,769.9 884.4,766.7 890.7,768.6 891.6,765.4 885.3,763.6 886.2,760.4 892.5,762.2 893.4,759.0 887.1,757.3 887.9,754.1 894.3,755.8 895.1,752.6 888.8,750.9 889.6,747.7 896.0,749.4 896.8,746.2 890.5,744.5 891.4,741.3 897.7,743.1 898.6,739.9 892.3,738.1 893.2,734.9 899.5,736.8 900.4,733.6 894.2,731.7 895.1,728.6 901.4,730.5 902.4,727.4 896.1,725.4 897.1,722.2 903.4,724.3 904.4,721.1 898.2,719.1 899.2,715.9 905.4,718.0 906.5,714.9 900.3,712.8 901.4,709.7 907.6,711.8 908.7,708.7 902.5,706.5 903.6,703.4 909.8,705.6 910.9,702.5 904.8,700.3 905.9,697.2 912.0,699.5 913.2,696.4 907.1,694.1 908.2,691.0 914.4,693.3 915.5,690.2 909.4,687.9 910.6,684.8 916.7,687.1 917.9,684.1 911.8,681.7 913.0,678.6 919.1,681.0 920.3,678.0 914.2,675.5 915.5,672.5 921.5,674.9 922.8,671.9 916.7,669.4 918.0,666.3 924.0,668.9 925.3,665.9 919.4,663.3 920.7,660.2 926.6,662.9 928.0,659.9 922.1,657.2 923.6,654.1 929.4,657.0 930.9,654.2 925.1,651.1 926.8,648.2 932.4,651.3 934.0,648.5 928.4,645.2 930.1,642.4 935.7,645.7 937.4,642.9 931.8,639.5 933.5,636.7 939.1,640.0 940.8,637.1 935.1,633.9 936.7,631.1 942.4,634.1 944.0,631.1 938.1,628.3 939.5,625.4 945.4,628.0 946.8,624.9 940.7,622.4 941.9,619.4 948.0,621.7 949.2,618.6 943.0,616.4 944.0,613.3 950.3,615.4 951.3,612.2 945.1,610.2 946.0,607.1 952.3,609.1 953.3,605.9 947.0,604.0 948.0,600.8 954.3,602.8 955.2,599.6 949.0,597.7 950.0,594.5 956.2,596.5 957.2,593.3 951.0,591.3 952.0,588.2 958.3,590.2 959.3,587.1 953.1,585.0 954.1,581.9 960.3,584.0 961.3,580.8 955.1,578.8 956.2,575.6 962.4,577.7 963.4,574.6 957.2,572.5 958.3,569.4 964.5,571.4 965.5,568.3 959.3,566.2 960.3,563.1 966.6,565.2 967.6,562.1 961.4,560.0 962.4,556.8 968.7,558.9 969.7,555.8 963.5,553.7 964.6,550.6 970.8,552.7 971.8,549.6 965.6,547.5 966.7,544.3 972.9,546.4 973.9,543.3 967.7,541.2 968.8,538.1 975.0,540.2 976.1,537.0 969.9,535.0 970.9,531.8 977.1,533.9 978.1,530.8 971.9,528.7 972.9,525.6 979.2,527.6 980.2,524.4 973.9,522.5 974.9,519.3 981.2,521.3 982.2,518.1 975.9,516.2 976.9,513.1 983.1,514.9 984.1,511.8 977.8,509.9 978.7,506.7 985.0,508.6 985.9,505.4 979.6,503.6 980.5,500.4 986.8,502.2 987.7,499.0 981.4,497.3 982.3,494.1 988.6,495.8 989.5,492.7 983.2,490.9 984.1,487.7 990.4,489.5 991.3,486.3 984.9,484.6 985.8,481.4 992.1,483.1 993.0,479.9 986.6,478.2 987.5,475.0 993.8,476.7 994.7,473.5 988.3,471.8 989.1,468.6 995.5,470.3 996.3,467.1 990.0,465.4 990.8,462.3 997.1,463.9 998.0,460.7 991.6,459.1 992.4,455.9 998.8,457.5 999.6,454.3 993.3,452.7 994.1,449.5 1000.4,451.1 1001.3,447.9 994.9,446.3 995.7,443.1 1002.1,444.7 1002.9,441.5 996.5,439.9 997.3,436.7 1003.7,438.3 1004.5,435.1 998.2,433.5 999.0,430.3 1005.3,431.9 1006.2,428.7 999.8,427.1 1000.6,423.9 1007.0,425.5 1007.8,422.3 1001.4,420.7 1002.3,417.5 1008.6,419.1 1009.4,415.9 1003.1,414.3 1003.9,411.1 1010.3,412.7 1011.1,409.5 1004.7,407.9 1005.5,404.7 1011.9,406.3 1012.7,403.1 1006.3,401.5 1007.1,398.3 1013.5,399.9 1014.3,396.7 1008.0,395.1 1008.8,391.9 1015.1,393.5 1015.9,390.3 1009.6,388.7 1010.3,385.5 1016.7,387.1 1017.5,383.9 1011.1,382.3 1011.9,379.1 1018.3,380.7 1019.1,377.5 1012.7,375.9 1013.5,372.7 1019.9,374.3 1020.6,371.0 1014.2,369.5 1015.0,366.3 1021.4,367.8 1022.2,364.6 1015.8,363.1 1016.5,359.9 1022.9,361.4 1023.7,358.2 1017.3,356.7 1018.1,353.5 1024.5,355.0 1025.2,351.8 1018.8,350.3 1019.6,347.0 1026.0,348.6 1026.8,345.4 1020.4,343.8 1021.1,340.6 1027.5,342.2 1028.3,339.0 1021.9,337.4 1022.7,334.2 1029.1,335.8 1029.9,332.7 1023.6,330.9 1024.5,327.7 1030.8,329.6 1031.8,326.5 1025.6,324.4 1026.8,321.2 1032.9,323.6 1034.1,320.7 1028.2,318.0 1029.7,314.9 1035.4,317.9 1037.0,315.2 1031.4,311.9 1033.3,309.0 1038.7,312.5 1040.5,309.8 1035.2,306.2 1037.1,303.5 1042.4,307.1 1044.3,304.3 1038.8,300.8 1040.3,298.2 1046.1,301.2 1047.6,298.0 1041.6,295.4 1042.7,292.6 1048.9,294.7 1049.9,291.3 1043.6,289.7 1044.3,286.6 1050.7,287.9 1051.3,284.6 1044.8,283.5 1045.3,280.3 1051.8,281.2 1052.3,277.9 1045.8,277.0 1046.2,273.8 1052.8,274.7 1053.2,271.4 1046.7,270.5 1047.1,267.2 1053.6,268.1 1054.1,264.9 1047.6,264.0 1048.0,260.7 1054.5,261.6 1055.0,258.3 1048.5,257.4 1048.9,254.1 1055.4,255.0 1055.9,251.8 1049.3,250.9 1049.8,247.6 1056.3,248.5 1056.7,245.2 1050.2,244.4 1050.6,241.1 1057.2,241.9 1057.6,238.6 1051.0,237.8 1051.4,234.6 1058.0,235.3 1058.3,232.1 1051.8,231.3 1052.2,228.0 1058.7,228.8 1059.1,225.5 1052.5,224.7 1052.9,221.5 1059.4,222.2 1059.8,218.9 1053.2,218.2 1053.6,214.9 1060.1,215.6 1060.5,212.3 1053.9,211.6 1054.3,208.4 1060.8,209.0 1061.1,205.7 1054.6,205.1 1054.9,201.8 1061.5,202.4 1061.8,199.2 1055.2,198.5 1055.5,195.3 1062.1,195.9 1062.4,192.6 1055.8,192.0 1056.1,188.7 1062.7,189.3 1063.0,186.0 1056.4,185.4 1056.7,182.1 1063.3,182.7 1063.5,179.4 1057.0,178.9 1057.2,175.6 1063.8,176.1 1064.1,172.8 1057.5,172.3 1057.7,169.0 1064.3,169.5 1064.6,166.2 1058.0,165.7 1058.2,162.4 1064.8,162.9 1065.0,159.6 1058.4,159.1 1058.7,155.8 1065.3,156.3 1065.5,153.0 1058.9,152.6 1059.2,149.3 1065.7,149.7 1066.0,146.5 1059.4,146.0 1059.7,142.7 1066.2,143.2 1066.5,139.9 1059.9,139.4 1060.2,136.1 1066.7,136.6 1067.0,133.3 1060.4,132.8 1060.7,129.5 1067.3,130.0 1067.6,126.8 1061.0,126.2 1061.3,122.9 1067.9,123.5 1068.2,120.2 1061.6,119.6 1061.9,116.3 1068.5,116.9 1068.8,113.7 1062.3,113.0 1062.6,109.7 1069.2,110.4 1069.5,107.1 1062.9,106.4 1063.3,103.1 1069.9,103.8 1070.2,100.6 1063.7,99.8 1064.1,96.5 1070.6,97.3 1071.0,94.1 1064.5,93.2 1064.9,89.9 1071.4,90.8 1071.9,87.6 1065.3,86.6 1065.8,83.4 1072.3,84.3 1072.8,81.1 1066.3,80.1 1066.8,76.8 1073.3,77.8 1073.8,74.6 1067.3,73.5 1067.9,70.2 1074.4,71.3 1074.9,68.1 1068.4,67.0 1069.0,63.7 1075.5,64.8 1076.0,61.6 1069.5,60.4 1070.2,57.0 1076.6,58.6 1073.8,58.0 1075.6,52.4 1078.9,57.6 1072.5,59.0 1073.1,62.1 1079.6,61.0 1080.1,64.4 1073.5,65.3 1073.9,68.5 1080.5,67.7 1080.9,71.0 1074.3,71.7 1074.6,74.9 1081.2,74.4 1081.5,77.7 1074.9,78.2 1075.1,81.5 1081.7,81.0 1082.0,84.3 1075.4,84.8 1075.6,88.0 1082.2,87.6 1082.4,90.9 1075.8,91.3 1076.0,94.6 1082.6,94.2 1082.8,97.5 1076.2,97.9 1076.4,101.2 1083.0,100.8 1083.1,104.1 1076.5,104.5 1076.7,107.7 1083.3,107.4 1083.5,110.7 1076.9,111.0 1077.0,114.3 1083.6,114.0 1083.8,117.3 1077.2,117.6 1077.3,120.9 1083.9,120.6 1084.1,123.9 1077.5,124.2 1077.6,127.5 1084.2,127.2 1084.3,130.5 1077.7,130.8 1077.9,134.1 1084.5,133.8 1084.6,137.1 1078.0,137.4 1078.1,140.7 1084.7,140.4 1084.8,143.7 1078.3,144.0 1078.4,147.3 1085.0,147.0 1085.1,150.3 1078.5,150.6 1078.6,153.9 1085.2,153.6 1085.3,156.9 1078.7,157.2 1078.9,160.5 1085.4,160.2 1085.6,163.5 1079.0,163.8 1079.1,167.1 1085.7,166.8 1085.8,170.1 1079.2,170.4 1079.3,173.7 1085.9,173.4 1086.0,176.7 1079.4,177.0 1079.6,180.3 1086.2,180.0 1086.3,183.3 1079.7,183.6 1079.8,186.9 1086.4,186.6 1086.5,189.9 1079.9,190.2 1080.0,193.4 1086.6,193.2 1086.7,196.5 1080.1,196.7 1080.3,200.0 1086.9,199.8 1087.0,203.1 1080.4,203.3 1080.5,206.6 1087.1,206.4 1087.2,209.7 1080.6,209.9 1080.7,213.2 1087.3,213.0 1087.4,216.3 1080.8,216.5 1080.9,219.8 1087.5,219.6 1087.6,222.9 1081.0,223.1 1081.1,226.4 1087.7,226.2 1087.8,229.5 1081.2,229.7 1081.3,233.0 1087.9,232.8 1088.0,236.1 1081.4,236.3 1081.5,239.6 1088.1,239.4 1088.2,242.7 1081.6,242.9 1081.7,246.2 1088.3,246.0 1088.4,249.3 1081.8,249.5 1081.9,252.8 1088.5,252.6 1088.6,255.9 1082.0,256.1 1082.1,259.4 1088.7,259.2 1088.8,262.5 1082.2,262.7 1082.3,266.0 1088.9,265.8 1088.9,269.1 1082.4,269.3 1082.4,272.6 1089.0,272.4 1089.1,275.7 1082.5,275.9 1082.6,279.2 1089.2,279.0 1089.3,282.3 1082.7,282.5 1082.8,285.8 1089.4,285.6 1089.4,288.9 1082.8,289.1 1082.9,292.4 1089.5,292.2 1089.6,295.5 1083.0,295.7 1083.1,299.0 1089.7,298.8 1089.8,302.1 1083.2,302.3 1083.2,305.6 1089.8,305.4 1089.9,308.7 1083.3,308.9 1083.4,312.2 1090.0,312.0 1090.1,315.3 1083.5,315.5 1083.6,318.8 1090.2,318.6 1090.2,321.9 1083.6,322.1 1083.7,325.4 1090.3,325.2 1090.4,328.5 1083.8,328.7 1083.9,332.0 1090.5,331.8 1090.6,335.1 1084.0,335.3 1084.0,338.6 1090.6,338.4 1090.7,341.7 1084.1,341.9 1084.2,345.2 1090.8,345.0 1090.9,348.3 1084.3,348.5 1084.4,351.8 1091.0,351.6 1091.0,354.9 1084.5,355.1 1084.5,358.4 1091.1,358.2 1091.2,361.5 1084.6,361.7 1084.7,365.0 1091.3,364.8 1091.4,368.1 1084.8,368.3 1084.8,371.6 1091.4,371.4 1091.5,374.7 1084.9,374.9 1085.0,378.2 1091.6,378.0 1091.7,381.3 1085.1,381.5 1085.2,384.8 1091.8,384.6 1091.8,387.9 1085.2,388.1 1085.3,391.4 1091.9,391.2 1092.0,394.5 1085.4,394.7 1085.5,398.0 1092.1,397.8 1092.1,401.1 1085.5,401.3 1085.6,404.6 1092.2,404.4 1092.3,407.7 1085.7,407.9 1085.7,411.2 1092.3,411.0 1092.4,414.3 1085.8,414.5 1085.9,417.8 1092.5,417.6 1092.6,420.9 1086.0,421.1 1086.0,424.4 1092.6,424.2 1092.7,427.5 1086.1,427.7 1086.2,431.0 1092.8,430.8 1092.9,434.1 1086.3,434.3 1086.3,437.6 1092.9,437.4 1093.0,440.7 1086.4,440.9 1086.5,444.2 1093.1,444.0 1093.2,447.3 1086.6,447.5 1086.6,450.8 1093.2,450.6 1093.3,453.9 1086.7,454.1 1086.8,457.4 1093.4,457.2 1093.5,460.5 1086.9,460.7 1086.9,464.0 1093.5,463.8 1093.6,467.1 1087.0,467.3 1087.1,470.6 1093.7,470.4 1093.8,473.7 1087.2,473.9 1087.3,477.2 1093.9,477.0 1093.9,480.3 1087.3,480.5 1087.4,483.8 1094.0,483.6 1094.1,486.9 1087.5,487.1 1087.6,490.4 1094.2,490.2 1094.3,493.5 1087.7,493.7 1087.8,497.0 1094.4,496.8 1094.5,500.1 1087.9,500.3 1087.9,503.6 1094.5,503.4 1094.6,506.7 1088.0,506.9 1088.1,510.2 1094.7,510.0 1094.8,513.3 1088.2,513.5 1088.3,516.8 1094.9,516.6 1095.0,519.9 1088.4,520.1 1088.5,523.4 1095.1,523.2 1095.2,526.5 1088.6,526.7 1088.7,530.0 1095.3,529.8 1095.4,533.1 1088.8,533.3 1088.9,536.6 1095.5,536.4 1095.6,539.7 1089.0,539.9 1089.1,543.2 1095.7,543.0 1095.8,546.3 1089.2,546.5 1089.3,549.8 1095.9,549.5 1096.1,552.8 1089.5,553.1 1089.6,556.4 1096.2,556.1 1096.3,559.4 1089.7,559.7 1089.8,563.0 1096.4,562.7 1096.5,566.0 1089.9,566.3 1090.1,569.6 1096.6,569.3 1096.8,572.6 1090.2,572.9 1090.3,576.2 1096.9,575.9 1097.0,579.2 1090.4,579.5 1090.6,582.8 1097.2,582.5 1097.3,585.8 1090.7,586.1 1090.9,589.4 1097.5,589.1 1097.6,592.4 1091.0,592.7 1091.2,596.0 1097.8,595.7 1098.0,598.9 1091.4,599.3 1091.6,602.6 1098.1,602.2 1098.3,605.5 1091.7,605.9 1091.9,609.2 1098.5,608.8 1098.7,612.1 1092.1,612.5 1092.3,615.8 1098.9,615.4 1099.1,618.7 1092.6,619.1 1092.8,622.4 1099.4,622.0 1099.6,625.3 1093.0,625.7 1093.2,629.0 1099.8,628.5 1100.0,631.8 1093.5,632.3 1093.7,635.6 1100.3,635.1 1100.5,638.4 1093.9,638.9 1094.2,642.2 1100.7,641.7 1101.0,645.0 1094.4,645.5 1094.7,648.8 1101.2,648.3 1101.5,651.6 1094.9,652.1 1095.2,655.4 1101.7,654.8 1102.0,658.1 1095.4,658.7 1095.7,662.0 1102.3,661.4 1102.5,664.7 1096.0,665.3 1096.3,668.6 1102.8,667.9 1103.2,671.2 1096.6,671.9 1096.9,675.2 1103.5,674.5 1103.9,677.7 1097.3,678.5 1097.7,681.8 1104.3,681.0 1104.7,684.2 1098.1,685.1 1098.6,688.4 1105.1,687.4 1105.6,690.6 1099.1,691.7 1099.7,695.1 1106.2,693.8 1106.9,696.9 1100.5,698.4 1101.3,701.8 1107.6,699.9 1108.5,702.7 1102.5,705.3 1108.6,708.7 1106.2,703.2 1105.7,702.0 1111.9,704.0 1112.8,700.6 1106.4,699.0 1107.2,695.8 1113.6,697.3 1114.3,694.1 1107.9,692.6 1108.7,689.3 1115.1,690.9 1115.9,687.8 1109.6,686.1 1110.4,682.9 1116.7,684.6 1117.6,681.4 1111.2,679.7 1112.1,676.5 1118.4,678.2 1119.3,675.0 1112.9,673.3 1113.8,670.1 1120.1,671.9 1121.0,668.7 1114.7,666.9 1115.6,663.7 1121.9,665.5 1122.8,662.4 1116.5,660.5 1117.4,657.4 1123.7,659.2 1124.6,656.1 1118.3,654.2 1119.3,651.0 1125.6,653.0 1126.6,649.9 1120.4,647.8 1121.6,644.6 1127.7,646.9 1128.8,643.9 1122.9,641.4 1124.3,638.2 1130.1,641.1 1131.6,638.4 1126.0,635.1 1127.9,632.2 1133.3,635.8 1135.0,633.2 1129.9,629.4 1132.3,626.5 1136.8,630.9 1138.8,629.0 1135.2,624.0 1138.6,622.1 1141.1,627.6 1143.6,626.6 1142.3,621.0 1146.2,620.5 1146.3,626.2 1148.3,626.7 1150.6,621.2 1154.1,623.1 1150.4,628.1 1152.5,630.0 1157.0,625.6 1159.4,628.4 1154.3,632.2 1155.9,634.8 1161.4,631.4 1163.2,634.4 1157.5,637.5 1159.0,640.4 1164.8,637.3 1166.3,640.3 1160.5,643.2 1161.8,646.1 1167.8,643.4 1169.1,646.5 1163.2,649.1 1164.4,652.1 1170.4,649.5 1171.7,652.6 1165.7,655.1 1166.9,658.1 1173.0,655.7 1174.2,658.8 1168.1,661.2 1169.3,664.2 1175.4,661.9 1176.6,665.0 1170.4,667.3 1171.5,670.4 1177.7,668.2 1178.8,671.3 1172.6,673.4 1173.7,676.5 1179.9,674.5 1180.9,677.6 1174.7,679.7 1175.7,682.8 1181.9,680.8 1182.9,684.0 1176.7,685.9 1177.6,689.0 1183.9,687.1 1184.8,690.3 1178.6,692.2 1179.5,695.3 1185.8,693.5 1186.7,696.7 1180.4,698.5 1181.3,701.7 1187.6,699.9 1188.5,703.0 1182.2,704.8 1183.1,708.0 1189.4,706.2 1190.3,709.4 1184.0,711.2 1184.8,714.3 1191.2,712.6 1192.0,715.8 1185.7,717.5 1186.6,720.7 1192.9,719.0 1193.8,722.2 1187.4,723.9 1188.2,727.1 1194.6,725.4 1195.4,728.6 1189.1,730.3 1189.9,733.4 1196.3,731.8 1197.1,735.0 1190.7,736.6 1191.6,739.8 1197.9,738.2 1198.7,741.4 1192.4,743.0 1193.2,746.2 1199.5,744.6 1200.4,747.8 1194.0,749.4 1194.8,752.6 1201.2,751.0 1202.0,754.2 1195.6,755.8 1196.4,759.0 1202.8,757.4 1203.6,760.6 1197.2,762.2 1198.0,765.4 1204.4,763.8 1205.2,767.0 1198.8,768.6 1199.6,771.8 1206.0,770.2 1206.8,773.4 1200.4,775.0 1201.2,778.2 1207.5,776.6 1208.3,779.9 1202.0,781.4 1202.7,784.6 1209.1,783.1 1209.9,786.3 1203.5,787.8 1204.3,791.0 1210.7,789.5 1211.5,792.7 1205.1,794.2 1205.9,797.5 1212.3,795.9 1213.1,799.1 1206.7,800.7 1207.5,803.9 1213.9,802.3 1214.7,805.5 1208.3,807.1 1209.1,810.3 1215.5,808.6 1216.3,811.8 1210.0,813.5 1210.8,816.7 1217.1,815.1 1217.9,818.3 1211.6,819.9 1212.4,823.1 1218.7,821.5 1219.5,824.6 1213.2,826.3 1214.0,829.5 1220.4,827.8 1221.3,830.7 1215.1,832.9 1216.7,836.6 1222.1,833.1 1219.7,833.1 1223.8,837.8 1226.2,833.6 1220.1,831.3 1221.0,828.4 1227.3,830.2 1228.2,826.9 1221.8,825.3 1222.6,822.2 1229.0,823.7 1229.7,820.5 1223.3,819.0 1224.1,815.8 1230.5,817.3 1231.2,814.1 1224.8,812.5 1225.6,809.3 1232.0,810.9 1232.8,807.7 1226.4,806.1 1227.3,802.9 1233.6,804.5 1234.5,801.3 1228.1,799.7 1228.9,796.5 1235.3,798.1 1236.1,795.0 1229.8,793.3 1230.6,790.1 1237.0,791.8 1237.8,788.6 1231.5,786.9 1232.3,783.7 1238.7,785.4 1239.5,782.2 1233.2,780.5 1234.0,777.3 1240.4,779.0 1241.2,775.8 1234.9,774.1 1235.7,770.9 1242.0,772.6 1242.9,769.4 1236.5,767.7 1237.4,764.6 1243.7,766.2 1244.6,763.1 1238.2,761.4 1239.1,758.2 1245.4,759.9 1246.3,756.7 1239.9,755.0 1240.8,751.8 1247.1,753.5 1248.0,750.3 1241.6,748.6 1242.5,745.4 1248.8,747.1 1249.7,743.9 1243.3,742.2 1244.2,739.0 1250.5,740.7 1251.4,737.5 1245.0,735.9 1245.9,732.7 1252.2,734.4 1253.1,731.2 1246.7,729.5 1247.6,726.3 1253.9,728.0 1254.8,724.8 1248.4,723.1 1249.3,719.9 1255.6,721.6 1256.5,718.4 1250.1,716.7 1251.0,713.5 1257.3,715.2 1258.2,712.0 1251.8,710.3 1252.7,707.1 1259.0,708.8 1259.9,705.7 1253.5,704.0 1254.4,700.8 1260.7,702.5 1261.6,699.3 1255.3,697.6 1256.1,694.4 1262.5,696.1 1263.3,692.9 1257.0,691.2 1257.8,688.0 1264.2,689.7 1265.0,686.6 1258.7,684.8 1259.6,681.6 1265.9,683.4 1266.8,680.2 1260.5,678.5 1261.3,675.3 1267.7,677.0 1268.5,673.8 1262.2,672.1 1263.0,668.9 1269.4,670.6 1270.2,667.4 1263.9,665.7 1264.7,662.6 1271.0,664.2 1271.9,661.0 1265.5,659.4 1266.2,656.2 1272.6,657.7 1273.4,654.5 1267.0,653.0 1267.7,649.8 1274.1,651.2 1274.8,648.0 1268.4,646.6 1269.1,643.4 1275.5,644.7 1276.2,641.5 1269.7,640.2 1270.4,637.0 1276.8,638.2 1277.5,635.0 1271.0,633.7 1271.6,630.5 1278.1,631.8 1278.7,628.5 1272.3,627.3 1272.9,624.0 1279.4,625.3 1280.0,622.0 1273.5,620.8 1274.2,617.5 1280.6,618.8 1281.3,615.6 1274.8,614.3 1275.5,611.0 1281.9,612.4 1282.6,609.1 1276.1,607.8 1276.8,604.6 1283.3,605.9 1283.9,602.7 1277.5,601.3 1278.1,598.1 1284.6,599.4 1285.2,596.2 1278.8,594.9 1279.4,591.7 1285.9,592.9 1286.5,589.7 1280.0,588.4 1280.6,585.2 1287.1,586.4 1287.7,583.2 1281.2,582.0 1281.8,578.7 1288.3,579.9 1288.9,576.6 1282.4,575.5 1283.0,572.3 1289.5,573.4 1290.0,570.1 1283.5,569.0 1284.1,565.8 1290.6,566.8 1291.1,563.6 1284.6,562.5 1285.1,559.3 1291.6,560.3 1292.1,557.0 1285.6,556.0 1286.1,552.8 1292.6,553.8 1293.1,550.5 1286.6,549.5 1287.1,546.3 1293.6,547.2 1294.0,543.9 1287.5,543.0 1287.9,539.8 1294.5,540.6 1294.9,537.3 1288.4,536.5 1288.7,533.3 1295.3,534.0 1295.7,530.7 1289.1,530.0 1289.5,526.7 1296.0,527.4 1296.4,524.1 1289.8,523.5 1290.2,520.2 1296.7,520.8 1297.1,517.6 1290.5,516.9 1290.8,513.6 1297.4,514.3 1297.7,511.0 1291.1,510.4 1291.4,507.1 1298.0,507.7 1298.3,504.4 1291.7,503.8 1292.0,500.5 1298.6,501.1 1298.9,497.8 1292.3,497.2 1292.6,493.9 1299.1,494.5 1299.4,491.2 1292.8,490.7 1293.1,487.4 1299.7,487.9 1299.9,484.6 1293.3,484.1 1293.6,480.8 1300.2,481.3 1300.4,478.0 1293.9,477.5 1294.1,474.2 1300.7,474.7 1300.9,471.4 1294.3,470.9 1294.6,467.7 1301.2,468.1 1301.4,464.8 1294.8,464.4 1295.0,461.1 1301.6,461.5 1301.9,458.2 1295.3,457.8 1295.5,454.5 1302.1,455.0 1302.3,451.7 1295.7,451.2 1296.0,447.9 1302.5,448.4 1302.8,445.1 1296.2,444.6 1296.4,441.3 1303.0,441.8 1303.2,438.5 1296.6,438.0 1296.8,434.7 1303.4,435.2 1303.6,431.9 1297.1,431.5 1297.3,428.2 1303.9,428.6 1304.1,425.3 1297.5,424.9 1297.7,421.6 1304.3,422.0 1304.5,418.7 1297.9,418.3 1298.2,415.0 1304.7,415.4 1305.0,412.1 1298.4,411.7 1298.6,408.4 1305.2,408.8 1305.4,405.6 1298.8,405.1 1299.1,401.8 1305.6,402.3 1305.9,399.0 1299.3,398.5 1299.5,395.2 1306.1,395.7 1306.3,392.4 1299.8,391.9 1300.0,388.6 1306.6,389.1 1306.8,385.8 1300.2,385.3 1300.5,382.0 1307.1,382.5 1307.3,379.2 1300.7,378.7 1301.0,375.5 1307.6,375.9 1307.8,372.7 1301.2,372.2 1301.5,368.9 1308.0,369.4 1308.3,366.1 1301.7,365.6 1302.0,362.3 1308.5,362.8 1308.8,359.5 1302.2,359.0 1302.5,355.7 1309.0,356.2 1309.3,352.9 1302.7,352.4 1302.9,349.1 1309.5,349.6 1309.8,346.3 1303.2,345.8 1303.4,342.5 1310.0,343.0 1310.3,339.7 1303.7,339.3 1303.9,336.0 1310.5,336.5 1310.8,333.2 1304.2,332.7 1304.4,329.4 1311.0,329.9 1311.3,326.6 1304.7,326.1 1304.9,322.8 1311.5,323.3 1311.7,320.0 1305.2,319.5 1305.4,316.2 1312.0,316.7 1312.2,313.4 1305.7,312.9 1305.9,309.6 1312.5,310.1 1312.7,306.8 1306.2,306.3 1306.4,303.0 1313.0,303.5 1313.2,300.3 1306.6,299.8 1306.9,296.5 1313.5,297.0 1313.7,293.7 1307.1,293.2 1307.4,289.9 1314.0,290.4 1314.2,287.1 1307.6,286.6 1307.9,283.3 1314.5,283.8 1314.7,280.5 1308.1,280.0 1308.3,276.7 1314.9,277.2 1315.2,273.9 1308.6,273.4 1308.8,270.1 1315.4,270.6 1315.6,267.3 1309.0,266.9 1309.3,263.6 1315.9,264.0 1316.1,260.7 1309.5,260.3 1309.7,257.0 1316.3,257.4 1316.6,254.2 1310.0,253.7 1310.2,250.4 1316.8,250.9 1317.1,247.6 1310.5,247.1 1310.7,243.8 1317.3,244.3 1317.6,241.0 1311.0,240.5 1311.3,237.2 1317.9,237.8 1318.2,234.5 1311.6,233.9 1312.0,230.6 1318.5,231.2 1318.9,228.0 1312.3,227.3 1312.7,224.0 1319.2,224.7 1319.6,221.5 1313.1,220.7 1313.5,217.4 1320.0,218.2 1320.4,214.9 1313.9,214.1 1314.3,210.8 1320.9,211.7 1321.3,208.4 1314.8,207.5 1315.3,204.2 1321.8,205.2 1322.3,201.9 1315.8,200.9 1316.3,197.7 1322.8,198.7 1323.3,195.5 1316.8,194.4 1317.4,191.1 1323.8,192.2 1324.4,189.0 1317.9,187.8 1318.5,184.5 1325.0,185.8 1325.7,182.6 1319.2,181.3 1319.9,178.0 1326.3,179.4 1327.0,176.2 1320.6,174.7 1321.4,171.4 1327.8,173.1 1328.7,170.1 1322.4,168.1 1323.6,164.8 1329.7,167.2 1330.9,164.4 1325.0,161.6 1326.7,158.4 1332.3,161.6 1333.4,159.5 1329.1,155.0 1335.8,154.6 1332.0,159.5 1332.9,161.3 1338.6,158.3 1340.1,161.5 1334.1,164.1 1335.3,167.0 1341.4,164.6 1342.6,167.8 1336.5,170.1 1337.6,173.1 1343.8,170.9 1344.8,174.1 1338.6,176.2 1339.6,179.3 1345.8,177.3 1346.8,180.5 1340.5,182.4 1341.4,185.5 1347.7,183.7 1348.7,186.9 1342.3,188.7 1343.2,191.8 1349.5,190.1 1350.4,193.3 1344.1,195.0 1344.9,198.2 1351.3,196.5 1352.1,199.7 1345.8,201.4 1346.6,204.6 1352.9,202.9 1353.8,206.1 1347.4,207.7 1348.2,210.9 1354.6,209.3 1355.4,212.6 1349.0,214.1 1349.8,217.3 1356.1,215.8 1356.9,219.0 1350.5,220.5 1351.3,223.7 1357.7,222.2 1358.5,225.4 1352.1,226.9 1352.8,230.1 1359.2,228.6 1360.0,231.8 1353.6,233.4 1354.4,236.6 1360.8,235.1 1361.5,238.3 1355.1,239.8 1355.8,243.0 1362.3,241.5 1363.0,244.7 1356.6,246.2 1357.3,249.4 1363.7,248.0 1364.4,251.2 1358.0,252.6 1358.7,255.8 1365.2,254.4 1365.9,257.7 1359.4,259.0 1360.1,262.3 1366.5,260.9 1367.2,264.1 1360.8,265.5 1361.4,268.7 1367.9,267.4 1368.5,270.6 1362.1,271.9 1362.7,275.2 1369.2,273.9 1369.8,277.1 1363.4,278.4 1364.0,281.6 1370.5,280.4 1371.1,283.6 1364.7,284.9 1365.3,288.1 1371.7,286.8 1372.4,290.1 1365.9,291.3 1366.6,294.6 1373.0,293.3 1373.7,296.5 1367.2,297.8 1367.9,301.1 1374.3,299.8 1375.0,303.0 1368.5,304.3 1369.2,307.5 1375.6,306.2 1376.3,309.5 1369.8,310.8 1370.5,314.0 1376.9,312.7 1377.6,315.9 1371.1,317.2 1371.8,320.5 1378.2,319.2 1378.9,322.4 1372.4,323.7 1373.0,326.9 1379.5,325.7 1380.1,328.9 1373.7,330.2 1374.3,333.4 1380.7,332.2 1381.4,335.4 1374.9,336.6 1375.5,339.9 1382.0,338.7 1382.5,341.9 1376.1,343.1 1376.6,346.4 1383.1,345.2 1383.7,348.5 1377.2,349.6 1377.8,352.8 1384.3,351.7 1384.8,355.0 1378.3,356.1 1378.9,359.3 1385.4,358.2 1386.0,361.5 1379.5,362.6 1380.0,365.9 1386.5,364.7 1387.1,368.0 1380.6,369.1 1381.2,372.4 1387.7,371.2 1388.3,374.5 1381.8,375.6 1382.4,378.9 1388.8,377.7 1389.4,380.9 1382.9,382.1 1383.5,385.4 1390.0,384.2 1390.6,387.4 1384.1,388.6 1384.7,391.9 1391.2,390.7 1391.8,393.9 1385.3,395.1 1385.9,398.4 1392.4,397.2 1393.0,400.4 1386.5,401.6 1387.2,404.9 1393.6,403.6 1394.3,406.8 1387.8,408.1 1388.5,411.4 1394.9,410.1 1395.6,413.3 1389.1,414.6 1389.8,417.9 1396.2,416.5 1396.9,419.7 1390.5,421.1 1391.2,424.3 1397.6,422.9 1398.3,426.1 1391.9,427.6 1392.6,430.8 1399.0,429.4 1399.8,432.6 1393.4,434.0 1394.1,437.3 1400.5,435.8 1401.3,439.0 1394.9,440.5 1395.6,443.7 1402.0,442.2 1402.8,445.4 1396.4,446.9 1397.2,450.1 1403.6,448.6 1404.4,451.8 1398.0,453.3 1398.8,456.6 1405.2,455.0 1406.0,458.2 1399.6,459.8 1400.4,463.0 1406.8,461.4 1407.6,464.6 1401.2,466.2 1402.0,469.4 1408.4,467.8 1409.2,471.0 1402.8,472.6 1403.6,475.8 1410.0,474.1 1410.8,477.3 1404.5,479.0 1405.3,482.2 1411.6,480.5 1412.5,483.7 1406.1,485.4 1406.9,488.6 1413.3,486.9 1414.1,490.1 1407.7,491.8 1408.5,495.0 1414.9,493.3 1415.7,496.6 1409.3,498.2 1410.1,501.3 1416.5,499.8 1417.3,503.0 1410.9,504.5 1411.7,507.7 1418.1,506.2 1418.9,509.4 1412.5,510.9 1413.3,514.1 1419.7,512.6 1420.4,515.8 1414.1,517.3 1414.8,520.6 1421.2,519.0 1422.0,522.2 1415.6,523.8 1416.3,527.0 1422.7,525.5 1423.5,528.7 1417.1,530.2 1417.9,533.4 1424.3,531.9 1425.0,535.1 1418.6,536.6 1419.4,539.8 1425.8,538.3 1426.5,541.5 1420.1,543.0 1420.9,546.2 1427.3,544.7 1428.0,547.9 1421.6,549.5 1422.4,552.7 1428.8,551.2 1429.5,554.4 1423.2,555.9 1423.9,559.1 1430.3,557.6 1431.1,560.8 1424.7,562.3 1425.5,565.5 1431.9,564.0 1432.7,567.2 1426.3,568.7 1427.1,572.0 1433.5,570.4 1434.3,573.6 1427.9,575.2 1428.7,578.4 1435.1,576.8 1435.9,580.0 1429.5,581.6 1430.3,584.8 1436.7,583.2 1437.5,586.4 1431.1,588.0 1431.9,591.2 1438.3,589.6 1439.1,592.8 1432.7,594.4 1433.5,597.6 1439.9,596.0 1440.7,599.2 1434.3,600.8 1435.1,604.0 1441.4,602.4 1442.2,605.6 1435.8,607.2 1436.6,610.4 1443.0,608.8 1443.7,612.1 1437.3,613.6 1438.1,616.8 1444.5,615.3 1445.3,618.5 1438.9,620.0 1439.6,623.2 1446.0,621.7 1446.8,624.9 1440.4,626.4 1441.1,629.6 1447.5,628.1 1448.3,631.3 1441.9,632.8 1442.6,636.1 1449.0,634.6 1449.8,637.8 1443.4,639.3 1444.1,642.5 1450.5,641.0 1451.3,644.2 1444.9,645.7 1445.6,648.9 1452.0,647.4 1452.8,650.6 1446.4,652.1 1447.1,655.3 1453.5,653.8 1454.3,657.1 1447.9,658.6 1448.6,661.8 1455.0,660.3 1455.8,663.5 1449.4,665.0 1450.1,668.2 1456.5,666.7 1457.3,669.9 1450.9,671.4 1451.7,674.6 1458.0,673.1 1458.8,676.3 1452.4,677.8 1453.2,681.1 1459.6,679.5 1460.3,682.7 1454.0,684.3 1454.7,687.5 1461.1,685.9 1461.9,689.1 1455.5,690.7 1456.3,693.9 1462.7,692.3 1463.5,695.5 1457.1,697.1 1457.9,700.3 1464.3,698.7 1465.1,701.9 1458.7,703.5 1459.5,706.7 1465.9,705.1 1466.7,708.3 1460.3,709.9 1461.1,713.1 1467.5,711.5 1468.3,714.7 1461.9,716.3 1462.7,719.5 1469.1,717.9 1469.9,721.1 1463.5,722.7 1464.4,725.9 1470.7,724.3 1471.5,727.5 1465.2,729.1 1466.0,732.3 1472.4,730.7 1473.2,733.9 1466.8,735.5 1467.6,738.7 1474.0,737.1 1474.8,740.3 1468.5,741.9 1469.3,745.1 1475.7,743.5 1476.5,746.6 1470.2,748.3 1471.1,751.5 1477.4,749.8 1478.3,753.0 1471.9,754.7 1472.8,757.9 1479.2,756.1 1480.1,759.3 1473.8,761.1 1474.7,764.3 1481.0,762.4 1482.0,765.6 1475.7,767.5 1476.7,770.7 1482.9,768.7 1483.9,771.8 1477.7,773.8 1478.7,777.0 1484.9,774.9 1486.0,778.0 1479.8,780.1 1480.8,783.3 1487.0,781.2 1488.1,784.3 1481.9,786.4 1483.0,789.5 1489.2,787.4 1490.3,790.5 1484.1,792.7 1485.2,795.8 1491.4,793.6 1492.5,796.7 1486.3,798.9 1487.5,802.0 1493.6,799.8 1494.8,802.8 1488.6,805.1 1489.8,808.2 1495.9,805.9 1497.1,809.0 1491.0,811.3 1492.2,814.4 1498.3,812.0 1499.5,815.1 1493.4,817.5 1494.6,820.6 1500.7,818.1 1501.9,820.9 1496.1,823.9 1500.5,827.8 1501.5,822.1 1500.9,821.2 1506.1,825.0 1508.0,821.7 1502.3,818.7 1503.6,815.9 1509.5,818.6 1510.9,815.7 1505.1,812.9 1506.5,809.9 1512.3,812.7 1513.8,809.8 1508.0,806.9 1509.4,803.9 1515.2,806.8 1516.7,803.9 1510.9,800.9 1512.4,798.0 1518.2,800.9 1519.7,798.0 1513.9,795.0 1515.5,792.1 1521.2,795.1 1522.7,792.3 1517.1,789.1 1518.8,786.2 1524.4,789.5 1526.0,786.8 1520.6,783.3 1522.5,780.5 1527.8,784.1 1529.6,781.5 1524.4,777.7 1526.5,775.0 1531.5,779.0 1533.5,776.5 1528.7,772.3 1531.0,769.8 1535.7,774.1 1537.8,771.8 1533.3,767.3 1535.8,764.9 1540.1,769.6 1542.4,767.6 1538.6,762.7 1541.5,760.6 1544.8,765.8 1547.3,764.3 1544.8,758.9 1548.7,757.7 1549.6,763.3 1551.8,763.5 1553.0,757.8 1556.5,758.8 1554.7,764.4 1557.8,765.4 1559.6,759.8 1562.7,760.8 1561.0,766.4 1564.5,767.3 1565.6,761.6 1568.1,761.8 1568.6,767.5 1572.3,766.8 1570.8,761.2 1573.5,760.2 1575.8,765.7 1579.0,764.2 1576.3,758.8 1579.3,757.4 1581.9,762.8 1584.9,761.3 1582.2,755.9 1585.3,754.4 1587.8,759.9 1590.4,758.9 1588.9,753.2 1593.0,752.8 1592.8,758.4 1593.5,759.1 1598.0,754.7 1600.4,757.8 1595.0,761.3 1596.6,763.9 1602.3,760.8 1603.8,763.9 1598.0,766.8 1599.4,769.8 1605.2,766.9 1604.9,768.2 1603.3,773.9 1609.2,770.6 1603.4,767.6 1604.5,765.0 1610.6,767.2 1611.7,763.9 1605.4,762.0 1606.3,758.9 1612.7,760.7 1613.5,757.4 1607.2,755.8 1607.9,752.6 1614.3,754.1 1615.1,750.9 1608.6,749.5 1609.3,746.2 1615.8,747.6 1616.4,744.4 1610.0,743.0 1610.7,739.8 1617.1,741.1 1617.8,737.9 1611.3,736.6 1612.0,733.3 1618.4,734.6 1619.1,731.4 1612.6,730.1 1613.3,726.9 1619.7,728.2 1620.4,724.9 1613.9,723.6 1614.6,720.4 1621.0,721.7 1621.7,718.5 1615.2,717.1 1615.9,713.9 1622.4,715.3 1623.1,712.1 1616.7,710.6 1617.4,707.4 1623.8,708.9 1624.6,705.7 1618.2,704.2 1619.0,700.9 1625.4,702.5 1626.2,699.4 1619.8,697.7 1620.6,694.5 1627.0,696.2 1627.8,693.0 1621.5,691.3 1622.4,688.1 1628.7,689.8 1629.6,686.7 1623.3,684.9 1624.2,681.7 1630.5,683.5 1631.4,680.4 1625.1,678.5 1626.1,675.3 1632.3,677.3 1633.3,674.1 1627.1,672.1 1628.1,669.0 1634.3,671.0 1635.4,668.0 1629.2,665.8 1630.4,662.6 1636.5,664.9 1637.6,661.9 1631.6,659.5 1632.9,656.4 1638.9,659.0 1640.2,656.0 1634.3,653.3 1635.8,650.2 1641.6,653.1 1643.0,650.2 1637.3,647.2 1638.9,644.3 1644.5,647.4 1646.1,644.6 1640.6,641.3 1642.4,638.4 1647.8,641.9 1649.5,639.3 1644.3,635.5 1646.5,632.8 1651.4,636.9 1653.4,634.6 1649.0,630.2 1651.7,627.8 1655.6,632.6 1658.0,630.9 1654.7,625.7 1657.9,624.0 1660.6,629.4 1663.3,628.1 1661.2,622.6 1664.6,621.5 1666.2,627.2 1669.2,626.4 1668.0,620.7 1671.4,620.1 1672.3,625.8 1675.5,625.3 1674.7,619.6 1678.0,619.2 1678.7,624.9 1682.0,624.5 1681.3,618.8 1684.6,618.4 1685.3,624.1 1688.6,623.7 1687.8,618.0 1691.1,617.6 1691.9,623.2 1695.2,622.8 1694.3,617.1 1697.6,616.6 1698.5,622.3 1701.7,621.7 1700.8,616.0 1704.0,615.5 1705.0,621.2 1708.2,620.6 1707.3,615.0 1710.6,614.4 1711.5,620.1 1714.8,619.6 1713.8,613.9 1717.1,613.3 1718.0,619.0 1721.3,618.5 1720.3,612.8 1723.5,612.2 1724.6,617.9 1727.8,617.3 1726.7,611.6 1730.0,611.0 1731.1,616.7 1734.4,616.0 1733.1,610.3 1736.3,609.6 1737.6,615.3 1740.9,614.5 1739.5,608.9 1742.7,608.1 1744.1,613.7 1747.3,612.9 1745.9,607.2 1749.0,606.4 1750.5,612.1 1753.6,611.2 1752.3,605.6 1756.0,605.0 1756.4,610.6 1758.7,610.9 1760.2,605.3 1764.2,606.9 1760.7,612.0 1762.6,613.8 1767.3,609.5 1769.5,612.3 1764.4,616.2 1766.4,618.8 1771.5,614.9 1773.6,617.8 1768.2,621.4 1770.1,624.2 1775.3,620.5 1777.0,622.7 1772.5,627.2 1778.2,629.1 1776.8,623.4 1778.1,621.9 1782.1,626.6 1784.5,624.8 1781.0,619.7 1784.1,617.7 1786.9,623.1 1788.6,622.2 1788.6,616.6 1793.6,618.4 1789.5,623.1 1791.3,625.2 1796.2,621.2 1798.2,623.7 1793.3,627.8 1795.5,630.3 1800.4,626.2 1802.4,628.7 1797.7,632.9 1800.7,635.6 1804.2,630.5 1804.4,630.9 1806.5,636.5 1810.1,634.0 1805.9,629.3 1808.4,627.1 1812.5,631.8 1814.9,629.8 1811.1,624.8 1813.8,622.9 1817.5,627.9 1820.0,626.1 1816.8,620.9 1820.1,619.2 1822.5,624.7 1824.8,623.7 1824.1,618.0 1829.4,619.4 1825.5,624.2 1827.0,626.2 1832.2,622.3 1834.2,625.3 1828.7,628.7 1830.3,631.4 1835.9,628.3 1837.5,631.3 1831.8,634.2 1833.2,637.1 1839.0,634.3 1840.5,637.3 1834.6,640.1 1836.0,643.0 1841.9,640.3 1843.3,643.4 1837.3,646.0 1838.6,649.0 1844.6,646.5 1845.9,649.5 1839.9,652.0 1841.1,655.1 1847.2,652.6 1848.4,655.5 1842.5,658.2 1844.0,661.3 1849.8,658.4 1850.7,660.5 1846.2,664.9 1853.3,664.5 1848.3,660.6 1849.1,658.4 1855.2,660.6 1856.3,657.2 1849.9,655.6 1850.6,652.5 1857.0,653.8 1857.6,650.4 1851.1,649.4 1851.5,646.2 1858.0,647.0 1858.4,643.7 1851.8,643.0 1852.1,639.8 1858.7,640.3 1859.0,637.0 1852.4,636.5 1852.7,633.2 1859.2,633.7 1859.5,630.4 1852.9,630.0 1853.1,626.7 1859.7,627.1 1859.9,623.8 1853.3,623.4 1853.6,620.1 1860.1,620.5 1860.4,617.2 1853.8,616.8 1854.0,613.5 1860.6,613.9 1860.8,610.7 1854.2,610.2 1854.4,606.9 1861.0,607.4 1861.2,604.1 1854.7,603.6 1854.9,600.3 1861.5,600.8 1861.7,597.5 1855.1,597.0 1855.3,593.8 1861.9,594.2 1862.1,590.9 1855.5,590.5 1855.7,587.2 1862.3,587.6 1862.5,584.3 1855.9,583.9 1856.1,580.6 1862.7,581.0 1862.9,577.7 1856.3,577.3 1856.5,574.0 1863.1,574.4 1863.3,571.1 1856.7,570.7 1856.9,567.4 1863.5,567.8 1863.6,564.5 1857.0,564.1 1857.2,560.9 1863.8,561.2 1864.0,557.9 1857.4,557.6 1857.5,554.3 1864.1,554.6 1864.3,551.3 1857.7,551.0 1857.9,547.7 1864.4,548.0 1864.6,544.7 1858.0,544.4 1858.2,541.1 1864.8,541.4 1864.9,538.1 1858.3,537.8 1858.5,534.5 1865.1,534.8 1865.2,531.5 1858.6,531.2 1858.8,527.9 1865.4,528.2 1865.5,524.9 1858.9,524.6 1859.1,521.3 1865.7,521.6 1865.8,518.3 1859.2,518.0 1859.4,514.7 1866.0,515.0 1866.1,511.7 1859.5,511.4 1859.7,508.1 1866.3,508.4 1866.4,505.1 1859.8,504.8 1859.9,501.5 1866.5,501.8 1866.7,498.5 1860.1,498.2 1860.2,494.9 1866.8,495.2 1866.9,491.9 1860.3,491.6 1860.5,488.3 1867.1,488.6 1867.2,485.3 1860.6,485.1 1860.7,481.8 1867.3,482.0 1867.5,478.7 1860.9,478.5 1861.0,475.2 1867.6,475.4 1867.7,472.1 1861.1,471.9 1861.3,468.6 1867.8,468.8 1868.0,465.5 1861.4,465.3 1861.5,462.0 1868.1,462.2 1868.2,458.9 1861.7,458.7 1861.8,455.4 1868.4,455.6 1868.5,452.3 1861.9,452.1 1862.1,448.8 1868.7,449.0 1868.8,445.8 1862.2,445.5 1862.4,442.2 1869.0,442.5 1869.1,439.2 1862.5,438.9 1862.7,435.6 1869.3,435.9 1869.4,432.6 1862.8,432.3 1863.0,429.0 1869.6,429.3 1869.7,426.0 1863.2,425.7 1863.3,422.4 1869.9,422.7 1870.1,419.4 1863.5,419.1 1863.7,415.8 1870.3,416.1 1870.5,412.8 1863.9,412.5 1864.1,409.2 1870.7,409.5 1870.9,406.3 1864.3,405.9 1864.5,402.6 1871.1,403.0 1871.3,399.7 1864.7,399.2 1864.9,395.9 1871.5,396.4 1871.7,393.1 1865.2,392.6 1865.4,389.3 1872.0,389.9 1872.2,386.6 1865.7,386.0 1866.0,382.7 1872.5,383.3 1872.8,380.0 1866.3,379.4 1866.6,376.1 1873.1,376.8 1873.5,373.5 1866.9,372.8 1867.3,369.5 1873.8,370.2 1874.2,367.0 1867.7,366.2 1868.1,362.9 1874.6,363.7 1875.0,360.5 1868.5,359.6 1869.0,356.3 1875.5,357.3 1876.0,354.0 1869.5,353.0 1870.0,349.7 1876.5,350.8 1877.1,347.6 1870.6,346.4 1871.3,343.1 1877.7,344.5 1878.4,341.3 1872.0,339.8 1872.9,336.5 1879.2,338.2 1880.1,335.1 1873.8,333.3 1874.8,330.0 1881.0,332.0 1882.0,329.1 1875.9,326.8 1877.2,323.6 1883.2,326.1 1884.5,323.3 1878.7,320.4 1880.3,317.3 1885.9,320.6 1887.6,317.8 1882.1,314.4 1884.0,311.5 1889.2,315.2 1891.1,312.8 1886.2,308.7 1888.7,306.1 1893.1,310.6 1895.3,308.6 1891.4,303.7 1894.4,301.6 1897.7,306.8 1900.3,305.3 1897.5,299.9 1900.8,298.4 1903.0,303.9 1906.0,302.8 1904.0,297.3" fill="none" stroke="#000" stroke-width="2.05" stroke-linejoin="miter" stroke-miterlimit="3" stroke-linecap="square"/>
<rect x="151.5" y="32.4" width="1754.20" height="854.90" fill="none" stroke="#000" stroke-width="1.3"/>
<line x1="652.70" y1="887.30" x2="652.70" y2="869.80" stroke="#000" stroke-width="1.3" />
<line x1="652.70" y1="32.40" x2="652.70" y2="49.90" stroke="#000" stroke-width="1.3" />
<line x1="903.30" y1="887.30" x2="903.30" y2="869.80" stroke="#000" stroke-width="1.3" />
<line x1="903.30" y1="32.40" x2="903.30" y2="49.90" stroke="#000" stroke-width="1.3" />
<line x1="1404.50" y1="887.30" x2="1404.50" y2="869.80" stroke="#000" stroke-width="1.3" />
<line x1="1404.50" y1="32.40" x2="1404.50" y2="49.90" stroke="#000" stroke-width="1.3" />
<line x1="1655.10" y1="887.30" x2="1655.10" y2="869.80" stroke="#000" stroke-width="1.3" />
<line x1="1655.10" y1="32.40" x2="1655.10" y2="49.90" stroke="#000" stroke-width="1.3" />
<line x1="151.50" y1="673.57" x2="169.00" y2="673.57" stroke="#000" stroke-width="1.3" />
<line x1="1905.70" y1="673.57" x2="1888.20" y2="673.57" stroke="#000" stroke-width="1.3" />
<line x1="151.50" y1="246.13" x2="169.00" y2="246.13" stroke="#000" stroke-width="1.3" />
<line x1="1905.70" y1="246.13" x2="1888.20" y2="246.13" stroke="#000" stroke-width="1.3" />
<text x="151.50" y="931.00" font-family="'Liberation Serif', 'DejaVu Serif', serif" font-size="42.5" font-weight="bold" text-anchor="middle" >300</text>
<text x="402.10" y="931.00" font-family="'Liberation Serif', 'DejaVu Serif', serif" font-size="42.5" font-weight="bold" text-anchor="middle" >400</text>
<text x="652.70" y="931.00" font-family="'Liberation Serif', 'DejaVu Serif', serif" font-size="42.5" font-weight="bold" text-anchor="middle" >500</text>
<text x="903.30" y="931.00" font-family="'Liberation Serif', 'DejaVu Serif', serif" font-size="42.5" font-weight="bold" text-anchor="middle" >600</text>
<text x="1153.90" y="931.00" font-family="'Liberation Serif', 'DejaVu Serif', serif" font-size="42.5" font-weight="bold" text-anchor="middle" >700</text>
<text x="1404.50" y="931.00" font-family="'Liberation Serif', 'DejaVu Serif', serif" font-size="42.5" font-weight="bold" text-anchor="middle" >800</text>
<text x="1655.10" y="931.00" font-family="'Liberation Serif', 'DejaVu Serif', serif" font-size="42.5" font-weight="bold" text-anchor="middle" >900</text>
<text x="1905.70" y="931.00" font-family="'Liberation Serif', 'DejaVu Serif', serif" font-size="42.5" font-weight="bold" text-anchor="middle" >1000</text>
<text x="145.50" y="902.80" font-family="'Liberation Serif', 'DejaVu Serif', serif" font-size="42.5" font-weight="bold" text-anchor="end" >0</text>
<text x="145.50" y="689.07" font-family="'Liberation Serif', 'DejaVu Serif', serif" font-size="42.5" font-weight="bold" text-anchor="end" >0.05</text>
<text x="145.50" y="475.35" font-family="'Liberation Serif', 'DejaVu Serif', serif" font-size="42.5" font-weight="bold" text-anchor="end" >0.1</text>
<text x="145.50" y="261.63" font-family="'Liberation Serif', 'DejaVu Serif', serif" font-size="42.5" font-weight="bold" text-anchor="end" >0.15</text>
<text x="145.50" y="47.90" font-family="'Liberation Serif', 'DejaVu Serif', serif" font-size="42.5" font-weight="bold" text-anchor="end" >0.2</text>
<text x="1029.30" y="972.00" font-family="'Liberation Serif', 'DejaVu Serif', serif" font-size="42.5" font-weight="bold" text-anchor="middle" >Wavelength(nm)</text>
<text transform="translate(56,459.8) rotate(-90)" font-family="'Liberation Serif', 'DejaVu Serif', serif" font-size="42.5" font-weight="bold" text-anchor="middle">Current(A)</text>
<path d="M1409.5,57.2 V199 H1896.5 V57.2" fill="none" stroke="#000" stroke-width="1.3"/>
<line x1="1418.90" y1="82.40" x2="1466.10" y2="82.40" stroke="#0000ff" stroke-width="6.9" />
<text x="1472.00" y="95.00" font-family="'Liberation Serif', 'DejaVu Serif', serif" font-size="37.65" font-weight="bold" text-anchor="start" >Without covid</text>
<line x1="1418.90" y1="128.00" x2="1466.10" y2="128.00" stroke="#ff0000" stroke-width="7.8" />
<text x="1472.00" y="141.00" font-family="'Liberation Serif', 'DejaVu Serif', serif" font-size="37.65" font-weight="bold" text-anchor="start" >With single covid particle</text>
<path d="M1419.0,169.7h1.1v7.2h-1.1zM1422.1,169.7h1.7v7.2h-1.7zM1425.8,169.7h4.7v7.2h-4.7zM1433.0,169.7h1.8v7.2h-1.8zM1435.9,169.7h1.8v7.2h-1.8zM1438.8,169.7h1.8v7.2h-1.8zM1441.3,169.7h1.1v7.2h-1.1zM1443.8,169.7h2.5v7.2h-2.5zM1447.0,169.7h1.8v7.2h-1.8zM1451.3,169.7h5.1v7.2h-5.1zM1458.2,169.7h2.1v7.2h-2.1zM1462.1,169.7h1.1v7.2h-1.1zM1465.0,169.7h1.1v7.2h-1.1z" fill="#000"/>
<text x="1472.00" y="186.50" font-family="'Liberation Serif', 'DejaVu Serif', serif" font-size="37.65" font-weight="bold" text-anchor="start" >With three covid particles</text>
</g>
<text transform="translate(966.1,1103.6) scale(0.9,1)" font-family="'Liberation Serif', 'DejaVu Serif', serif" font-size="88.5" text-anchor="middle">(</text><text transform="translate(1034.1,1103.6) scale(0.9,1)" font-family="'Liberation Serif', 'DejaVu Serif', serif" font-size="88.5" text-anchor="middle">)</text><text x="1000.5" y="1102.3" font-family="'Liberation Serif', 'DejaVu Serif', serif" font-size="86.5" font-weight="bold" text-anchor="middle">a</text>
<g id="plotB">
<ellipse cx="855.6" cy="1920.6" rx="138" ry="187" fill="none" stroke="#222" stroke-width="1" stroke-dasharray="4 1.5 1 1.5 1 1.5"/>
<rect x="716.4" y="1906.1" width="1.8" height="5" fill="#000"/>
<rect x="993.0" y="1906.1" width="1.8" height="5" fill="#000"/>
<rect x="854.0" y="1731.8" width="1.2" height="3.5" fill="#000"/>
<rect x="854.0" y="2105.8" width="1.2" height="3.5" fill="#000"/>
<ellipse cx="1410.4" cy="1839.7" rx="184" ry="267.7" fill="none" stroke="#222" stroke-width="1" stroke-dasharray="4 1.5 1 1.5 1 1.5"/>
<rect x="1225.2" y="1825.2" width="1.8" height="5" fill="#000"/>
<rect x="1593.8" y="1825.2" width="1.8" height="5" fill="#000"/>
<rect x="1408.8" y="1570.2" width="1.2" height="3.5" fill="#000"/>
<rect x="1408.8" y="2105.7" width="1.2" height="3.5" fill="#000"/>
<path transform="scale(1.13,1)" d="M121.24,2003.8 123.01,2003.7 124.78,2003.6 126.54,2003.4 128.30,2003.2 130.05,2002.9 131.77,2002.4 133.45,2001.8 135.08,2001.0 136.65,2000.1 138.16,1999.1 139.62,1997.9 141.03,1996.7 142.39,1995.4 143.70,1994.1 145.03,1992.8 146.31,1991.4 147.54,1989.9 148.74,1988.5 149.89,1987.0 151.01,1985.4 152.10,1983.8 153.15,1982.2 154.17,1980.6 155.17,1978.9 156.15,1977.3 157.10,1975.6 158.02,1973.9 158.93,1972.2 159.82,1970.4 160.69,1968.7 161.54,1966.9 162.37,1965.2 163.19,1963.4 164.00,1961.6 164.79,1959.8 165.57,1958.0 166.33,1956.2 167.08,1954.4 167.82,1952.6 168.55,1950.8 169.27,1948.9 169.98,1947.1 170.68,1945.3 171.37,1943.4 172.05,1941.6 172.72,1939.7 173.38,1937.9 174.03,1936.0 174.68,1934.1 175.32,1932.3 175.95,1930.4 176.57,1928.5 177.18,1926.7 177.79,1924.8 178.39,1922.9 178.99,1921.0 179.57,1919.1 180.16,1917.2 180.73,1915.4 181.30,1913.5 181.87,1911.6 182.43,1909.7 182.98,1907.8 183.53,1905.9 184.08,1904.0 184.63,1902.1 185.17,1900.2 185.71,1898.2 186.25,1896.3 186.79,1894.4 187.32,1892.5 187.86,1890.6 188.39,1888.7 188.91,1886.8 189.44,1884.9 189.97,1883.0 190.49,1881.1 191.01,1879.2 191.53,1877.2 192.05,1875.3 192.56,1873.4 193.08,1871.5 193.60,1869.6 194.12,1867.7 194.64,1865.8 195.16,1863.9 195.68,1862.0 196.21,1860.0 196.73,1858.1 197.26,1856.2 197.79,1854.3 198.32,1852.4 198.85,1850.5 199.38,1848.6 199.92,1846.7 200.47,1844.8 201.02,1842.9 201.58,1841.0 202.15,1839.1 202.73,1837.2 203.32,1835.3 203.93,1833.4 204.56,1831.6 205.21,1829.7 205.88,1827.8 206.57,1826.0 207.31,1824.2 208.04,1822.4 208.78,1820.6 209.56,1818.8 210.38,1817.0 211.25,1815.2 212.18,1813.5 213.17,1811.9 214.26,1810.3 215.47,1808.8 216.89,1807.6 218.55,1807.4 220.04,1808.5 221.28,1809.9 222.35,1811.5 223.29,1813.2 224.13,1814.9 224.89,1816.7 225.60,1818.6 226.25,1820.4 226.88,1822.3 227.49,1824.2 228.11,1826.1 228.70,1827.9 229.28,1829.8 229.83,1831.7 230.37,1833.6 230.91,1835.6 231.44,1837.5 231.96,1839.4 232.47,1841.3 232.99,1843.2 233.49,1845.1 234.00,1847.0 234.50,1849.0 235.00,1850.9 235.50,1852.8 236.00,1854.7 236.50,1856.6 236.99,1858.6 237.49,1860.5 237.99,1862.4 238.49,1864.3 238.99,1866.2 239.49,1868.1 240.00,1870.1 240.51,1872.0 241.04,1873.9 241.57,1875.8 242.11,1877.7 242.66,1879.6 243.22,1881.5 243.79,1883.4 244.38,1885.3 244.98,1887.2 245.59,1889.0 246.22,1890.9 246.85,1892.8 247.50,1894.6 248.16,1896.5 248.83,1898.3 249.51,1900.2 250.20,1902.0 250.90,1903.9 251.62,1905.7 252.34,1907.5 253.07,1909.4 253.81,1911.2 254.57,1913.0 255.34,1914.8 256.11,1916.6 256.91,1918.4 257.71,1920.1 258.53,1921.9 259.36,1923.7 260.21,1925.4 261.08,1927.2 261.98,1928.9 262.89,1930.6 263.84,1932.3 264.83,1934.0 265.83,1935.6 266.83,1937.3 267.87,1938.9 268.97,1940.5 270.13,1942.0 271.36,1943.4 272.67,1944.7 274.07,1946.0 275.56,1947.1 277.16,1947.9 278.86,1948.4 280.63,1948.3 282.36,1947.9 284.01,1947.2 285.52,1946.2 286.85,1944.9 288.03,1943.4 289.08,1941.8 290.03,1940.1 290.89,1938.3 291.68,1936.5 292.49,1934.8 293.25,1932.9 293.96,1931.1 294.61,1929.3 295.22,1927.4 295.80,1925.5 296.35,1923.6 296.88,1921.7 297.39,1919.8 297.88,1917.8 298.36,1915.9 298.82,1914.0 299.28,1912.0 299.72,1910.1 300.16,1908.2 300.58,1906.2 301.00,1904.3 301.41,1902.3 301.81,1900.4 302.21,1898.4 302.60,1896.5 302.99,1894.5 303.37,1892.6 303.75,1890.6 304.12,1888.7 304.49,1886.7 304.86,1884.8 305.23,1882.8 305.60,1880.9 305.96,1878.9 306.32,1876.9 306.67,1875.0 307.03,1873.0 307.38,1871.1 307.73,1869.1 308.08,1867.1 308.43,1865.2 308.77,1863.2 309.11,1861.2 309.46,1859.3 309.80,1857.3 310.14,1855.4 310.48,1853.4 310.83,1851.4 311.17,1849.5 311.51,1847.5 311.85,1845.5 312.19,1843.6 312.54,1841.6 312.88,1839.7 313.22,1837.7 313.56,1835.7 313.90,1833.8 314.25,1831.8 314.59,1829.8 314.93,1827.9 315.28,1825.9 315.62,1824.0 315.97,1822.0 316.32,1820.0 316.67,1818.1 317.02,1816.1 317.38,1814.2 317.74,1812.2 318.10,1810.2 318.47,1808.3 318.83,1806.3 319.21,1804.4 319.58,1802.4 319.96,1800.5 320.34,1798.5 320.72,1796.6 321.11,1794.6 321.50,1792.6 321.89,1790.7 322.29,1788.7 322.70,1786.8 323.11,1784.9 323.53,1782.9 323.95,1781.0 324.38,1779.0 324.82,1777.1 325.26,1775.2 325.72,1773.2 326.18,1771.3 326.65,1769.4 327.13,1767.4 327.61,1765.5 328.11,1763.6 328.62,1761.7 329.14,1759.8 329.67,1757.9 330.22,1756.0 330.78,1754.1 331.35,1752.2 331.95,1750.3 332.56,1748.4 333.19,1746.5 333.84,1744.7 334.52,1742.8 335.22,1741.0 335.96,1739.2 336.74,1737.4 337.55,1735.6 338.41,1733.8 339.32,1732.1 340.28,1730.5 341.31,1728.8 342.41,1727.3 343.58,1725.8 344.82,1724.3 346.15,1723.0 347.54,1721.8 349.01,1720.6 350.53,1719.6 352.09,1718.7 353.69,1717.8 355.31,1717.0 356.95,1716.3 358.58,1715.5 360.21,1714.7 361.83,1713.9 363.41,1713.0 364.95,1712.0 366.44,1710.9 367.85,1709.7 369.19,1708.4 370.44,1707.0 371.60,1705.5 372.68,1703.9 373.67,1702.3 374.59,1700.5 375.45,1698.8 376.25,1697.0 377.00,1695.2 377.71,1693.4 378.39,1691.5 379.04,1689.7 379.66,1687.8 380.27,1685.9 380.86,1684.0 381.44,1682.1 382.00,1680.2 382.56,1678.3 383.12,1676.4 383.67,1674.5 384.22,1672.6 384.78,1670.7 385.35,1668.8 385.92,1666.9 386.50,1665.1 387.08,1663.2 387.66,1661.3 388.26,1659.4 388.88,1657.5 389.53,1655.7 390.22,1653.8 390.98,1652.0 391.82,1650.3 392.84,1648.6 394.27,1648.0 395.33,1649.5 396.00,1651.4 396.50,1653.3 396.92,1655.2 397.27,1657.2 397.59,1659.2 397.88,1661.1 398.15,1663.1 398.41,1665.1 398.66,1667.1 398.92,1669.1 399.16,1671.0 399.39,1673.0 399.62,1675.0 399.84,1677.0 400.06,1679.0 400.28,1681.0 400.49,1683.0 400.71,1684.9 400.92,1686.9 401.13,1688.9 401.34,1690.9 401.54,1692.9 401.74,1694.9 401.93,1696.9 402.12,1698.9 402.30,1700.8 402.48,1702.8 402.66,1704.8 402.83,1706.8 403.00,1708.8 403.16,1710.8 403.33,1712.8 403.49,1714.8 403.64,1716.8 403.80,1718.8 403.96,1720.8 404.11,1722.8 404.27,1724.7 404.42,1726.7 404.57,1728.7 404.73,1730.7 404.88,1732.7 405.03,1734.7 405.18,1736.7 405.33,1738.7 405.48,1740.7 405.63,1742.7 405.78,1744.7 405.93,1746.7 406.07,1748.7 406.22,1750.7 406.36,1752.6 406.50,1754.6 406.64,1756.6 406.78,1758.6 406.92,1760.6 407.06,1762.6 407.20,1764.6 407.34,1766.6 407.47,1768.6 407.61,1770.6 407.75,1772.6 407.88,1774.6 408.02,1776.6 408.16,1778.6 408.29,1780.6 408.43,1782.6 408.57,1784.6 408.71,1786.6 408.85,1788.5 408.98,1790.5 409.12,1792.5 409.26,1794.5 409.40,1796.5 409.55,1798.5 409.69,1800.5 409.83,1802.5 409.97,1804.5 410.11,1806.5 410.25,1808.5 410.40,1810.5 410.54,1812.5 410.68,1814.5 410.82,1816.5 410.97,1818.5 411.11,1820.5 411.25,1822.4 411.39,1824.4 411.53,1826.4 411.68,1828.4 411.82,1830.4 411.96,1832.4 412.10,1834.4 412.24,1836.4 412.38,1838.4 412.52,1840.4 412.66,1842.4 412.80,1844.4 412.94,1846.4 413.08,1848.4 413.22,1850.4 413.36,1852.4 413.49,1854.4 413.63,1856.3 413.76,1858.3 413.89,1860.3 414.03,1862.3 414.16,1864.3 414.29,1866.3 414.42,1868.3 414.54,1870.3 414.67,1872.3 414.80,1874.3 414.92,1876.3 415.05,1878.3 415.18,1880.3 415.31,1882.3 415.43,1884.3 415.56,1886.3 415.69,1888.3 415.82,1890.3 415.96,1892.3 416.09,1894.3 416.23,1896.2 416.37,1898.2 416.51,1900.2 416.65,1902.2 416.79,1904.2 416.93,1906.2 417.08,1908.2 417.22,1910.2 417.36,1912.2 417.50,1914.2 417.65,1916.2 417.79,1918.2 417.93,1920.2 418.07,1922.2 418.21,1924.2 418.35,1926.2 418.50,1928.2 418.65,1930.1 418.81,1932.1 418.98,1934.1 419.17,1936.1 419.39,1938.1 419.66,1940.1 420.07,1942.0 420.89,1941.2 421.29,1939.3 421.61,1937.3 421.89,1935.3 422.14,1933.4 422.38,1931.4 422.60,1929.4 422.82,1927.4 423.03,1925.4 423.23,1923.4 423.43,1921.5 423.63,1919.5 423.82,1917.5 424.01,1915.5 424.20,1913.5 424.38,1911.5 424.57,1909.5 424.75,1907.5 424.92,1905.5 425.10,1903.5 425.27,1901.6 425.44,1899.6 425.60,1897.6 425.76,1895.6 425.92,1893.6 426.07,1891.6 426.22,1889.6 426.36,1887.6 426.51,1885.6 426.65,1883.6 426.79,1881.6 426.92,1879.6 427.06,1877.6 427.19,1875.6 427.32,1873.6 427.45,1871.7 427.58,1869.7 427.71,1867.7 427.84,1865.7 427.97,1863.7 428.10,1861.7 428.23,1859.7 428.36,1857.7 428.49,1855.7 428.62,1853.7 428.76,1851.7 428.89,1849.7 429.03,1847.7 429.16,1845.7 429.30,1843.7 429.44,1841.7 429.58,1839.7 429.72,1837.7 429.86,1835.7 430.00,1833.8 430.14,1831.8 430.28,1829.8 430.42,1827.8 430.56,1825.8 430.71,1823.8 430.85,1821.8 430.99,1819.8 431.13,1817.8 431.27,1815.8 431.41,1813.8 431.55,1811.8 431.69,1809.8 431.83,1807.8 431.98,1805.8 432.12,1803.8 432.26,1801.8 432.40,1799.9 432.54,1797.9 432.68,1795.9 432.82,1793.9 432.96,1791.9 433.10,1789.9 433.25,1787.9 433.39,1785.9 433.53,1783.9 433.67,1781.9 433.81,1779.9 433.94,1777.9 434.08,1775.9 434.22,1773.9 434.36,1771.9 434.50,1769.9 434.63,1767.9 434.77,1766.0 434.91,1764.0 435.04,1762.0 435.18,1760.0 435.32,1758.0 435.46,1756.0 435.59,1754.0 435.73,1752.0 435.87,1750.0 436.01,1748.0 436.15,1746.0 436.29,1744.0 436.43,1742.0 436.57,1740.0 436.71,1738.0 436.86,1736.0 437.00,1734.0 437.15,1732.1 437.30,1730.1 437.45,1728.1 437.60,1726.1 437.76,1724.1 437.91,1722.1 438.07,1720.1 438.23,1718.1 438.40,1716.1 438.56,1714.1 438.73,1712.1 438.90,1710.1 439.08,1708.1 439.25,1706.2 439.43,1704.2 439.61,1702.2 439.78,1700.2 439.97,1698.2 440.15,1696.2 440.33,1694.2 440.51,1692.2 440.69,1690.2 440.87,1688.2 441.05,1686.3 441.23,1684.3 441.40,1682.3 441.58,1680.3 441.75,1678.3 441.91,1676.3 442.08,1674.3 442.23,1672.3 442.39,1670.3 442.54,1668.3 442.68,1666.3 442.81,1664.3 442.94,1662.3 443.07,1660.4 443.18,1658.4 443.30,1656.4 443.41,1654.4 443.51,1652.4 443.62,1650.4 443.72,1648.4 443.83,1646.4 443.93,1644.4 444.04,1642.4 444.15,1640.4 444.26,1638.4 444.38,1636.4 444.51,1634.4 444.64,1632.4 444.79,1630.4 444.95,1628.4 445.12,1626.4 445.32,1624.4 445.54,1622.5 445.79,1620.5 446.08,1618.5 446.43,1616.5 446.77,1614.6 447.14,1612.6 447.57,1610.7 448.08,1608.8 448.72,1606.9 449.52,1605.1 450.53,1603.5 451.81,1602.1 453.35,1601.1 455.08,1600.8 456.58,1601.7 457.64,1603.3 458.42,1605.1 459.05,1606.9 459.59,1608.8 460.06,1610.8 460.48,1612.7 460.86,1614.7 461.20,1616.6 461.52,1618.6 461.84,1620.6 462.16,1622.5 462.44,1624.5 462.71,1626.5 462.97,1628.5 463.21,1630.5 463.45,1632.4 463.69,1634.4 463.92,1636.4 464.15,1638.4 464.38,1640.4 464.61,1642.4 464.85,1644.3 465.08,1646.3 465.32,1648.3 465.55,1650.3 465.79,1652.3 466.02,1654.2 466.26,1656.2 466.49,1658.2 466.72,1660.2 466.95,1662.2 467.19,1664.2 467.42,1666.1 467.65,1668.1 467.88,1670.1 468.11,1672.1 468.34,1674.1 468.57,1676.1 468.80,1678.0 469.04,1680.0 469.27,1682.0 469.50,1684.0 469.73,1686.0 469.97,1688.0 470.20,1689.9 470.43,1691.9 470.67,1693.9 470.90,1695.9 471.14,1697.9 471.37,1699.9 471.60,1701.8 471.84,1703.8 472.07,1705.8 472.30,1707.8 472.54,1709.8 472.77,1711.8 473.00,1713.7 473.24,1715.7 473.47,1717.7 473.70,1719.7 473.93,1721.7 474.16,1723.7 474.39,1725.6 474.62,1727.6 474.85,1729.6 475.08,1731.6 475.31,1733.6 475.54,1735.6 475.77,1737.5 476.00,1739.5 476.24,1741.5 476.47,1743.5 476.71,1745.5 476.96,1747.5 477.20,1749.4 477.45,1751.4 477.70,1753.4 477.95,1755.4 478.20,1757.4 478.46,1759.3 478.71,1761.3 478.97,1763.3 479.24,1765.3 479.50,1767.2 479.77,1769.2 480.04,1771.2 480.31,1773.2 480.59,1775.2 480.87,1777.1 481.16,1779.1 481.45,1781.1 481.75,1783.0 482.05,1785.0 482.36,1787.0 482.68,1789.0 483.00,1790.9 483.34,1792.9 483.68,1794.9 484.03,1796.8 484.39,1798.8 484.76,1800.7 485.14,1802.7 485.53,1804.6 485.93,1806.6 486.35,1808.5 486.78,1810.5 487.23,1812.4 487.70,1814.3 488.18,1816.3 488.68,1818.2 489.21,1820.1 489.76,1822.0 490.34,1823.9 490.95,1825.8 491.59,1827.6 492.26,1829.5 492.96,1831.3 493.70,1833.1 494.47,1834.9 495.28,1836.7 496.13,1838.5 497.02,1840.2 497.96,1841.9 498.94,1843.5 499.97,1845.2 501.05,1846.8 502.12,1848.4 503.24,1849.9 504.42,1851.4 505.68,1852.8 507.01,1854.1 508.43,1855.3 509.93,1856.4 511.52,1857.2 513.19,1857.9 514.92,1858.3 516.68,1858.2 518.39,1857.7 520.05,1857.0 521.66,1856.2 523.22,1855.3 524.73,1854.2 526.21,1853.1 527.66,1852.0 529.10,1850.8 530.53,1849.6 531.96,1848.5 533.41,1847.3 534.86,1846.2 536.29,1845.0 537.73,1843.8 539.19,1842.7 540.67,1841.6 542.20,1840.6 543.79,1839.7 545.43,1839.0 547.13,1838.4 548.86,1838.0 550.62,1837.8 552.37,1838.1 554.06,1838.7 555.64,1839.5 557.11,1840.7 558.43,1842.0 559.63,1843.5 560.71,1845.0 561.71,1846.7 562.63,1848.4 563.47,1850.2 564.32,1851.9 565.14,1853.7 565.90,1855.5 566.62,1857.3 567.30,1859.2 567.95,1861.0 568.57,1862.9 569.17,1864.8 569.75,1866.7 570.32,1868.6 570.88,1870.5 571.43,1872.4 571.97,1874.3 572.51,1876.2 573.04,1878.1 573.56,1880.0 574.07,1881.9 574.58,1883.8 575.07,1885.8 575.56,1887.7 576.05,1889.6 576.52,1891.5 576.98,1893.5 577.44,1895.4 577.89,1897.3 578.33,1899.3 578.77,1901.2 579.20,1903.1 579.62,1905.1 580.03,1907.0 580.44,1909.0 580.84,1910.9 581.24,1912.9 581.63,1914.8 582.01,1916.8 582.39,1918.7 582.76,1920.7 583.13,1922.6 583.49,1924.6 583.84,1926.6 584.19,1928.5 584.54,1930.5 584.88,1932.5 585.21,1934.4 585.54,1936.4 585.86,1938.3 586.18,1940.3 586.49,1942.3 586.81,1944.3 587.11,1946.2 587.42,1948.2 587.72,1950.2 588.02,1952.1 588.32,1954.1 588.62,1956.1 588.92,1958.1 589.21,1960.0 589.51,1962.0 589.80,1964.0 590.10,1965.9 590.39,1967.9 590.69,1969.9 590.98,1971.9 591.28,1973.8 591.57,1975.8 591.86,1977.8 592.15,1979.8 592.45,1981.7 592.74,1983.7 593.03,1985.7 593.32,1987.6 593.60,1989.6 593.89,1991.6 594.18,1993.6 594.47,1995.5 594.76,1997.5 595.05,1999.5 595.34,2001.5 595.63,2003.4 595.92,2005.4 596.22,2007.4 596.51,2009.4 596.80,2011.3 597.10,2013.3 597.39,2015.3 597.69,2017.2 597.99,2019.2 598.29,2021.2 598.59,2023.2 598.89,2025.1 599.19,2027.1 599.49,2029.1 599.79,2031.0 600.10,2033.0 600.40,2035.0 600.71,2037.0 601.02,2038.9 601.33,2040.9 601.64,2042.9 601.95,2044.8 602.26,2046.8 602.58,2048.8 602.89,2050.7 603.21,2052.7 603.53,2054.7 603.85,2056.6 604.17,2058.6 604.50,2060.6 604.82,2062.5 605.15,2064.5 605.48,2066.5 605.81,2068.4 606.14,2070.4 606.47,2072.4 606.81,2074.3 607.15,2076.3 607.50,2078.3 607.85,2080.2 608.20,2082.2 608.56,2084.1 608.92,2086.1 609.29,2088.0 609.67,2090.0 610.05,2092.0 610.44,2093.9 610.83,2095.9 611.22,2097.8 611.62,2099.8 612.02,2101.7 612.44,2103.7 612.86,2105.6 613.30,2107.5 613.76,2109.5 614.25,2111.4 614.79,2113.3 615.39,2115.2 616.06,2117.0 616.84,2118.8 617.74,2120.5 618.85,2122.1 620.30,2121.8 621.15,2120.1 621.77,2118.2 622.30,2116.3 622.79,2114.4 623.28,2112.4 623.75,2110.5 624.21,2108.6 624.65,2106.7 625.09,2104.7 625.51,2102.8 625.95,2100.8 626.39,2098.9 626.85,2097.0 627.31,2095.0 627.79,2093.1 628.28,2091.2 628.79,2089.3 629.32,2087.4 629.86,2085.5 630.43,2083.6 631.02,2081.7 631.63,2079.8 632.26,2077.9 632.91,2076.1 633.57,2074.2 634.26,2072.4 634.96,2070.5 635.68,2068.7 636.41,2066.9 637.16,2065.1 637.92,2063.3 638.69,2061.5 639.47,2059.7 640.25,2057.9 641.05,2056.1 641.84,2054.3 642.64,2052.5 643.44,2050.7 644.24,2048.9 645.04,2047.2 645.84,2045.4 646.63,2043.6 647.43,2041.8 648.22,2040.0 649.02,2038.2 649.81,2036.4 650.60,2034.6 651.39,2032.9 652.18,2031.1 652.98,2029.3 653.77,2027.5 654.56,2025.7 655.35,2023.9 656.14,2022.1 656.94,2020.3 657.73,2018.5 658.52,2016.7 659.31,2015.0 660.10,2013.2 660.89,2011.4 661.69,2009.6 662.48,2007.8 663.27,2006.0 664.06,2004.2 664.85,2002.4 665.64,2000.6 666.43,1998.9 667.22,1997.1 668.01,1995.3 668.79,1993.5 669.58,1991.7 670.36,1989.9 671.15,1988.1 671.93,1986.3 672.71,1984.5 673.50,1982.7 674.30,1980.9 675.10,1979.1 675.90,1977.4 676.72,1975.6 677.56,1973.8 678.41,1972.1 679.27,1970.3 680.16,1968.6 681.08,1966.9 682.02,1965.2 682.99,1963.5 684.01,1961.9 685.06,1960.3 686.17,1958.7 687.33,1957.2 688.55,1955.8 689.81,1954.4 691.07,1952.9 692.40,1951.6 693.80,1950.4 695.29,1949.3 696.85,1948.4 698.49,1947.6 700.19,1947.1 701.94,1946.7 703.70,1946.5 705.46,1946.5 707.21,1946.8 708.91,1947.3 710.56,1948.0 712.16,1948.9 713.71,1949.9 715.23,1950.9 716.70,1952.0 718.14,1953.2 719.55,1954.4 720.94,1955.6 722.33,1956.9 723.71,1958.1 725.08,1959.4 726.43,1960.7 727.78,1962.0 729.13,1963.3 730.47,1964.6 731.83,1965.8 733.19,1967.1 734.57,1968.4 735.96,1969.6 737.37,1970.8 738.80,1972.0 740.26,1973.1 741.74,1974.2 743.24,1975.3 744.78,1976.3 746.34,1977.2 747.92,1978.1 749.49,1979.0 751.10,1979.9 752.73,1980.7 754.39,1981.3 756.08,1982.0 757.79,1982.5 759.52,1982.9 761.27,1983.2 763.03,1983.4 764.80,1983.5 766.55,1983.3 768.26,1982.8 769.92,1982.1 771.54,1981.3 773.13,1980.4 774.73,1979.5 776.34,1978.7 777.94,1977.9 779.53,1977.0 781.16,1976.2 782.84,1975.6 784.57,1975.2 786.34,1975.0 788.10,1975.1 789.84,1975.5 791.49,1976.3 793.01,1977.3 794.41,1978.5 795.69,1979.9 796.84,1981.4 797.89,1983.0 798.85,1984.7 799.73,1986.4 800.61,1988.1 801.45,1989.9 802.23,1991.7 802.96,1993.5 803.64,1995.4 804.28,1997.2 804.90,1999.1 805.50,2001.0 806.07,2002.9 806.64,2004.8 807.18,2006.7 807.72,2008.6 808.24,2010.5 808.76,2012.4 809.26,2014.3 809.75,2016.3 810.23,2018.2 810.70,2020.1 811.16,2022.0 811.61,2024.0 812.04,2025.9 812.47,2027.9 812.89,2029.8 813.30,2031.7 813.70,2033.7 814.10,2035.6 814.48,2037.6 814.87,2039.6 815.24,2041.5 815.61,2043.5 815.98,2045.4 816.35,2047.4 816.72,2049.3 817.08,2051.3 817.46,2053.2 817.83,2055.2 818.21,2057.2 818.59,2059.1 818.98,2061.1 819.38,2063.0 819.79,2065.0 820.20,2066.9 820.63,2068.8 821.06,2070.8 821.50,2072.7 821.95,2074.7 822.41,2076.6 822.88,2078.5 823.37,2080.4 823.87,2082.4 824.39,2084.3 824.92,2086.2 825.48,2088.1 826.07,2090.0 826.68,2091.8 827.34,2093.7 828.03,2095.5 828.72,2097.4 829.43,2099.2 830.20,2101.0 831.02,2102.8 831.93,2104.5 832.96,2106.1 834.12,2107.6 835.47,2108.9 837.00,2109.9 838.69,2110.5 840.39,2110.2 841.90,2109.2 843.32,2108.0 844.73,2106.7 846.17,2105.6 847.68,2104.6 849.27,2103.7 850.91,2102.9 852.62,2102.4 854.35,2102.0 856.10,2101.7 857.85,2101.4 859.62,2101.3 861.39,2101.2 863.16,2101.3 864.92,2101.4 866.68,2101.6 868.44,2101.9 870.20,2102.1 871.95,2102.4 873.71,2102.6 875.47,2102.8 877.24,2103.0 879.01,2103.1 880.78,2103.1 882.55,2103.0 884.31,2102.8 886.06,2102.6 887.81,2102.2 889.53,2101.8 891.22,2101.2 892.89,2100.5 894.51,2099.7 896.08,2098.8 897.60,2097.7 899.05,2096.6 900.43,2095.3 901.74,2094.0 902.96,2092.6 904.12,2091.0 905.20,2089.5 906.22,2087.8 907.18,2086.1 908.10,2084.4 908.98,2082.7 909.84,2080.9 910.68,2079.2 911.51,2077.4 912.35,2075.7 913.19,2073.9 914.06,2072.2 914.94,2070.4 915.85,2068.7 916.79,2067.0 917.77,2065.3 918.78,2063.7 919.83,2062.1 920.91,2060.5 922.02,2058.9 923.16,2057.4 924.33,2055.9 925.51,2054.4 926.71,2053.0 927.92,2051.5 929.14,2050.0 930.35,2048.6 931.57,2047.1 932.79,2045.7 934.00,2044.2 935.19,2042.7 936.36,2041.2 937.51,2039.7 938.65,2038.2 939.81,2036.7 941.07,2035.3 942.52,2034.1 944.19,2033.5 945.62,2034.6 946.54,2036.3 947.22,2038.1 947.78,2040.0 948.26,2041.9 948.71,2043.9 949.12,2045.8 949.51,2047.8 949.87,2049.7 950.22,2051.7 950.56,2053.6 950.90,2055.6 951.21,2057.6 951.51,2059.6 951.79,2061.5 952.06,2063.5 952.33,2065.5 952.58,2067.5 952.82,2069.4 953.06,2071.4 953.29,2073.4 953.52,2075.4 953.73,2077.4 953.94,2079.4 954.15,2081.4 954.35,2083.3 954.55,2085.3 954.74,2087.3 954.93,2089.3 955.13,2091.3 955.33,2093.3 955.53,2095.3 955.74,2097.3 955.95,2099.2 956.17,2101.2 956.39,2103.2 956.62,2105.2 956.87,2107.2 957.14,2109.2 957.42,2111.1 957.72,2113.1 958.04,2115.1 958.42,2117.0 958.88,2118.9 959.51,2120.8 960.45,2122.5 961.91,2123.6 963.26,2122.8 963.86,2120.9 964.24,2118.9 964.53,2117.0 964.78,2115.0 965.03,2113.0 965.28,2111.0 965.54,2109.1 965.81,2107.1 966.07,2105.1 966.33,2103.1 966.59,2101.1 966.85,2099.2 967.11,2097.2 967.37,2095.2 967.63,2093.2 967.89,2091.3 968.16,2089.3 968.43,2087.3 968.70,2085.3 968.98,2083.3 969.26,2081.4 969.56,2079.4 969.86,2077.4 970.17,2075.5 970.49,2073.5 970.83,2071.5 971.18,2069.6 971.55,2067.6 971.94,2065.7 972.35,2063.7 972.79,2061.8 973.26,2059.8 973.76,2057.9 974.29,2056.0 974.86,2054.1 975.47,2052.2 976.11,2050.4 976.79,2048.5 977.51,2046.7 978.26,2044.9 979.04,2043.1 979.85,2041.3 980.70,2039.6 981.57,2037.8 982.48,2036.1 983.41,2034.4 984.36,2032.7 985.34,2031.1 986.35,2029.4 987.37,2027.8 988.41,2026.2 989.46,2024.5 990.54,2023.0 991.63,2021.4 992.73,2019.8 993.85,2018.3 994.98,2016.7 996.13,2015.2 997.29,2013.7 998.46,2012.2 999.65,2010.7 1000.84,2009.2 1002.06,2007.8 1003.28,2006.3 1004.52,2004.9 1005.77,2003.5 1007.04,2002.1 1008.32,2000.7 1009.62,1999.4 1010.93,1998.0 1012.26,1996.7 1013.59,1995.4 1014.94,1994.1 1016.29,1992.8 1017.65,1991.5 1019.02,1990.2 1020.39,1989.0 1021.76,1987.7 1023.15,1986.5 1024.54,1985.2 1025.94,1984.0 1027.33,1982.8 1028.74,1981.5 1030.15,1980.3 1031.59,1979.2 1033.07,1978.1 1034.59,1977.0 1036.15,1976.1 1037.77,1975.3 1039.43,1974.6 1041.15,1974.1 1042.91,1974.0 1044.66,1974.3 1046.36,1974.8 1047.94,1975.7 1049.36,1976.9 1050.63,1978.3 1051.77,1979.9 1052.81,1981.5 1053.80,1983.1 1054.73,1984.8 1055.64,1986.5 1056.56,1988.3 1057.43,1990.0 1058.27,1991.8 1059.08,1993.5 1059.86,1995.3 1060.63,1997.1 1061.37,1998.9 1062.11,2000.8 1062.84,2002.6 1063.56,2004.4 1064.27,2006.2 1064.98,2008.1 1065.69,2009.9 1066.39,2011.8 1067.09,2013.6 1067.79,2015.4 1068.51,2017.3 1069.24,2019.1 1069.98,2020.9 1070.74,2022.7 1071.53,2024.5 1072.42,2026.2 1073.46,2027.8 1074.76,2029.2 1076.36,2030.0 1077.64,2028.7 1078.36,2026.9 1078.87,2025.0 1079.29,2023.0 1079.67,2021.1 1080.02,2019.1 1080.37,2017.1 1080.71,2015.2 1081.04,2013.2 1081.36,2011.3 1081.66,2009.3 1081.95,2007.3 1082.23,2005.3 1082.51,2003.4 1082.78,2001.4 1083.05,1999.4 1083.31,1997.4 1083.56,1995.4 1083.82,1993.5 1084.07,1991.5 1084.31,1989.5 1084.56,1987.5 1084.81,1985.5 1085.06,1983.6 1085.30,1981.6 1085.55,1979.6 1085.80,1977.6 1086.05,1975.6 1086.31,1973.7 1086.56,1971.7 1086.81,1969.7 1087.07,1967.7 1087.34,1965.7 1087.61,1963.8 1087.88,1961.8 1088.17,1959.8 1088.46,1957.8 1088.76,1955.9 1089.08,1953.9 1089.41,1951.9 1089.76,1950.0 1090.12,1948.0 1090.50,1946.1 1090.90,1944.1 1091.32,1942.2 1091.77,1940.2 1092.26,1938.3 1092.78,1936.4 1093.35,1934.5 1093.98,1932.6 1094.66,1930.8 1095.43,1929.0 1096.17,1927.2 1096.97,1925.4 1097.87,1923.7 1098.87,1922.0 1100.01,1920.5 1101.30,1919.1 1102.77,1918.0 1104.38,1917.2 1106.10,1916.7 1107.86,1916.5 1109.61,1916.8 1111.31,1917.3 1112.97,1918.0 1114.61,1918.8 1116.24,1919.5 1117.89,1920.3 1119.54,1921.0 1121.19,1921.7 1122.85,1922.4 1124.54,1923.0 1126.27,1923.4 1128.03,1923.7 1129.80,1923.7 1131.56,1923.6 1133.28,1923.1 1134.93,1922.4 1136.48,1921.4 1137.93,1920.3 1139.28,1919.0 1140.56,1917.6 1141.76,1916.1 1142.90,1914.6 1143.98,1913.0 1145.07,1911.4 1146.13,1909.8 1147.14,1908.2 1148.12,1906.5 1149.07,1904.8 1150.00,1903.1 1150.91,1901.4 1151.81,1899.7 1152.70,1898.0 1153.58,1896.2 1154.46,1894.5 1155.35,1892.8 1156.23,1891.0 1157.13,1889.3 1158.03,1887.6 1158.96,1885.9 1159.90,1884.2 1160.88,1882.5 1161.90,1880.9 1162.93,1879.3 1163.97,1877.6 1165.06,1876.1 1166.23,1874.6 1167.49,1873.2 1168.88,1871.9 1170.39,1870.9 1172.01,1870.1 1173.71,1869.5 1175.45,1869.2 1177.21,1869.2 1178.91,1869.7 1180.49,1870.6 1181.96,1871.7 1183.32,1873.0 1184.59,1874.4 1185.77,1875.9 1186.87,1877.5 1187.89,1879.1 1188.85,1880.8 1189.76,1882.5 1190.68,1884.2 1191.56,1885.9 1192.40,1887.7 1193.19,1889.5 1193.95,1891.3 1194.69,1893.1 1195.40,1894.9 1196.08,1896.8 1196.75,1898.6 1197.40,1900.5 1198.04,1902.4 1198.66,1904.2 1199.27,1906.1 1199.87,1908.0 1200.47,1909.9 1201.05,1911.8 1201.63,1913.7 1202.20,1915.6 1202.77,1917.5 1203.34,1919.3 1203.90,1921.2 1204.47,1923.1 1205.03,1925.0 1205.59,1926.9 1206.16,1928.8 1206.73,1930.7 1207.30,1932.6 1207.88,1934.5 1208.46,1936.4 1209.05,1938.3 1209.65,1940.2 1210.26,1942.0 1210.87,1943.9 1211.50,1945.8 1212.13,1947.7 1212.78,1949.5 1213.45,1951.4 1214.13,1953.2 1214.83,1955.1 1215.56,1956.9 1216.30,1958.7 1217.08,1960.5 1217.88,1962.3 1218.73,1964.0 1219.61,1965.8 1220.54,1967.5 1221.52,1969.1 1222.55,1970.8 1223.63,1972.3 1224.78,1973.9 1225.98,1975.3 1227.24,1976.7 1228.55,1978.1 1229.90,1979.4 1231.31,1980.6 1232.75,1981.8 1234.22,1982.9 1235.71,1983.9 1237.22,1985.0 1238.74,1986.0 1240.27,1987.0 1241.79,1988.0 1243.31,1989.1 1244.82,1990.1 1246.31,1991.2 1247.78,1992.3 1249.23,1993.5 1250.66,1994.6 1252.06,1995.9 1253.43,1997.1 1254.78,1998.4 1256.11,1999.7 1257.40,2001.1 1258.68,2002.5 1259.93,2003.9 1261.16,2005.3 1262.37,2006.8 1263.56,2008.3 1264.72,2009.8 1265.87,2011.3 1267.00,2012.9 1268.11,2014.4 1269.20,2016.0 1270.28,2017.6 1271.34,2019.2 1272.38,2020.8 1273.42,2022.4 1274.44,2024.1 1275.45,2025.7 1276.45,2027.3 1277.45,2029.0 1278.45,2030.7 1279.45,2032.3 1280.45,2034.0 1281.46,2035.6 1282.47,2037.2 1283.49,2038.9 1284.52,2040.5 1285.57,2042.1 1286.62,2043.7 1287.69,2045.3 1288.77,2046.9 1289.87,2048.5 1291.00,2050.0 1292.14,2051.5 1293.32,2053.0 1294.53,2054.5 1295.77,2055.9 1297.06,2057.3 1298.33,2058.7 1299.64,2060.0 1301.00,2061.3 1302.41,2062.5 1303.88,2063.6 1305.40,2064.6 1306.99,2065.5 1308.65,2066.2 1310.35,2066.8 1312.10,2067.1 1313.85,2066.9 1315.50,2066.2 1317.05,2065.2 1318.50,2064.1 1319.86,2062.8 1321.15,2061.4 1322.37,2060.0 1323.54,2058.5 1324.68,2057.0 1325.80,2055.4 1326.91,2053.8 1328.03,2052.3 1329.14,2050.7 1330.24,2049.2 1331.35,2047.6 1332.47,2046.1 1333.61,2044.5 1334.78,2043.0 1335.99,2041.6 1337.24,2040.2 1338.51,2038.8 1339.79,2037.4 1341.13,2036.1 1342.53,2034.9 1344.00,2033.7 1345.53,2032.7 1347.14,2031.9 1348.80,2031.2 1350.51,2030.7 1352.26,2030.4 1354.02,2030.3 1355.76,2030.7 1357.44,2031.3 1359.10,2032.0 1360.74,2032.7 1362.38,2033.5 1364.03,2034.2 1365.70,2034.9 1367.38,2035.5 1369.05,2036.2 1370.74,2036.8 1372.44,2037.3 1374.16,2037.8 1375.90,2038.2 1377.66,2038.4 1379.42,2038.6 1381.19,2038.6 1382.95,2038.5 1384.71,2038.2 1386.44,2037.8 1388.13,2037.2 1389.75,2036.4 1391.26,2035.4 1392.64,2034.1 1393.90,2032.7 1395.05,2031.2 1396.12,2029.6 1397.22,2028.0 1398.25,2026.4 1399.24,2024.8 1400.17,2023.1 1401.03,2021.3 1401.85,2019.5 1402.67,2017.8 1403.53,2016.0 1404.45,2014.3 1405.50,2012.7 1406.72,2011.3 1408.20,2010.2 1409.81,2010.3 1410.92,2011.9 1411.70,2013.7 1412.33,2015.6 1412.87,2017.5 1413.35,2019.4 1413.79,2021.3 1414.19,2023.3 1414.56,2025.2 1414.91,2027.2 1415.25,2029.1 1415.59,2031.1 1415.91,2033.1 1416.20,2035.1 1416.49,2037.0 1416.76,2039.0 1417.02,2041.0 1417.27,2043.0 1417.51,2044.9 1417.75,2046.9 1417.98,2048.9 1418.21,2050.9 1418.43,2052.9 1418.65,2054.9 1418.87,2056.8 1419.08,2058.8 1419.29,2060.8 1419.49,2062.8 1419.70,2064.8 1419.90,2066.8 1420.09,2068.8 1420.29,2070.8 1420.49,2072.7 1420.68,2074.7 1420.88,2076.7 1421.07,2078.7 1421.27,2080.7 1421.46,2082.7 1421.65,2084.7 1421.84,2086.7 1422.04,2088.7 1422.23,2090.6 1422.43,2092.6 1422.63,2094.6 1422.84,2096.6 1423.04,2098.6 1423.25,2100.6 1423.47,2102.6 1423.70,2104.5 1423.95,2106.5 1424.23,2108.5 1424.53,2110.5 1424.87,2112.4 1425.26,2114.4 1425.70,2116.3 1426.21,2118.2 1426.81,2120.1 1427.58,2121.9 1428.74,2121.6 1429.32,2119.7 1429.74,2117.8 1430.09,2115.8 1430.42,2113.9 1430.73,2111.9 1431.04,2109.9 1431.33,2108.0 1431.62,2106.0 1431.89,2104.0 1432.15,2102.0 1432.40,2100.0 1432.65,2098.1 1432.88,2096.1 1433.12,2094.1 1433.35,2092.1 1433.58,2090.1 1433.81,2088.2 1434.03,2086.2 1434.25,2084.2 1434.47,2082.2 1434.69,2080.2 1434.92,2078.2 1435.15,2076.2 1435.39,2074.3 1435.63,2072.3 1435.87,2070.3 1436.13,2068.3 1436.38,2066.3 1436.65,2064.4 1436.92,2062.4 1437.19,2060.4 1437.47,2058.4 1437.75,2056.5 1438.03,2054.5 1438.32,2052.5 1438.61,2050.5 1438.90,2048.6 1439.19,2046.6 1439.49,2044.6 1439.79,2042.6 1440.09,2040.7 1440.39,2038.7 1440.68,2036.7 1440.99,2034.8 1441.29,2032.8 1441.59,2030.8 1441.88,2028.8 1442.18,2026.9 1442.48,2024.9 1442.78,2022.9 1443.08,2021.0 1443.37,2019.0 1443.67,2017.0 1443.97,2015.0 1444.27,2013.1 1444.56,2011.1 1444.86,2009.1 1445.16,2007.2 1445.46,2005.2 1445.76,2003.2 1446.07,2001.2 1446.38,1999.3 1446.69,1997.3 1447.00,1995.3 1447.32,1993.4 1447.65,1991.4 1447.97,1989.4 1448.31,1987.5 1448.64,1985.5 1448.98,1983.5 1449.33,1981.6 1449.68,1979.6 1450.04,1977.7 1450.40,1975.7 1450.77,1973.7 1451.14,1971.8 1451.53,1969.8 1451.91,1967.9 1452.31,1965.9 1452.71,1964.0 1453.12,1962.0 1453.54,1960.1 1453.96,1958.2 1454.40,1956.2 1454.85,1954.3 1455.31,1952.3 1455.78,1950.4 1456.26,1948.5 1456.75,1946.6 1457.26,1944.7 1457.78,1942.7 1458.32,1940.8 1458.87,1938.9 1459.44,1937.0 1460.03,1935.2 1460.63,1933.3 1461.26,1931.4 1461.91,1929.5 1462.58,1927.7 1463.28,1925.9 1464.00,1924.0 1464.77,1922.2 1465.57,1920.4 1466.41,1918.7 1467.30,1917.0 1468.24,1915.3 1469.24,1913.6 1470.30,1912.0 1471.42,1910.5 1472.54,1908.9 1473.70,1907.4 1474.94,1906.0 1476.25,1904.6 1477.64,1903.4 1479.10,1902.3 1480.63,1901.3 1482.23,1900.4 1483.89,1899.7 1485.60,1899.2 1487.36,1899.1 1489.11,1899.4 1490.84,1899.8 1492.55,1900.3 1494.24,1900.9 1495.93,1901.5 1497.59,1902.2 1499.23,1903.0 1500.83,1903.8 1502.40,1904.7 1503.93,1905.7 1505.45,1906.8 1506.94,1907.8 1508.38,1909.0 1509.77,1910.2 1511.11,1911.5 1512.39,1912.9 1513.60,1914.4 1514.75,1915.9 1515.83,1917.5 1516.85,1919.1 1517.80,1920.8 1518.69,1922.5 1519.53,1924.3 1520.32,1926.1 1521.07,1927.9 1521.78,1929.7 1522.47,1931.6 1523.14,1933.4 1523.79,1935.3 1524.44,1937.1 1525.07,1939.0 1525.70,1940.9 1526.33,1942.8 1526.95,1944.6 1527.56,1946.5 1528.18,1948.4 1528.79,1950.3 1529.40,1952.1 1530.01,1954.0 1530.61,1955.9 1531.22,1957.8 1531.82,1959.7 1532.44,1961.5 1533.06,1963.4 1533.69,1965.3 1534.34,1967.1 1535.01,1969.0 1535.72,1970.8 1536.46,1972.6 1537.20,1974.5 1537.96,1976.3 1538.76,1978.0 1539.62,1979.8 1540.55,1981.5 1541.59,1983.1 1542.76,1984.6 1544.11,1985.9 1545.66,1986.9 1547.38,1987.3 1549.05,1986.8 1550.41,1985.6 1551.52,1984.0 1552.46,1982.3 1553.28,1980.5 1554.04,1978.7 1554.75,1976.9 1555.46,1975.1 1556.19,1973.2 1556.97,1971.4 1557.70,1969.6 1558.44,1967.8 1559.21,1966.0 1560.06,1964.3 1561.02,1962.6 1562.15,1961.0 1563.51,1959.8 1565.12,1959.0 1566.79,1959.3 1568.16,1960.6 1569.34,1962.1 1570.44,1963.6 1571.53,1965.2 1572.70,1966.7 1573.85,1968.2 1575.01,1969.7 1576.27,1971.2 1577.68,1972.4 1579.27,1973.2 1580.98,1973.2 1582.44,1972.1 1583.68,1970.6 1584.79,1969.1 1585.79,1967.4 1586.72,1965.7 1587.60,1964.0 1588.43,1962.2 1589.23,1960.4 1590.00,1958.6 1590.76,1956.8 1591.54,1955.0 1592.29,1953.2 1593.02,1951.4 1593.74,1949.6 1594.45,1947.7 1595.16,1945.9 1595.87,1944.1 1596.58,1942.2 1597.29,1940.4 1598.01,1938.6 1598.73,1936.7 1599.47,1934.9 1600.22,1933.1 1600.99,1931.3 1601.79,1929.5 1602.61,1927.8 1603.47,1926.0 1604.36,1924.3 1605.31,1922.6 1606.31,1920.9 1607.34,1919.3 1608.38,1917.7 1609.48,1916.1 1610.66,1914.6 1611.92,1913.2 1613.28,1912.0 1614.74,1910.8 1616.29,1909.9 1617.92,1909.1 1619.62,1908.5 1621.36,1908.2 1623.13,1908.2 1624.90,1908.3 1626.66,1908.5 1628.41,1908.8 1630.15,1909.2 1631.87,1909.6 1633.58,1910.2 1635.26,1910.8 1636.92,1911.5 1638.57,1912.2 1640.21,1913.0 1641.85,1913.7 1643.47,1914.5 1645.07,1915.4 1646.66,1916.3 1648.23,1917.2 1649.77,1918.2 1651.28,1919.2 1652.76,1920.3 1654.21,1921.5 1655.61,1922.7 1656.96,1924.0 1658.26,1925.3 1659.51,1926.7 1660.69,1928.2 1661.82,1929.8 1662.89,1931.4 1663.89,1933.0 1664.85,1934.7 1665.74,1936.4 1666.60,1938.2 1667.40,1940.0 1668.17,1941.8 1668.90,1943.6 1669.60,1945.4 1670.27,1947.3 1670.91,1949.1 1671.54,1951.0 1672.14,1952.9 1672.73,1954.8 1673.30,1956.7 1673.86,1958.6 1674.42,1960.5 1674.96,1962.4 1675.50,1964.3 1676.03,1966.2 1676.56,1968.1 1677.08,1970.0 1677.61,1971.9 1678.13,1973.8 1678.64,1975.7 1679.16,1977.7 1679.67,1979.6 1680.17,1981.5 1680.68,1983.4 1681.18,1985.3 1681.67,1987.2 1682.17,1989.2 1682.65,1991.1 1683.14,1993.0 1683.62,1994.9 1684.09,1996.9 1684.57,1998.8 1685.03,2000.7 1685.50,2002.7 1685.97,2004.6 1686.43,2006.5 1686.90,2008.4 1687.37,2010.4 1687.83,2012.3 1688.30,2014.2 1688.78,2016.2 1689.26,2018.1 1689.74,2020.0 1690.23,2021.9 1690.73,2023.8 1691.23,2025.8 1691.73,2027.7 1692.24,2029.6 1692.76,2031.5 1693.29,2033.4 1693.84,2035.3 1694.41,2037.2 1695.01,2039.1 1695.64,2041.0 1696.32,2042.8 1697.05,2044.6 1697.83,2046.4 1698.65,2048.2 1699.52,2050.0 1700.41,2051.7" fill="none" stroke="#0000ff" stroke-width="7.1" stroke-linejoin="round"/>
<path transform="scale(1.13,1)" d="M121.24,2013.8 123.01,2013.6 124.76,2013.4 126.51,2013.0 128.23,2012.6 129.94,2012.1 131.61,2011.4 133.24,2010.6 134.81,2009.7 136.32,2008.7 137.78,2007.5 139.18,2006.3 140.53,2005.0 141.82,2003.7 143.07,2002.2 144.33,2000.8 145.54,1999.4 146.71,1997.9 147.84,1996.3 148.92,1994.7 149.97,1993.1 150.99,1991.5 151.97,1989.8 152.93,1988.2 153.87,1986.5 154.78,1984.7 155.68,1983.0 156.55,1981.3 157.41,1979.5 158.25,1977.8 159.08,1976.0 159.89,1974.2 160.69,1972.4 161.47,1970.6 162.24,1968.8 163.00,1967.0 163.75,1965.2 164.49,1963.4 165.21,1961.6 165.93,1959.7 166.64,1957.9 167.34,1956.1 168.03,1954.2 168.72,1952.4 169.39,1950.5 170.06,1948.7 170.72,1946.8 171.36,1945.0 172.00,1943.1 172.63,1941.2 173.25,1939.4 173.85,1937.5 174.45,1935.6 175.03,1933.7 175.60,1931.8 176.16,1929.9 176.71,1928.0 177.25,1926.1 177.78,1924.2 178.29,1922.3 178.80,1920.4 179.29,1918.4 179.78,1916.5 180.26,1914.6 180.73,1912.7 181.19,1910.7 181.64,1908.8 182.09,1906.9 182.54,1904.9 182.97,1903.0 183.41,1901.1 183.84,1899.1 184.26,1897.2 184.69,1895.2 185.11,1893.3 185.52,1891.3 185.94,1889.4 186.35,1887.5 186.75,1885.5 187.15,1883.6 187.55,1881.6 187.95,1879.7 188.34,1877.7 188.73,1875.8 189.12,1873.8 189.50,1871.9 189.89,1869.9 190.27,1867.9 190.65,1866.0 191.02,1864.0 191.40,1862.1 191.78,1860.1 192.15,1858.2 192.53,1856.2 192.90,1854.3 193.28,1852.3 193.66,1850.4 194.03,1848.4 194.41,1846.4 194.79,1844.5 195.17,1842.5 195.54,1840.6 195.92,1838.6 196.30,1836.7 196.67,1834.7 197.05,1832.8 197.42,1830.8 197.80,1828.9 198.18,1826.9 198.55,1824.9 198.93,1823.0 199.31,1821.0 199.69,1819.1 200.08,1817.1 200.46,1815.2 200.85,1813.2 201.24,1811.3 201.64,1809.3 202.03,1807.4 202.43,1805.4 202.84,1803.5 203.24,1801.5 203.65,1799.6 204.06,1797.6 204.47,1795.7 204.89,1793.7 205.31,1791.8 205.73,1789.9 206.15,1787.9 206.58,1786.0 207.02,1784.0 207.46,1782.1 207.91,1780.2 208.36,1778.2 208.83,1776.3 209.30,1774.4 209.79,1772.5 210.29,1770.5 210.80,1768.6 211.32,1766.7 211.87,1764.8 212.43,1762.9 213.01,1761.0 213.63,1759.1 214.25,1757.3 214.87,1755.4 215.53,1753.5 216.24,1751.7 217.00,1749.9 217.83,1748.1 218.78,1746.4 219.86,1744.9 221.13,1743.5 222.63,1742.4 224.31,1742.5 225.74,1743.6 226.93,1745.1 227.98,1746.7 228.92,1748.4 229.78,1750.2 230.58,1752.0 231.33,1753.8 232.03,1755.6 232.68,1757.5 233.32,1759.3 233.97,1761.2 234.58,1763.1 235.16,1765.0 235.71,1766.9 236.24,1768.8 236.76,1770.7 237.25,1772.6 237.74,1774.5 238.21,1776.5 238.67,1778.4 239.12,1780.3 239.56,1782.3 239.99,1784.2 240.41,1786.1 240.84,1788.1 241.25,1790.0 241.67,1792.0 242.09,1793.9 242.50,1795.9 242.92,1797.8 243.34,1799.7 243.76,1801.7 244.18,1803.6 244.60,1805.6 245.02,1807.5 245.45,1809.5 245.87,1811.4 246.30,1813.3 246.72,1815.3 247.15,1817.2 247.58,1819.2 248.00,1821.1 248.43,1823.1 248.86,1825.0 249.29,1826.9 249.72,1828.9 250.16,1830.8 250.59,1832.8 251.03,1834.7 251.47,1836.6 251.90,1838.6 252.35,1840.5 252.79,1842.4 253.23,1844.4 253.68,1846.3 254.13,1848.3 254.57,1850.2 255.02,1852.1 255.48,1854.1 255.93,1856.0 256.38,1857.9 256.84,1859.9 257.30,1861.8 257.76,1863.7 258.22,1865.7 258.68,1867.6 259.14,1869.5 259.60,1871.4 260.07,1873.4 260.53,1875.3 261.00,1877.2 261.47,1879.2 261.94,1881.1 262.40,1883.0 262.87,1885.0 263.34,1886.9 263.82,1888.8 264.29,1890.7 264.77,1892.7 265.25,1894.6 265.73,1896.5 266.22,1898.4 266.71,1900.4 267.21,1902.3 267.72,1904.2 268.23,1906.1 268.74,1908.0 269.27,1909.9 269.80,1911.8 270.33,1913.7 270.88,1915.7 271.43,1917.6 271.99,1919.4 272.56,1921.3 273.14,1923.2 273.73,1925.1 274.33,1927.0 274.95,1928.9 275.58,1930.7 276.24,1932.6 276.91,1934.5 277.60,1936.3 278.31,1938.1 279.05,1939.9 279.81,1941.8 280.59,1943.5 281.40,1945.3 282.24,1947.1 283.11,1948.8 284.02,1950.5 284.95,1952.2 285.92,1953.9 286.91,1955.6 287.90,1957.2 288.94,1958.9 290.01,1960.4 291.14,1962.0 292.34,1963.5 293.62,1964.8 295.01,1966.1 296.53,1967.1 298.18,1967.8 299.91,1968.1 301.54,1967.3 302.94,1966.1 304.17,1964.7 305.25,1963.1 306.23,1961.4 307.10,1959.7 307.90,1957.9 308.63,1956.1 309.30,1954.2 309.92,1952.4 310.56,1950.5 311.16,1948.6 311.73,1946.7 312.26,1944.8 312.76,1942.9 313.24,1941.0 313.71,1939.0 314.16,1937.1 314.59,1935.2 315.01,1933.2 315.43,1931.3 315.83,1929.3 316.23,1927.4 316.61,1925.4 316.99,1923.5 317.36,1921.5 317.73,1919.5 318.09,1917.6 318.45,1915.6 318.80,1913.7 319.16,1911.7 319.51,1909.8 319.86,1907.8 320.21,1905.8 320.55,1903.9 320.90,1901.9 321.25,1899.9 321.60,1898.0 321.94,1896.0 322.29,1894.1 322.63,1892.1 322.97,1890.1 323.32,1888.2 323.66,1886.2 324.00,1884.2 324.35,1882.3 324.69,1880.3 325.04,1878.4 325.39,1876.4 325.74,1874.4 326.09,1872.5 326.45,1870.5 326.81,1868.6 327.17,1866.6 327.53,1864.6 327.90,1862.7 328.27,1860.7 328.65,1858.8 329.03,1856.8 329.41,1854.9 329.79,1852.9 330.18,1851.0 330.58,1849.0 330.97,1847.1 331.38,1845.1 331.79,1843.2 332.20,1841.2 332.62,1839.3 333.05,1837.3 333.49,1835.4 333.93,1833.5 334.38,1831.5 334.83,1829.6 335.30,1827.7 335.77,1825.7 336.26,1823.8 336.75,1821.9 337.26,1820.0 337.77,1818.1 338.30,1816.2 338.85,1814.3 339.41,1812.4 339.98,1810.5 340.57,1808.6 341.18,1806.7 341.80,1804.8 342.45,1803.0 343.11,1801.1 343.80,1799.3 344.51,1797.4 345.24,1795.6 346.00,1793.8 346.78,1792.0 347.58,1790.2 348.41,1788.5 349.26,1786.7 350.14,1785.0 351.05,1783.2 351.98,1781.5 352.93,1779.9 353.89,1778.2 354.88,1776.5 355.87,1774.9 356.88,1773.2 357.88,1771.6 358.88,1769.9 359.87,1768.3 360.85,1766.6 361.81,1764.9 362.75,1763.2 363.66,1761.5 364.54,1759.8 365.38,1758.0 366.19,1756.2 366.96,1754.4 367.69,1752.6 368.39,1750.8 369.05,1748.9 369.69,1747.0 370.29,1745.2 370.87,1743.3 371.43,1741.4 371.97,1739.5 372.49,1737.6 373.00,1735.6 373.50,1733.7 373.98,1731.8 374.46,1729.9 374.93,1727.9 375.38,1726.0 375.84,1724.1 376.28,1722.1 376.72,1720.2 377.15,1718.3 377.58,1716.3 378.00,1714.4 378.42,1712.4 378.83,1710.5 379.24,1708.5 379.65,1706.6 380.05,1704.6 380.45,1702.7 380.85,1700.7 381.24,1698.8 381.63,1696.8 382.02,1694.9 382.40,1692.9 382.79,1691.0 383.17,1689.0 383.56,1687.1 383.96,1685.1 384.35,1683.2 384.76,1681.2 385.17,1679.3 385.59,1677.3 386.02,1675.4 386.47,1673.5 386.93,1671.5 387.42,1669.6 387.93,1667.7 388.44,1665.8 388.96,1663.9 389.51,1662.0 390.09,1660.1 390.72,1658.2 391.42,1656.4 392.22,1654.6 393.15,1652.9 394.28,1651.4 395.70,1650.2 397.25,1650.6 398.26,1652.3 398.97,1654.1 399.53,1656.0 400.00,1657.9 400.42,1659.9 400.81,1661.8 401.16,1663.8 401.49,1665.7 401.79,1667.7 402.10,1669.7 402.40,1671.7 402.68,1673.6 402.94,1675.6 403.19,1677.6 403.42,1679.6 403.64,1681.6 403.85,1683.5 404.06,1685.5 404.25,1687.5 404.44,1689.5 404.62,1691.5 404.80,1693.5 404.97,1695.5 405.14,1697.5 405.31,1699.5 405.47,1701.5 405.64,1703.4 405.80,1705.4 405.96,1707.4 406.12,1709.4 406.28,1711.4 406.44,1713.4 406.60,1715.4 406.75,1717.4 406.90,1719.4 407.05,1721.4 407.20,1723.4 407.35,1725.4 407.49,1727.4 407.64,1729.4 407.78,1731.3 407.92,1733.3 408.06,1735.3 408.19,1737.3 408.33,1739.3 408.46,1741.3 408.60,1743.3 408.73,1745.3 408.87,1747.3 409.00,1749.3 409.13,1751.3 409.27,1753.3 409.40,1755.3 409.53,1757.3 409.67,1759.3 409.80,1761.3 409.94,1763.3 410.08,1765.3 410.21,1767.3 410.35,1769.2 410.49,1771.2 410.63,1773.2 410.77,1775.2 410.91,1777.2 411.05,1779.2 411.19,1781.2 411.33,1783.2 411.47,1785.2 411.62,1787.2 411.76,1789.2 411.90,1791.2 412.04,1793.2 412.18,1795.2 412.32,1797.2 412.46,1799.2 412.60,1801.2 412.74,1803.1 412.89,1805.1 413.03,1807.1 413.17,1809.1 413.31,1811.1 413.45,1813.1 413.59,1815.1 413.73,1817.1 413.87,1819.1 414.01,1821.1 414.16,1823.1 414.30,1825.1 414.44,1827.1 414.58,1829.1 414.72,1831.1 414.85,1833.1 414.99,1835.1 415.13,1837.0 415.27,1839.0 415.40,1841.0 415.54,1843.0 415.67,1845.0 415.81,1847.0 415.94,1849.0 416.08,1851.0 416.21,1853.0 416.34,1855.0 416.48,1857.0 416.61,1859.0 416.74,1861.0 416.88,1863.0 417.01,1865.0 417.15,1867.0 417.29,1869.0 417.43,1871.0 417.57,1872.9 417.71,1874.9 417.86,1876.9 418.00,1878.9 418.15,1880.9 418.30,1882.9 418.45,1884.9 418.61,1886.9 418.76,1888.9 418.92,1890.9 419.08,1892.9 419.23,1894.9 419.39,1896.9 419.55,1898.9 419.71,1900.9 419.87,1902.8 420.03,1904.8 420.19,1906.8 420.36,1908.8 420.53,1910.8 420.70,1912.8 420.88,1914.8 421.07,1916.8 421.26,1918.8 421.45,1920.8 421.65,1922.7 421.87,1924.7 422.10,1926.7 422.34,1928.7 422.61,1930.7 422.90,1932.6 423.21,1934.6 423.56,1936.6 423.97,1938.5 424.45,1940.4 425.07,1942.3 426.10,1943.6 426.99,1941.9 427.50,1940.0 427.90,1938.1 428.23,1936.1 428.53,1934.1 428.80,1932.1 429.06,1930.2 429.31,1928.2 429.55,1926.2 429.79,1924.2 430.03,1922.2 430.26,1920.3 430.48,1918.3 430.70,1916.3 430.92,1914.3 431.14,1912.3 431.35,1910.3 431.55,1908.3 431.75,1906.4 431.94,1904.4 432.13,1902.4 432.31,1900.4 432.48,1898.4 432.66,1896.4 432.82,1894.4 432.99,1892.4 433.15,1890.4 433.31,1888.4 433.47,1886.4 433.62,1884.5 433.78,1882.5 433.93,1880.5 434.09,1878.5 434.24,1876.5 434.39,1874.5 434.54,1872.5 434.70,1870.5 434.85,1868.5 435.00,1866.5 435.15,1864.5 435.30,1862.5 435.45,1860.5 435.59,1858.5 435.74,1856.5 435.89,1854.6 436.03,1852.6 436.18,1850.6 436.32,1848.6 436.46,1846.6 436.60,1844.6 436.74,1842.6 436.88,1840.6 437.02,1838.6 437.15,1836.6 437.29,1834.6 437.43,1832.6 437.57,1830.6 437.70,1828.6 437.84,1826.6 437.98,1824.6 438.11,1822.6 438.25,1820.7 438.39,1818.7 438.52,1816.7 438.66,1814.7 438.80,1812.7 438.94,1810.7 439.08,1808.7 439.22,1806.7 439.36,1804.7 439.50,1802.7 439.64,1800.7 439.78,1798.7 439.92,1796.7 440.06,1794.7 440.20,1792.7 440.35,1790.7 440.49,1788.7 440.63,1786.7 440.77,1784.8 440.91,1782.8 441.05,1780.8 441.19,1778.8 441.33,1776.8 441.48,1774.8 441.62,1772.8 441.76,1770.8 441.90,1768.8 442.04,1766.8 442.18,1764.8 442.32,1762.8 442.46,1760.8 442.60,1758.8 442.75,1756.8 442.89,1754.8 443.03,1752.9 443.17,1750.9 443.31,1748.9 443.45,1746.9 443.60,1744.9 443.74,1742.9 443.88,1740.9 444.02,1738.9 444.16,1736.9 444.31,1734.9 444.45,1732.9 444.59,1730.9 444.74,1728.9 444.88,1726.9 445.02,1724.9 445.17,1722.9 445.31,1720.9 445.45,1719.0 445.60,1717.0 445.74,1715.0 445.88,1713.0 446.02,1711.0 446.17,1709.0 446.31,1707.0 446.45,1705.0 446.59,1703.0 446.73,1701.0 446.87,1699.0 447.01,1697.0 447.15,1695.0 447.28,1693.0 447.42,1691.0 447.55,1689.0 447.69,1687.0 447.82,1685.1 447.95,1683.1 448.07,1681.1 448.20,1679.1 448.32,1677.1 448.44,1675.1 448.56,1673.1 448.68,1671.1 448.79,1669.1 448.90,1667.1 449.01,1665.1 449.13,1663.1 449.24,1661.1 449.35,1659.1 449.46,1657.1 449.58,1655.1 449.70,1653.1 449.82,1651.1 449.94,1649.1 450.07,1647.1 450.20,1645.1 450.34,1643.1 450.48,1641.1 450.63,1639.2 450.79,1637.2 450.96,1635.2 451.13,1633.2 451.32,1631.2 451.52,1629.2 451.73,1627.2 451.96,1625.2 452.20,1623.2 452.47,1621.3 452.75,1619.3 453.03,1617.3 453.34,1615.4 453.68,1613.4 454.05,1611.4 454.48,1609.5 454.96,1607.6 455.53,1605.7 456.23,1603.8 457.18,1602.2 458.61,1602.0 459.60,1603.6 460.31,1605.5 460.90,1607.3 461.42,1609.3 461.88,1611.2 462.31,1613.1 462.70,1615.1 463.07,1617.0 463.41,1619.0 463.75,1621.0 464.09,1622.9 464.40,1624.9 464.70,1626.9 464.99,1628.8 465.27,1630.8 465.54,1632.8 465.81,1634.8 466.07,1636.8 466.34,1638.7 466.60,1640.7 466.86,1642.7 467.13,1644.7 467.39,1646.6 467.66,1648.6 467.93,1650.6 468.19,1652.6 468.46,1654.6 468.73,1656.5 468.99,1658.5 469.26,1660.5 469.53,1662.5 469.80,1664.4 470.07,1666.4 470.34,1668.4 470.61,1670.4 470.89,1672.3 471.16,1674.3 471.44,1676.3 471.72,1678.3 472.00,1680.2 472.28,1682.2 472.56,1684.2 472.85,1686.2 473.13,1688.1 473.42,1690.1 473.72,1692.1 474.01,1694.1 474.31,1696.0 474.62,1698.0 474.92,1700.0 475.24,1701.9 475.56,1703.9 475.88,1705.9 476.21,1707.8 476.55,1709.8 476.89,1711.8 477.24,1713.7 477.59,1715.7 477.94,1717.7 478.30,1719.6 478.65,1721.6 479.01,1723.5 479.37,1725.5 479.72,1727.5 480.07,1729.4 480.41,1731.4 480.74,1733.3 481.07,1735.3 481.39,1737.3 481.70,1739.2 482.00,1741.2 482.29,1743.2 482.57,1745.2 482.84,1747.1 483.10,1749.1 483.35,1751.1 483.60,1753.1 483.84,1755.1 484.07,1757.0 484.30,1759.0 484.52,1761.0 484.74,1763.0 484.95,1765.0 485.16,1767.0 485.38,1769.0 485.59,1770.9 485.80,1772.9 486.01,1774.9 486.22,1776.9 486.44,1778.9 486.65,1780.9 486.87,1782.9 487.10,1784.8 487.33,1786.8 487.57,1788.8 487.81,1790.8 488.05,1792.8 488.31,1794.8 488.57,1796.7 488.84,1798.7 489.12,1800.7 489.41,1802.7 489.70,1804.6 490.00,1806.6 490.31,1808.6 490.62,1810.5 490.95,1812.5 491.28,1814.5 491.62,1816.4 491.96,1818.4 492.31,1820.4 492.67,1822.3 493.03,1824.3 493.40,1826.2 493.77,1828.2 494.15,1830.1 494.54,1832.1 494.93,1834.0 495.33,1836.0 495.74,1837.9 496.15,1839.9 496.57,1841.8 497.00,1843.8 497.44,1845.7 497.88,1847.6 498.33,1849.6 498.80,1851.5 499.27,1853.4 499.75,1855.4 500.24,1857.3 500.74,1859.2 501.26,1861.1 501.78,1863.0 502.32,1864.9 502.87,1866.8 503.43,1868.7 504.01,1870.6 504.61,1872.5 505.22,1874.4 505.86,1876.2 506.52,1878.1 507.20,1879.9 507.92,1881.8 508.66,1883.6 509.45,1885.4 510.27,1887.2 511.14,1888.9 512.07,1890.6 513.05,1892.3 514.09,1893.9 515.12,1895.5 516.20,1897.1 517.37,1898.6 518.62,1900.0 519.97,1901.3 521.43,1902.4 522.99,1903.4 524.65,1904.1 526.37,1904.5 528.14,1904.7 529.88,1904.4 531.55,1903.7 533.13,1902.9 534.67,1901.9 536.16,1900.8 537.63,1899.7 539.08,1898.5 540.55,1897.4 542.04,1896.3 543.54,1895.3 545.02,1894.2 546.52,1893.1 548.04,1892.1 549.61,1891.2 551.23,1890.3 552.89,1889.7 554.60,1889.2 556.36,1888.9 558.12,1888.9 559.87,1889.2 561.55,1889.8 563.12,1890.7 564.59,1891.8 565.95,1893.1 567.21,1894.5 568.37,1896.0 569.45,1897.6 570.46,1899.3 571.41,1901.0 572.38,1902.6 573.29,1904.3 574.15,1906.1 574.96,1907.9 575.73,1909.7 576.46,1911.5 577.16,1913.3 577.83,1915.2 578.48,1917.0 579.11,1918.9 579.71,1920.8 580.30,1922.7 580.87,1924.6 581.42,1926.5 581.96,1928.4 582.49,1930.3 583.01,1932.2 583.51,1934.1 584.01,1936.0 584.50,1938.0 584.99,1939.9 585.46,1941.8 585.93,1943.7 586.40,1945.7 586.86,1947.6 587.31,1949.5 587.76,1951.5 588.21,1953.4 588.65,1955.3 589.09,1957.3 589.52,1959.2 589.95,1961.2 590.38,1963.1 590.79,1965.0 591.21,1967.0 591.62,1968.9 592.03,1970.9 592.43,1972.8 592.83,1974.8 593.23,1976.7 593.62,1978.7 594.00,1980.6 594.39,1982.6 594.77,1984.5 595.15,1986.5 595.52,1988.4 595.89,1990.4 596.26,1992.4 596.63,1994.3 597.00,1996.3 597.36,1998.2 597.73,2000.2 598.09,2002.1 598.46,2004.1 598.83,2006.1 599.19,2008.0 599.56,2010.0 599.92,2011.9 600.29,2013.9 600.66,2015.8 601.03,2017.8 601.39,2019.8 601.76,2021.7 602.13,2023.7 602.50,2025.6 602.87,2027.6 603.24,2029.5 603.61,2031.5 603.98,2033.5 604.35,2035.4 604.73,2037.4 605.10,2039.3 605.48,2041.3 605.85,2043.2 606.23,2045.2 606.61,2047.1 606.98,2049.1 607.36,2051.0 607.74,2053.0 608.12,2055.0 608.51,2056.9 608.90,2058.9 609.29,2060.8 609.68,2062.8 610.08,2064.7 610.49,2066.7 610.90,2068.6 611.32,2070.5 611.75,2072.5 612.18,2074.4 612.62,2076.4 613.08,2078.3 613.53,2080.2 613.98,2082.2 614.45,2084.1 614.92,2086.0 615.41,2087.9 615.92,2089.9 616.46,2091.8 617.03,2093.7 617.66,2095.5 618.37,2097.4 619.16,2099.1 620.08,2100.9 621.18,2102.4 622.55,2103.7 624.04,2102.9 625.00,2101.2 625.77,2099.4 626.46,2097.5 627.14,2095.7 627.82,2093.8 628.49,2092.0 629.15,2090.1 629.80,2088.3 630.47,2086.4 631.18,2084.6 631.97,2082.8 632.85,2081.1 633.84,2079.4 634.84,2077.8 635.93,2076.2 637.13,2074.7 638.45,2073.4 639.87,2072.2 641.39,2071.2 643.00,2070.3 644.67,2069.7 646.37,2069.1 648.11,2068.7 649.85,2068.4 651.60,2068.1 653.35,2067.8 655.10,2067.4 656.82,2067.0 658.52,2066.4 660.17,2065.7 661.75,2064.8 663.25,2063.7 664.64,2062.5 665.94,2061.2 667.13,2059.7 668.24,2058.1 669.26,2056.5 670.21,2054.8 671.10,2053.1 671.94,2051.3 672.74,2049.5 673.50,2047.7 674.24,2045.9 674.94,2044.1 675.63,2042.2 676.30,2040.4 676.96,2038.5 677.60,2036.6 678.23,2034.8 678.85,2032.9 679.46,2031.0 680.06,2029.1 680.66,2027.3 681.25,2025.4 681.83,2023.5 682.41,2021.6 682.98,2019.7 683.55,2017.8 684.12,2015.9 684.68,2014.0 685.24,2012.1 685.80,2010.2 686.36,2008.3 686.91,2006.4 687.47,2004.5 688.03,2002.6 688.59,2000.7 689.14,1998.8 689.70,1996.9 690.26,1995.0 690.82,1993.1 691.38,1991.2 691.94,1989.3 692.49,1987.4 693.05,1985.5 693.61,1983.6 694.17,1981.7 694.73,1979.8 695.28,1977.9 695.84,1976.0 696.40,1974.1 696.95,1972.2 697.51,1970.3 698.07,1968.5 698.64,1966.6 699.20,1964.7 699.77,1962.8 700.35,1960.9 700.92,1959.0 701.51,1957.1 702.10,1955.2 702.69,1953.3 703.30,1951.4 703.91,1949.6 704.53,1947.7 705.16,1945.8 705.81,1944.0 706.47,1942.1 707.14,1940.3 707.83,1938.4 708.54,1936.6 709.27,1934.8 710.03,1932.9 710.81,1931.2 711.61,1929.4 712.45,1927.6 713.32,1925.9 714.22,1924.1 715.16,1922.4 716.14,1920.8 717.17,1919.2 718.24,1917.6 719.36,1916.0 720.54,1914.5 721.76,1913.1 723.04,1911.7 724.36,1910.4 725.74,1909.1 727.17,1907.9 728.64,1906.8 730.15,1905.8 731.70,1904.8 733.28,1903.9 734.89,1903.1 736.53,1902.3 738.19,1901.6 739.87,1901.0 741.57,1900.4 743.28,1899.9 745.01,1899.5 746.74,1899.1 748.49,1898.8 750.24,1898.5 752.00,1898.2 753.76,1898.1 755.53,1897.9 757.29,1897.8 759.06,1897.7 760.83,1897.6 762.60,1897.5 764.37,1897.5 766.14,1897.4 767.91,1897.4 769.68,1897.4 771.45,1897.3 773.22,1897.3 774.99,1897.2 776.76,1897.1 778.53,1897.1 780.30,1897.1 782.06,1897.2 783.83,1897.4 785.59,1897.6 787.34,1897.9 789.08,1898.2 790.80,1898.7 792.49,1899.3 794.14,1900.0 795.75,1900.9 797.32,1901.8 798.87,1902.7 800.36,1903.8 801.78,1905.0 803.12,1906.3 804.36,1907.8 805.51,1909.3 806.56,1910.9 807.52,1912.6 808.39,1914.3 809.18,1916.1 809.89,1917.9 810.56,1919.8 811.17,1921.7 811.75,1923.5 812.30,1925.4 812.84,1927.4 813.36,1929.3 813.88,1931.2 814.39,1933.1 814.90,1935.0 815.42,1936.9 815.93,1938.8 816.44,1940.8 816.95,1942.7 817.46,1944.6 817.96,1946.5 818.45,1948.4 818.94,1950.3 819.43,1952.3 819.90,1954.2 820.36,1956.1 820.82,1958.1 821.27,1960.0 821.71,1961.9 822.14,1963.9 822.56,1965.8 822.98,1967.8 823.39,1969.7 823.79,1971.7 824.19,1973.6 824.58,1975.6 824.97,1977.5 825.36,1979.5 825.75,1981.4 826.13,1983.4 826.51,1985.3 826.89,1987.3 827.27,1989.2 827.64,1991.2 828.02,1993.1 828.39,1995.1 828.76,1997.1 829.13,1999.0 829.50,2001.0 829.87,2002.9 830.23,2004.9 830.60,2006.8 830.97,2008.8 831.34,2010.7 831.71,2012.7 832.08,2014.7 832.45,2016.6 832.83,2018.6 833.21,2020.5 833.59,2022.5 833.98,2024.4 834.36,2026.4 834.75,2028.3 835.15,2030.3 835.54,2032.2 835.95,2034.2 836.35,2036.1 836.77,2038.1 837.19,2040.0 837.62,2042.0 838.07,2043.9 838.53,2045.8 839.00,2047.7 839.50,2049.7 840.01,2051.6 840.55,2053.5 841.11,2055.4 841.70,2057.3 842.31,2059.2 842.96,2061.0 843.64,2062.9 844.35,2064.7 845.11,2066.5 845.90,2068.3 846.74,2070.0 847.63,2071.8 848.58,2073.5 849.58,2075.1 850.64,2076.7 851.77,2078.3 852.96,2079.7 854.21,2081.2 855.52,2082.5 856.88,2083.8 858.29,2085.0 859.74,2086.1 861.22,2087.2 862.74,2088.3 864.28,2089.3 865.84,2090.2 867.41,2091.1 869.00,2092.0 870.61,2092.8 872.22,2093.7 873.85,2094.4 875.48,2095.2 877.13,2096.0 878.77,2096.7 880.43,2097.4 882.08,2098.1 883.74,2098.8 885.40,2099.5 887.07,2100.2 888.74,2100.9 890.42,2101.5 892.10,2102.1 893.81,2102.6 895.53,2103.1 897.27,2103.4 899.04,2103.4 900.77,2103.1 902.42,2102.3 903.92,2101.3 905.25,2100.0 906.41,2098.4 907.42,2096.8 908.32,2095.1 909.12,2093.3 909.84,2091.5 910.53,2089.6 911.22,2087.8 911.86,2085.9 912.45,2084.0 912.99,2082.1 913.51,2080.2 914.00,2078.3 914.48,2076.4 914.94,2074.4 915.39,2072.5 915.82,2070.6 916.26,2068.6 916.69,2066.7 917.11,2064.7 917.53,2062.8 917.95,2060.9 918.37,2058.9 918.79,2057.0 919.21,2055.0 919.64,2053.1 920.07,2051.1 920.51,2049.2 920.96,2047.3 921.42,2045.3 921.90,2043.4 922.39,2041.5 922.90,2039.6 923.42,2037.7 923.97,2035.8 924.54,2033.9 925.13,2032.0 925.75,2030.1 926.39,2028.2 927.07,2026.4 927.77,2024.6 928.49,2022.7 929.25,2020.9 930.04,2019.1 930.85,2017.4 931.69,2015.6 932.55,2013.9 933.43,2012.1 934.32,2010.4 935.22,2008.7 936.12,2006.9 937.03,2005.2 937.92,2003.5 938.81,2001.8 939.69,2000.0 940.54,1998.3 941.38,1996.5 942.20,1994.7 942.99,1993.0 943.77,1991.2 944.52,1989.3 945.27,1987.5 946.01,1985.7 946.72,1983.9 947.42,1982.0 948.12,1980.2 948.81,1978.4 949.51,1976.5 950.23,1974.7 950.96,1972.9 951.73,1971.1 952.59,1969.3 953.60,1967.7 954.85,1966.3 956.34,1965.2 957.86,1965.7 958.73,1967.5 959.36,1969.3 959.87,1971.2 960.32,1973.2 960.75,1975.1 961.15,1977.1 961.54,1979.0 961.90,1981.0 962.24,1982.9 962.56,1984.9 962.87,1986.9 963.16,1988.8 963.45,1990.8 963.73,1992.8 964.01,1994.8 964.29,1996.7 964.55,1998.7 964.82,2000.7 965.08,2002.7 965.34,2004.7 965.59,2006.6 965.85,2008.6 966.10,2010.6 966.36,2012.6 966.61,2014.6 966.87,2016.5 967.12,2018.5 967.38,2020.5 967.64,2022.5 967.90,2024.5 968.17,2026.4 968.45,2028.4 968.73,2030.4 969.03,2032.4 969.34,2034.3 969.67,2036.3 970.02,2038.2 970.39,2040.2 970.78,2042.2 971.20,2044.1 971.65,2046.0 972.15,2048.0 972.69,2049.9 973.29,2051.7 973.89,2053.6 974.52,2055.5 975.21,2057.3 975.98,2059.1 976.85,2060.9 977.84,2062.5 978.99,2064.1 980.32,2065.4 981.85,2066.4 983.55,2066.9 985.29,2066.8 986.89,2065.9 988.35,2064.8 989.73,2063.5 991.03,2062.2 992.26,2060.8 993.45,2059.3 994.58,2057.7 995.68,2056.2 996.74,2054.6 997.77,2052.9 998.81,2051.3 999.82,2049.7 1000.80,2048.0 1001.75,2046.3 1002.69,2044.6 1003.60,2042.9 1004.51,2041.2 1005.40,2039.5 1006.28,2037.7 1007.15,2036.0 1008.03,2034.2 1008.90,2032.5 1009.77,2030.8 1010.64,2029.0 1011.51,2027.3 1012.38,2025.5 1013.26,2023.8 1014.13,2022.1 1015.01,2020.3 1015.88,2018.6 1016.75,2016.8 1017.63,2015.1 1018.50,2013.4 1019.38,2011.6 1020.26,2009.9 1021.14,2008.1 1022.02,2006.4 1022.91,2004.7 1023.81,2003.0 1024.71,2001.2 1025.62,1999.5 1026.54,1997.8 1027.47,1996.1 1028.41,1994.4 1029.37,1992.7 1030.33,1991.1 1031.30,1989.4 1032.29,1987.7 1033.28,1986.1 1034.30,1984.4 1035.33,1982.8 1036.38,1981.2 1037.47,1979.6 1038.59,1978.1 1039.68,1976.5 1040.82,1975.0 1042.00,1973.5 1043.24,1972.0 1044.57,1970.7 1045.99,1969.5 1047.51,1968.5 1049.11,1967.7 1050.79,1967.0 1052.52,1966.6 1054.28,1966.7 1056.00,1967.2 1057.65,1967.9 1059.20,1968.9 1060.62,1970.0 1061.90,1971.4 1063.05,1972.9 1064.10,1974.6 1065.08,1976.2 1066.01,1977.9 1066.92,1979.6 1067.84,1981.4 1068.72,1983.1 1069.56,1984.8 1070.38,1986.6 1071.19,1988.4 1071.98,1990.2 1072.77,1992.0 1073.55,1993.8 1074.32,1995.6 1075.09,1997.4 1075.84,1999.2 1076.59,2001.0 1077.32,2002.8 1078.07,2004.6 1078.85,2006.4 1079.73,2008.2 1080.77,2009.8 1082.03,2011.2 1083.51,2012.3 1084.99,2011.7 1085.76,2009.9 1086.26,2008.0 1086.65,2006.1 1087.00,2004.1 1087.32,2002.1 1087.65,2000.2 1087.99,1998.2 1088.34,1996.3 1088.69,1994.3 1089.05,1992.3 1089.40,1990.4 1089.75,1988.4 1090.10,1986.4 1090.44,1984.5 1090.78,1982.5 1091.12,1980.6 1091.46,1978.6 1091.79,1976.6 1092.12,1974.7 1092.44,1972.7 1092.76,1970.7 1093.08,1968.8 1093.40,1966.8 1093.71,1964.8 1094.02,1962.9 1094.33,1960.9 1094.64,1958.9 1094.96,1956.9 1095.27,1955.0 1095.59,1953.0 1095.92,1951.0 1096.26,1949.1 1096.61,1947.1 1096.97,1945.2 1097.35,1943.2 1097.74,1941.3 1098.17,1939.3 1098.63,1937.4 1099.13,1935.5 1099.68,1933.6 1100.21,1931.7 1100.78,1929.8 1101.43,1927.9 1102.16,1926.1 1103.01,1924.3 1104.00,1922.7 1105.18,1921.2 1106.58,1920.0 1108.20,1919.2 1109.94,1918.8 1111.70,1919.0 1113.37,1919.7 1114.90,1920.7 1116.29,1921.9 1117.58,1923.3 1118.79,1924.8 1119.96,1926.3 1121.09,1927.8 1122.20,1929.4 1123.28,1930.9 1124.38,1932.5 1125.47,1934.1 1126.55,1935.7 1127.63,1937.3 1128.70,1938.8 1129.79,1940.4 1130.88,1942.0 1131.96,1943.6 1133.05,1945.2 1134.15,1946.7 1135.28,1948.3 1136.44,1949.8 1137.65,1951.2 1138.93,1952.6 1140.31,1953.9 1141.83,1954.9 1143.51,1955.5 1145.19,1955.0 1146.68,1953.9 1147.98,1952.6 1149.13,1951.1 1150.16,1949.4 1151.08,1947.7 1151.93,1946.0 1152.71,1944.2 1153.44,1942.3 1154.13,1940.5 1154.82,1938.7 1155.49,1936.8 1156.12,1934.9 1156.73,1933.1 1157.31,1931.2 1157.87,1929.3 1158.42,1927.4 1158.95,1925.5 1159.48,1923.6 1159.99,1921.6 1160.51,1919.7 1161.02,1917.8 1161.53,1915.9 1162.04,1914.0 1162.56,1912.1 1163.09,1910.2 1163.62,1908.3 1164.17,1906.4 1164.73,1904.5 1165.30,1902.6 1165.89,1900.7 1166.50,1898.8 1167.14,1896.9 1167.80,1895.1 1168.49,1893.2 1169.21,1891.4 1169.98,1889.6 1170.79,1887.8 1171.66,1886.1 1172.53,1884.3 1173.43,1882.6 1174.39,1880.9 1175.42,1879.3 1176.54,1877.8 1177.75,1876.3 1179.06,1875.0 1180.48,1873.8 1182.01,1872.8 1183.66,1872.0 1185.40,1872.0 1187.03,1872.7 1188.51,1873.8 1189.85,1875.1 1191.07,1876.6 1192.18,1878.1 1193.19,1879.8 1194.11,1881.5 1194.97,1883.2 1195.78,1885.0 1196.53,1886.8 1197.32,1888.6 1198.05,1890.4 1198.75,1892.3 1199.41,1894.1 1200.05,1896.0 1200.67,1897.8 1201.26,1899.7 1201.85,1901.6 1202.42,1903.5 1202.99,1905.4 1203.55,1907.3 1204.11,1909.2 1204.68,1911.1 1205.24,1913.0 1205.81,1914.9 1206.39,1916.8 1206.98,1918.7 1207.57,1920.6 1208.18,1922.4 1208.79,1924.3 1209.42,1926.2 1210.06,1928.0 1210.72,1929.9 1211.39,1931.8 1212.07,1933.6 1212.78,1935.4 1213.50,1937.3 1214.25,1939.1 1215.02,1940.9 1215.81,1942.7 1216.64,1944.4 1217.50,1946.2 1218.40,1947.9 1219.34,1949.6 1220.30,1951.3 1221.27,1952.9 1222.29,1954.6 1223.37,1956.2 1224.53,1957.7 1225.78,1959.1 1227.13,1960.4 1228.61,1961.5 1230.19,1962.4 1231.87,1963.0 1233.62,1963.2 1235.28,1962.5 1236.79,1961.5 1238.18,1960.2 1239.47,1958.9 1240.67,1957.4 1241.80,1955.8 1242.88,1954.3 1243.92,1952.6 1244.94,1951.0 1245.97,1949.4 1247.01,1947.8 1248.05,1946.1 1249.10,1944.5 1250.16,1942.9 1251.25,1941.4 1252.37,1939.8 1253.50,1938.3 1254.64,1936.7 1255.83,1935.3 1257.09,1933.8 1258.41,1932.5 1259.81,1931.3 1261.30,1930.2 1262.87,1929.3 1264.52,1928.6 1266.23,1928.0 1267.98,1927.8 1269.72,1928.2 1271.41,1928.8 1273.03,1929.6 1274.58,1930.6 1276.04,1931.7 1277.42,1933.0 1278.72,1934.3 1279.96,1935.7 1281.14,1937.2 1282.29,1938.7 1283.44,1940.3 1284.57,1941.8 1285.66,1943.4 1286.72,1945.0 1287.75,1946.6 1288.77,1948.2 1289.77,1949.9 1290.76,1951.6 1291.74,1953.2 1292.72,1954.9 1293.69,1956.6 1294.66,1958.2 1295.63,1959.9 1296.61,1961.6 1297.60,1963.2 1298.60,1964.9 1299.62,1966.5 1300.66,1968.1 1301.73,1969.7 1302.83,1971.3 1303.96,1972.8 1305.13,1974.3 1306.34,1975.8 1307.60,1977.2 1308.91,1978.6 1310.26,1979.8 1311.67,1981.0 1313.10,1982.2 1314.55,1983.4 1316.04,1984.4 1317.60,1985.4 1319.20,1986.3 1320.85,1987.0 1322.55,1987.5 1324.27,1988.0 1326.02,1988.3 1327.78,1988.5 1329.55,1988.6 1331.31,1988.3 1333.04,1987.9 1334.75,1987.4 1336.46,1986.9 1338.17,1986.3 1339.88,1985.9 1341.60,1985.4 1343.31,1984.9 1345.04,1984.4 1346.78,1984.1 1348.54,1983.9 1350.31,1983.8 1352.08,1983.9 1353.81,1984.3 1355.44,1985.1 1356.97,1986.1 1358.39,1987.3 1359.74,1988.6 1361.02,1989.9 1362.24,1991.4 1363.43,1992.9 1364.59,1994.4 1365.76,1995.9 1366.92,1997.4 1368.06,1998.9 1369.18,2000.5 1370.31,2002.0 1371.44,2003.6 1372.59,2005.1 1373.75,2006.6 1374.94,2008.1 1376.16,2009.5 1377.42,2010.9 1378.72,2012.3 1380.06,2013.6 1381.45,2014.8 1382.83,2016.1 1384.25,2017.3 1385.73,2018.4 1387.26,2019.4 1388.85,2020.3 1390.50,2021.0 1392.20,2021.5 1393.94,2021.9 1395.70,2022.1 1397.46,2022.2 1399.20,2021.9 1400.84,2021.2 1402.40,2020.2 1403.89,2019.1 1405.33,2018.0 1406.76,2016.8 1408.21,2015.6 1409.66,2014.5 1411.09,2013.3 1412.55,2012.2 1414.05,2011.1 1415.64,2010.2 1417.33,2009.7 1418.97,2010.2 1420.24,2011.5 1421.24,2013.2 1422.08,2015.0 1422.80,2016.8 1423.43,2018.6 1424.00,2020.5 1424.52,2022.5 1425.00,2024.4 1425.46,2026.3 1425.91,2028.2 1426.36,2030.2 1426.78,2032.1 1427.18,2034.1 1427.56,2036.0 1427.93,2038.0 1428.29,2039.9 1428.65,2041.9 1429.00,2043.9 1429.35,2045.8 1429.70,2047.8 1430.05,2049.7 1430.41,2051.7 1430.78,2053.7 1431.15,2055.6 1431.52,2057.6 1431.90,2059.5 1432.29,2061.5 1432.70,2063.4 1433.13,2065.4 1433.58,2067.3 1434.06,2069.2 1434.61,2071.1 1435.24,2073.0 1435.98,2074.8 1436.89,2076.5 1438.00,2078.1 1439.30,2079.4 1440.85,2079.7 1441.78,2078.0 1442.37,2076.1 1442.84,2074.1 1443.26,2072.2 1443.65,2070.3 1444.04,2068.3 1444.43,2066.4 1444.82,2064.4 1445.20,2062.4 1445.57,2060.5 1445.93,2058.5 1446.28,2056.6 1446.62,2054.6 1446.97,2052.6 1447.31,2050.7 1447.65,2048.7 1447.99,2046.8 1448.32,2044.8 1448.66,2042.8 1448.99,2040.9 1449.33,2038.9 1449.67,2036.9 1450.00,2035.0 1450.35,2033.0 1450.69,2031.0 1451.03,2029.1 1451.38,2027.1 1451.73,2025.2 1452.08,2023.2 1452.43,2021.2 1452.79,2019.3 1453.15,2017.3 1453.51,2015.4 1453.87,2013.4 1454.24,2011.4 1454.62,2009.5 1454.99,2007.5 1455.37,2005.6 1455.76,2003.6 1456.14,2001.7 1456.53,1999.7 1456.93,1997.8 1457.33,1995.8 1457.74,1993.9 1458.15,1991.9 1458.57,1990.0 1459.00,1988.1 1459.43,1986.1 1459.87,1984.2 1460.32,1982.2 1460.77,1980.3 1461.23,1978.4 1461.70,1976.4 1462.18,1974.5 1462.67,1972.6 1463.18,1970.7 1463.69,1968.8 1464.21,1966.9 1464.75,1964.9 1465.30,1963.0 1465.86,1961.2 1466.44,1959.3 1467.04,1957.4 1467.65,1955.5 1468.29,1953.6 1468.95,1951.8 1469.63,1949.9 1470.35,1948.1 1471.10,1946.3 1471.89,1944.5 1472.72,1942.7 1473.61,1941.0 1474.55,1939.3 1475.55,1937.7 1476.62,1936.1 1477.77,1934.5 1478.99,1933.1 1480.29,1931.7 1481.67,1930.5 1483.11,1929.3 1484.60,1928.3 1486.15,1927.3 1487.73,1926.4 1489.35,1925.6 1490.98,1924.8 1492.63,1924.1 1494.28,1923.3 1495.94,1922.6 1497.60,1921.9 1499.26,1921.2 1500.92,1920.5 1502.57,1919.8 1504.22,1919.1 1505.87,1918.4 1507.52,1917.7 1509.18,1917.0 1510.86,1916.3 1512.57,1915.8 1514.29,1915.3 1516.03,1915.0 1517.79,1914.7 1519.55,1914.8 1521.16,1915.6 1522.59,1916.8 1523.87,1918.1 1525.05,1919.6 1526.14,1921.2 1527.17,1922.8 1528.15,1924.5 1529.08,1926.2 1529.98,1927.9 1530.85,1929.7 1531.73,1931.4 1532.60,1933.2 1533.44,1934.9 1534.28,1936.7 1535.11,1938.4 1535.94,1940.2 1536.79,1942.0 1537.65,1943.7 1538.55,1945.4 1539.44,1947.2 1540.35,1948.9 1541.29,1950.6 1542.28,1952.2 1543.34,1953.8 1544.48,1955.4 1545.73,1956.8 1547.11,1958.0 1548.64,1959.0 1550.31,1959.7 1552.04,1959.7 1553.59,1958.7 1554.95,1957.4 1556.14,1956.0 1557.22,1954.4 1558.23,1952.7 1559.23,1951.1 1560.27,1949.5 1561.31,1947.8 1562.32,1946.2 1563.37,1944.6 1564.52,1943.1 1565.83,1941.7 1567.33,1940.7 1569.01,1940.1 1570.62,1940.8 1571.97,1942.1 1573.13,1943.6 1574.17,1945.2 1575.12,1946.9 1576.00,1948.6 1576.85,1950.4 1577.70,1952.2 1578.55,1953.9 1579.43,1955.6 1580.34,1957.4 1581.26,1959.1 1582.21,1960.8 1583.21,1962.4 1584.25,1964.0 1585.36,1965.6 1586.50,1967.1 1587.64,1968.6 1588.86,1970.1 1590.15,1971.5 1591.51,1972.7 1592.96,1973.9 1594.47,1974.9 1596.05,1975.8 1597.69,1976.6 1599.38,1977.2 1601.13,1977.5 1602.82,1976.9 1604.35,1976.0 1605.77,1974.7 1607.08,1973.4 1608.30,1972.0 1609.46,1970.4 1610.57,1968.9 1611.62,1967.3 1612.65,1965.6 1613.64,1964.0 1614.64,1962.3 1615.64,1960.7 1616.62,1959.0 1617.59,1957.3 1618.55,1955.7 1619.53,1954.0 1620.51,1952.3 1621.51,1950.7 1622.53,1949.1 1623.58,1947.4 1624.66,1945.9 1625.77,1944.3 1626.92,1942.8 1628.10,1941.3 1629.33,1939.8 1630.60,1938.4 1631.90,1937.1 1633.25,1935.8 1634.63,1934.6 1636.06,1933.4 1637.52,1932.2 1639.01,1931.2 1640.51,1930.1 1642.03,1929.1 1643.59,1928.1 1645.18,1927.2 1646.81,1926.5 1648.48,1925.8 1650.19,1925.3 1651.92,1924.9 1653.67,1924.6 1655.44,1924.4 1657.21,1924.4 1658.96,1924.7 1660.68,1925.1 1662.32,1925.9 1663.84,1926.9 1665.24,1928.1 1666.51,1929.5 1667.68,1931.0 1668.76,1932.6 1669.77,1934.3 1670.71,1936.0 1671.67,1937.6 1672.58,1939.3 1673.43,1941.1 1674.23,1942.9 1674.99,1944.7 1675.71,1946.5 1676.40,1948.4 1677.06,1950.2 1677.70,1952.1 1678.32,1954.0 1678.92,1955.8 1679.50,1957.7 1680.07,1959.6 1680.63,1961.5 1681.18,1963.4 1681.73,1965.3 1682.26,1967.2 1682.79,1969.1 1683.32,1971.0 1683.85,1973.0 1684.37,1974.9 1684.89,1976.8 1685.40,1978.7 1685.92,1980.6 1686.43,1982.5 1686.93,1984.4 1687.44,1986.4 1687.94,1988.3 1688.43,1990.2 1688.93,1992.1 1689.42,1994.0 1689.91,1996.0 1690.39,1997.9 1690.87,1999.8 1691.35,2001.7 1691.82,2003.7 1692.30,2005.6 1692.76,2007.5 1693.23,2009.5 1693.70,2011.4 1694.16,2013.3 1694.62,2015.2 1695.08,2017.2 1695.54,2019.1 1695.99,2021.0 1696.45,2023.0 1696.90,2024.9 1697.35,2026.8 1697.79,2028.8 1698.24,2030.7 1698.68,2032.7 1699.12,2034.6 1699.56,2036.5 1699.99,2038.5 1700.42,2040.4" fill="none" stroke="#ff0000" stroke-width="7.9" stroke-linejoin="round"/>
<path d="M137.4,1963.3 136.6,1957.7 139.8,1957.2 140.8,1962.9 144.2,1962.2 142.8,1956.5 145.8,1955.7 147.6,1961.3 150.9,1960.1 148.6,1954.6 151.4,1953.3 154.2,1958.6 157.3,1956.9 154.0,1951.7 156.5,1949.9 160.2,1954.9 162.9,1952.7 158.9,1948.0 161.3,1945.8 165.5,1950.5 168.0,1948.1 163.5,1943.7 165.7,1941.4 170.4,1945.6 172.7,1943.0 167.7,1939.0 169.6,1936.5 174.8,1940.3 176.7,1937.5 171.4,1933.9 173.1,1931.2 178.6,1934.6 180.4,1931.7 174.8,1928.4 176.4,1925.6 182.0,1928.7 183.6,1925.8 177.9,1922.8 179.3,1919.9 185.1,1922.8 186.6,1919.7 180.7,1917.0 182.1,1914.0 188.0,1916.7 189.3,1913.6 183.4,1911.0 184.6,1908.0 190.7,1910.5 191.9,1907.5 185.9,1905.0 187.1,1902.0 193.2,1904.4 194.4,1901.2 188.2,1898.9 189.4,1895.9 195.5,1898.1 196.7,1895.0 190.5,1892.8 191.6,1889.7 197.8,1891.9 198.9,1888.7 192.7,1886.6 193.7,1883.5 199.9,1885.6 201.0,1882.4 194.8,1880.4 195.8,1877.3 202.0,1879.3 203.0,1876.1 196.8,1874.1 197.8,1871.0 204.0,1873.0 205.0,1869.8 198.8,1867.9 199.8,1864.7 206.0,1866.7 207.0,1863.5 200.7,1861.6 201.7,1858.4 208.0,1860.3 208.9,1857.2 202.7,1855.3 203.6,1852.1 209.9,1854.0 210.8,1850.8 204.5,1849.0 205.4,1845.8 211.7,1847.6 212.6,1844.4 206.3,1842.7 207.2,1839.5 213.5,1841.2 214.4,1838.0 208.0,1836.3 208.9,1833.1 215.2,1834.8 216.1,1831.6 209.7,1830.0 210.5,1826.8 216.9,1828.4 217.7,1825.2 211.3,1823.6 212.1,1820.4 218.5,1822.0 219.3,1818.7 212.9,1817.2 213.6,1814.0 220.0,1815.5 220.8,1812.3 214.4,1810.8 215.1,1807.6 221.5,1809.1 222.3,1805.9 215.9,1804.4 216.6,1801.2 223.0,1802.6 223.7,1799.4 217.3,1798.0 218.1,1794.7 224.5,1796.2 225.2,1793.0 218.8,1791.5 219.5,1788.3 225.9,1789.8 226.6,1786.5 220.2,1785.1 220.9,1781.9 227.4,1783.3 228.1,1780.1 221.7,1778.7 222.4,1775.4 228.8,1776.9 229.5,1773.6 223.1,1772.2 223.8,1769.0 230.2,1770.4 230.9,1767.2 224.5,1765.8 225.2,1762.5 231.6,1764.0 232.4,1760.7 225.9,1759.3 226.7,1756.1 233.1,1757.5 233.8,1754.3 227.4,1752.9 228.1,1749.6 234.5,1751.1 235.2,1747.9 228.8,1746.4 229.5,1743.2 236.0,1744.7 236.7,1741.4 230.3,1740.0 231.0,1736.8 237.4,1738.2 238.2,1735.0 231.7,1733.5 232.5,1730.3 238.9,1731.8 239.6,1728.6 233.2,1727.1 234.0,1723.9 240.4,1725.4 241.1,1722.2 234.7,1720.7 235.5,1717.4 241.9,1719.0 242.7,1715.8 236.3,1714.2 237.0,1711.0 243.4,1712.6 244.2,1709.4 237.8,1707.8 238.6,1704.6 245.0,1706.2 245.8,1703.0 239.4,1701.4 240.2,1698.2 246.6,1699.8 247.4,1696.6 241.0,1695.0 241.9,1691.7 248.2,1693.4 249.1,1690.2 242.7,1688.5 243.6,1685.3 249.9,1687.1 250.8,1684.0 244.5,1682.1 245.5,1678.9 251.8,1680.8 252.7,1677.8 246.5,1675.7 247.6,1672.5 253.8,1674.7 254.9,1671.7 248.8,1669.4 250.0,1666.2 256.1,1668.6 257.3,1665.7 251.4,1663.1 252.9,1659.9 258.6,1662.9 260.1,1660.3 254.7,1656.8 257.1,1653.8 261.7,1658.1 263.0,1656.6 260.9,1651.1 266.9,1652.3 262.8,1657.0 264.2,1659.0 269.6,1655.5 271.4,1658.6 265.6,1661.6 267.0,1664.4 272.9,1661.7 274.3,1664.9 268.2,1667.3 269.3,1670.3 275.5,1668.1 276.6,1671.2 270.4,1673.4 271.4,1676.4 277.7,1674.4 278.7,1677.6 272.4,1679.5 273.3,1682.6 279.6,1680.8 280.5,1684.1 274.2,1685.8 275.0,1688.9 281.4,1687.3 282.2,1690.5 275.8,1692.1 276.5,1695.3 282.9,1693.8 283.7,1697.0 277.2,1698.5 277.9,1701.7 284.4,1700.3 285.1,1703.5 278.6,1704.9 279.3,1708.1 285.7,1706.8 286.4,1710.0 279.9,1711.3 280.6,1714.5 287.0,1713.3 287.7,1716.5 281.2,1717.8 281.8,1721.0 288.3,1719.8 288.9,1723.0 282.4,1724.2 283.0,1727.5 289.5,1726.3 290.1,1729.5 283.6,1730.7 284.2,1734.0 290.7,1732.8 291.3,1736.0 284.8,1737.2 285.4,1740.4 291.9,1739.3 292.4,1742.6 285.9,1743.7 286.5,1746.9 293.0,1745.8 293.5,1749.1 287.1,1750.2 287.6,1753.4 294.1,1752.3 294.7,1755.6 288.2,1756.7 288.7,1759.9 295.2,1758.8 295.8,1762.1 289.3,1763.2 289.8,1766.4 296.3,1765.3 296.9,1768.6 290.4,1769.7 290.9,1772.9 297.4,1771.9 298.0,1775.1 291.5,1776.2 292.0,1779.5 298.5,1778.4 299.1,1781.6 292.6,1782.7 293.1,1786.0 299.6,1784.9 300.1,1788.1 293.6,1789.2 294.2,1792.5 300.7,1791.4 301.2,1794.6 294.7,1795.7 295.3,1799.0 301.7,1797.9 302.3,1801.2 295.8,1802.2 296.3,1805.5 302.8,1804.4 303.4,1807.7 296.9,1808.8 297.4,1812.0 303.9,1810.9 304.5,1814.2 298.0,1815.3 298.5,1818.5 305.0,1817.4 305.5,1820.7 299.0,1821.8 299.6,1825.0 306.1,1823.9 306.6,1827.2 300.1,1828.3 300.7,1831.5 307.2,1830.5 307.7,1833.7 301.2,1834.8 301.8,1838.1 308.3,1837.0 308.8,1840.2 302.3,1841.3 302.8,1844.6 309.3,1843.5 309.9,1846.7 303.4,1847.8 303.9,1851.1 310.4,1850.0 311.0,1853.2 304.5,1854.3 305.0,1857.6 311.5,1856.5 312.0,1859.8 305.5,1860.8 306.1,1864.1 312.6,1863.0 313.1,1866.3 306.6,1867.4 307.2,1870.6 313.7,1869.5 314.2,1872.8 307.7,1873.9 308.2,1877.1 314.7,1876.0 315.3,1879.3 308.8,1880.4 309.3,1883.6 315.8,1882.5 316.4,1885.8 309.9,1886.9 310.4,1890.1 316.9,1889.1 317.5,1892.3 311.0,1893.4 311.5,1896.7 318.0,1895.6 318.6,1898.8 312.1,1899.9 312.6,1903.2 319.1,1902.1 319.7,1905.3 313.2,1906.4 313.8,1909.7 320.2,1908.6 320.8,1911.8 314.3,1912.9 314.9,1916.2 321.4,1915.1 321.9,1918.3 315.5,1919.4 316.0,1922.7 322.5,1921.6 323.1,1924.8 316.6,1926.0 317.2,1929.2 323.7,1928.0 324.3,1931.3 317.8,1932.5 318.4,1935.7 324.9,1934.5 325.5,1937.8 319.0,1939.0 319.6,1942.2 326.1,1941.0 326.7,1944.2 320.2,1945.5 320.8,1948.7 327.3,1947.5 327.9,1950.7 321.4,1952.0 322.1,1955.2 328.5,1953.9 329.2,1957.2 322.7,1958.5 323.4,1961.7 329.8,1960.4 330.5,1963.6 324.0,1964.9 324.7,1968.2 331.1,1966.8 331.8,1970.1 325.4,1971.4 326.1,1974.7 332.5,1973.3 333.2,1976.5 326.8,1977.9 327.5,1981.1 333.9,1979.7 334.6,1982.9 328.2,1984.4 329.0,1987.6 335.4,1986.1 336.2,1989.3 329.8,1990.8 330.6,1994.1 336.9,1992.5 337.7,1995.6 331.4,1997.3 332.2,2000.5 338.6,1998.8 339.5,2002.0 333.1,2003.7 334.0,2006.9 340.3,2005.1 341.2,2008.2 334.9,2010.1 335.9,2013.3 342.2,2011.4 343.2,2014.5 336.9,2016.5 338.1,2019.7 344.2,2017.5 345.3,2020.4 339.3,2022.9 340.7,2026.1 346.6,2023.3 347.6,2025.5 342.8,2029.7 349.8,2030.0 345.3,2025.5 346.1,2023.6 352.1,2026.1 353.4,2022.8 347.2,2020.7 348.2,2017.6 354.4,2019.6 355.5,2016.5 349.2,2014.5 350.2,2011.4 356.5,2013.3 357.4,2010.1 351.2,2008.2 352.0,2005.1 358.4,2006.9 359.2,2003.7 352.9,2002.0 353.8,1998.8 360.1,2000.5 360.9,1997.2 354.6,1995.6 355.4,1992.4 361.8,1994.0 362.5,1990.8 356.1,1989.3 356.9,1986.1 363.3,1987.5 364.0,1984.3 357.6,1982.9 358.3,1979.7 364.7,1981.1 365.4,1977.8 359.0,1976.5 359.7,1973.2 366.1,1974.6 366.8,1971.3 360.3,1970.0 360.9,1966.8 367.4,1968.1 368.0,1964.8 361.6,1963.6 362.2,1960.3 368.7,1961.6 369.3,1958.3 362.8,1957.1 363.4,1953.9 369.9,1955.1 370.5,1951.8 364.0,1950.6 364.6,1947.4 371.1,1948.6 371.7,1945.3 365.2,1944.1 365.8,1940.9 372.3,1942.1 372.9,1938.8 366.4,1937.7 367.0,1934.4 373.4,1935.6 374.0,1932.3 367.5,1931.2 368.1,1927.9 374.6,1929.1 375.2,1925.8 368.7,1924.7 369.2,1921.4 375.7,1922.5 376.3,1919.3 369.8,1918.2 370.4,1914.9 376.9,1916.0 377.4,1912.8 370.9,1911.7 371.5,1908.4 378.0,1909.5 378.6,1906.3 372.1,1905.2 372.6,1901.9 379.1,1903.0 379.7,1899.8 373.2,1898.7 373.8,1895.4 380.3,1896.5 380.8,1893.3 374.3,1892.2 374.9,1888.9 381.4,1890.0 382.0,1886.8 375.5,1885.6 376.1,1882.4 382.5,1883.5 383.1,1880.3 376.6,1879.1 377.2,1875.9 383.7,1877.0 384.3,1873.8 377.8,1872.6 378.4,1869.4 384.9,1870.6 385.4,1867.3 379.0,1866.1 379.6,1862.9 386.0,1864.1 386.6,1860.8 380.1,1859.6 380.7,1856.4 387.2,1857.6 387.8,1854.3 381.3,1853.1 381.9,1849.9 388.4,1851.1 389.0,1847.9 382.5,1846.6 383.2,1843.4 389.6,1844.6 390.2,1841.4 383.8,1840.1 384.4,1836.9 390.8,1838.1 391.5,1834.9 385.0,1833.7 385.6,1830.4 392.1,1831.7 392.7,1828.4 386.2,1827.2 386.9,1823.9 393.3,1825.2 394.0,1821.9 387.5,1820.7 388.1,1817.4 394.6,1818.7 395.2,1815.5 388.8,1814.2 389.4,1811.0 395.9,1812.2 396.5,1809.0 390.1,1807.7 390.7,1804.5 397.2,1805.8 397.8,1802.5 391.4,1801.2 392.0,1798.0 398.5,1799.3 399.1,1796.1 392.7,1794.8 393.3,1791.5 399.8,1792.8 400.4,1789.6 394.0,1788.3 394.7,1785.1 401.1,1786.4 401.8,1783.2 395.3,1781.8 396.0,1778.6 402.5,1779.9 403.1,1776.7 396.7,1775.3 397.4,1772.1 403.8,1773.5 404.5,1770.3 398.1,1768.9 398.8,1765.7 405.2,1767.0 405.9,1763.8 399.5,1762.4 400.2,1759.2 406.6,1760.6 407.3,1757.4 400.9,1756.0 401.6,1752.7 408.0,1754.2 408.7,1750.9 402.3,1749.5 403.0,1746.3 409.4,1747.7 410.1,1744.5 403.7,1743.1 404.4,1739.8 410.9,1741.3 411.6,1738.1 405.2,1736.6 405.9,1733.4 412.3,1734.9 413.1,1731.7 406.7,1730.1 407.5,1726.9 413.9,1728.5 414.6,1725.3 408.3,1723.7 409.1,1720.5 415.5,1722.1 416.3,1719.0 410.0,1717.3 410.9,1714.0 417.2,1715.8 418.1,1712.7 411.8,1710.9 412.7,1707.7 419.0,1709.5 419.9,1706.4 413.7,1704.5 414.6,1701.3 420.9,1703.2 421.9,1700.1 415.6,1698.2 416.5,1695.0 422.8,1696.9 423.8,1693.8 417.5,1691.9 418.5,1688.7 424.7,1690.6 425.7,1687.4 419.4,1685.5 420.4,1682.4 426.6,1684.3 427.6,1681.1 421.3,1679.2 422.3,1676.1 428.5,1678.0 429.5,1674.8 423.2,1672.9 424.2,1669.7 430.5,1671.7 431.4,1668.5 425.2,1666.6 426.1,1663.4 432.4,1665.4 433.4,1662.2 427.1,1660.3 428.1,1657.1 434.3,1659.0 435.3,1655.8 429.0,1654.0 429.9,1650.9 436.2,1652.6 437.1,1649.4 430.7,1647.7 431.5,1644.6 437.9,1646.1 438.6,1642.8 432.2,1641.4 432.9,1638.2 439.3,1639.6 440.0,1636.3 433.5,1635.0 434.1,1631.8 440.6,1633.0 441.2,1629.8 434.7,1628.6 435.3,1625.3 441.8,1626.5 442.4,1623.3 435.9,1622.1 436.5,1618.8 443.0,1620.0 443.6,1616.8 437.1,1615.6 437.7,1612.3 444.2,1613.6 444.8,1610.3 438.4,1609.1 439.0,1605.8 445.5,1607.1 446.1,1603.9 439.7,1602.6 440.3,1599.4 446.8,1600.6 447.4,1597.3 440.9,1596.2 441.5,1592.9 447.9,1594.1 448.5,1590.8 442.0,1589.7 442.5,1586.5 449.0,1587.5 449.5,1584.2 443.0,1583.2 443.5,1580.0 450.0,1580.9 450.5,1577.6 443.9,1576.7 444.4,1573.5 450.9,1574.3 451.3,1571.1 444.8,1570.2 445.2,1567.0 451.8,1567.8 452.2,1564.5 445.6,1563.7 446.0,1560.4 452.6,1561.2 452.9,1557.9 446.4,1557.2 446.8,1553.9 453.3,1554.6 453.7,1551.3 447.1,1550.6 447.5,1547.4 454.0,1548.0 454.4,1544.7 447.8,1544.1 448.1,1540.8 454.7,1541.5 455.0,1538.2 448.5,1537.5 448.8,1534.2 455.3,1534.9 455.7,1531.6 449.1,1531.0 449.4,1527.7 456.0,1528.3 456.3,1525.0 449.8,1524.4 450.1,1521.1 456.6,1521.8 457.0,1518.5 450.4,1517.8 450.8,1514.5 457.3,1515.2 457.7,1511.9 451.1,1511.2 451.4,1507.9 458.0,1508.6 458.3,1505.4 451.8,1504.7 452.2,1501.4 458.7,1502.1 459.1,1498.8 452.5,1498.1 452.9,1494.8 459.5,1495.6 459.9,1492.3 453.4,1491.5 453.8,1488.2 460.3,1489.1 460.8,1485.9 454.3,1484.9 454.9,1481.6 461.4,1482.7 461.9,1479.5 455.5,1478.2 456.1,1474.9 462.6,1476.3 463.3,1473.2 456.9,1471.6 457.9,1468.2 464.2,1470.3 465.2,1467.4 459.2,1464.9 460.8,1461.6 466.4,1464.8 467.9,1462.5 463.0,1458.4 466.0,1455.7 469.7,1460.7 472.0,1459.2 469.3,1453.8 472.5,1452.4 474.9,1457.9 478.1,1456.4 475.2,1451.1 477.5,1449.5 481.4,1454.4 484.2,1451.8 479.4,1447.6 481.0,1445.3 486.5,1448.7 488.3,1445.5 482.4,1442.7 483.5,1439.9 489.6,1442.2 490.8,1439.0 484.6,1436.9 485.5,1433.9 491.8,1435.7 492.7,1432.5 486.3,1430.8 487.2,1427.6 493.5,1429.2 494.4,1426.0 488.0,1424.4 488.8,1421.2 495.2,1422.8 496.0,1419.6 489.6,1418.0 490.4,1414.8 496.8,1416.4 497.6,1413.2 491.2,1411.6 492.0,1408.4 498.4,1410.0 499.2,1406.9 492.9,1405.2 493.8,1402.0 500.1,1403.7 501.0,1400.6 494.7,1398.7 495.7,1395.5 501.9,1397.5 503.0,1394.5 496.8,1392.3 498.2,1389.0 504.1,1391.7 505.1,1389.5 500.2,1385.4 507.3,1385.1 502.7,1389.4 503.4,1391.4 509.5,1389.1 510.6,1392.5 504.2,1394.3 505.0,1397.3 511.4,1395.9 512.1,1399.1 505.7,1400.5 506.3,1403.7 512.8,1402.4 513.4,1405.7 506.9,1406.9 507.5,1410.1 514.0,1409.0 514.5,1412.3 508.0,1413.3 508.5,1416.6 515.0,1415.6 515.5,1418.9 509.0,1419.8 509.4,1423.0 515.9,1422.2 516.4,1425.5 509.8,1426.3 510.2,1429.5 516.8,1428.8 517.1,1432.1 510.6,1432.8 511.0,1436.1 517.5,1435.3 517.9,1438.6 511.3,1439.4 511.7,1442.6 518.2,1441.9 518.6,1445.2 512.1,1445.9 512.4,1449.2 519.0,1448.5 519.3,1451.8 512.8,1452.5 513.1,1455.7 519.7,1455.1 520.0,1458.4 513.4,1459.0 513.8,1462.3 520.3,1461.6 520.7,1464.9 514.1,1465.6 514.4,1468.8 521.0,1468.2 521.3,1471.5 514.7,1472.1 515.0,1475.4 521.6,1474.8 521.9,1478.1 515.3,1478.7 515.6,1482.0 522.2,1481.4 522.4,1484.7 515.9,1485.2 516.1,1488.5 522.7,1488.0 523.0,1491.3 516.4,1491.8 516.6,1495.1 523.2,1494.6 523.5,1497.9 516.9,1498.4 517.1,1501.7 523.7,1501.2 524.0,1504.5 517.4,1505.0 517.6,1508.2 524.2,1507.8 524.4,1511.1 517.9,1511.5 518.1,1514.8 524.7,1514.4 524.9,1517.6 518.3,1518.1 518.6,1521.4 525.1,1520.9 525.4,1524.2 518.8,1524.7 519.0,1528.0 525.6,1527.5 525.9,1530.8 519.3,1531.3 519.5,1534.6 526.1,1534.1 526.3,1537.4 519.7,1537.9 520.0,1541.2 526.5,1540.7 526.8,1544.0 520.2,1544.4 520.4,1547.7 527.0,1547.3 527.2,1550.6 520.6,1551.0 520.9,1554.3 527.4,1553.9 527.7,1557.2 521.1,1557.6 521.3,1560.9 527.9,1560.4 528.2,1563.7 521.6,1564.2 521.9,1567.5 528.4,1567.0 528.7,1570.3 522.2,1570.8 522.5,1574.2 529.0,1573.5 529.4,1576.8 522.8,1577.5 523.2,1580.8 529.7,1580.0 530.1,1583.3 523.6,1584.1 524.0,1587.4 530.5,1586.5 531.0,1589.8 524.5,1590.7 524.9,1594.0 531.5,1593.0 532.0,1596.2 525.4,1597.3 525.9,1600.5 532.5,1599.5 533.0,1602.8 526.5,1603.8 527.0,1607.0 533.5,1606.0 534.0,1609.3 527.5,1610.3 528.0,1613.6 534.5,1612.6 535.0,1615.8 528.5,1616.8 529.0,1620.1 535.5,1619.1 536.0,1622.4 529.4,1623.3 529.9,1626.5 536.4,1625.7 536.8,1629.0 530.3,1629.8 530.7,1633.0 537.2,1632.3 537.6,1635.6 531.0,1636.3 531.4,1639.6 537.9,1638.9 538.3,1642.2 531.7,1642.8 532.0,1646.1 538.6,1645.5 538.9,1648.8 532.3,1649.4 532.6,1652.7 539.2,1652.0 539.5,1655.3 533.0,1656.0 533.3,1659.3 539.9,1658.6 540.3,1661.8 533.7,1662.6 534.2,1665.9 540.7,1665.0 541.1,1668.3 534.6,1669.2 535.2,1672.6 541.7,1671.5 542.2,1674.7 535.7,1675.8 536.3,1679.1 542.8,1677.9 543.4,1681.1 537.0,1682.4 537.7,1685.7 544.1,1684.3 544.8,1687.5 538.4,1688.9 539.1,1692.2 545.5,1690.7 546.2,1693.9 539.8,1695.4 540.6,1698.6 547.0,1697.1 547.8,1700.3 541.4,1701.9 542.2,1705.1 548.6,1703.4 549.4,1706.6 543.1,1708.3 543.9,1711.5 550.3,1709.8 551.2,1712.9 544.9,1714.7 545.8,1717.9 552.1,1716.0 553.0,1719.1 546.8,1721.1 547.8,1724.3 554.1,1722.2 555.1,1725.3 548.9,1727.5 550.1,1730.6 556.2,1728.4 557.3,1731.4 551.3,1733.8 552.5,1736.9 558.5,1734.4 559.8,1737.4 553.8,1740.0 555.2,1743.1 561.1,1740.3 562.5,1743.2 556.7,1746.1 558.3,1749.1 564.0,1746.0 565.5,1748.8 560.0,1752.1 561.7,1755.0 567.2,1751.6 568.9,1754.2 563.6,1757.9 565.6,1760.6 570.8,1756.8 572.7,1759.4 567.7,1763.3 569.9,1766.0 574.7,1761.8 576.8,1764.2 572.2,1768.5 574.6,1771.0 579.0,1766.5 581.3,1768.7 577.1,1773.3 579.6,1775.6 583.7,1770.8 586.2,1772.9 582.2,1777.7 584.8,1779.9 588.6,1774.9 591.2,1776.8 587.6,1781.9 590.5,1783.8 593.8,1778.6 596.4,1780.2 593.6,1785.5 597.1,1787.0 598.9,1781.4 601.3,1781.9 601.2,1787.6 604.9,1787.3 604.1,1781.6 607.1,1781.1 608.4,1786.7 611.8,1785.9 610.1,1780.2 613.2,1779.3 615.0,1784.9 618.2,1783.9 616.4,1778.3 619.5,1777.3 621.3,1782.9 624.4,1781.9 622.7,1776.2 626.2,1775.4 627.3,1781.1 629.9,1780.6 630.2,1775.0 634.3,1775.9 632.1,1781.4 634.3,1782.8 637.8,1777.7 640.8,1780.2 636.3,1784.6 638.1,1786.8 643.3,1783.0 645.3,1786.1 639.6,1789.3 641.1,1792.1 646.9,1789.1 648.4,1792.2 642.5,1795.0 643.8,1797.8 649.8,1795.3 651.1,1798.5 645.0,1800.8 646.0,1803.8 652.2,1801.7 653.3,1804.9 647.1,1806.9 648.0,1810.0 654.3,1808.1 655.3,1811.3 649.0,1813.1 649.8,1816.2 656.2,1814.5 657.0,1817.7 650.7,1819.4 651.5,1822.6 657.9,1820.9 658.7,1824.1 652.4,1825.8 653.3,1829.0 659.6,1827.2 660.5,1830.4 654.2,1832.2 655.2,1835.4 661.4,1833.4 662.4,1836.5 656.2,1838.6 657.3,1841.8 663.5,1839.6 664.6,1842.8 658.4,1844.9 659.4,1847.9 665.6,1846.0 666.6,1849.2 660.3,1851.0 661.2,1854.1 667.5,1852.5 668.4,1855.8 661.9,1857.2 662.6,1860.4 669.1,1859.0 669.7,1862.3 663.3,1863.6 663.9,1866.8 670.4,1865.6 670.9,1868.9 664.5,1870.0 665.0,1873.3 671.5,1872.1 672.1,1875.4 665.6,1876.5 666.2,1879.8 672.7,1878.6 673.3,1881.8 666.8,1883.0 667.4,1886.3 673.9,1885.1 674.5,1888.3 668.1,1889.5 668.7,1892.8 675.2,1891.5 675.8,1894.8 669.4,1896.0 670.0,1899.3 676.5,1898.0 677.1,1901.2 670.6,1902.5 671.3,1905.7 677.7,1904.5 678.4,1907.7 671.9,1909.0 672.6,1912.2 679.0,1910.9 679.7,1914.2 673.2,1915.5 673.9,1918.7 680.3,1917.4 681.0,1920.6 674.5,1921.9 675.2,1925.2 681.6,1923.9 682.3,1927.1 675.8,1928.4 676.5,1931.6 682.9,1930.4 683.6,1933.6 677.1,1934.9 677.8,1938.1 684.2,1936.8 684.9,1940.1 678.4,1941.3 679.0,1944.6 685.5,1943.3 686.1,1946.5 679.7,1947.8 680.3,1951.1 686.8,1949.8 687.4,1953.0 680.9,1954.3 681.6,1957.5 688.0,1956.3 688.7,1959.5 682.2,1960.8 682.9,1964.0 689.4,1962.7 690.1,1965.9 683.6,1967.3 684.4,1970.5 690.8,1969.1 691.5,1972.3 685.1,1973.8 685.9,1977.0 692.3,1975.4 693.1,1978.6 686.7,1980.3 687.7,1983.6 694.0,1981.6 695.0,1984.5 688.9,1986.9 690.3,1990.2 696.1,1987.3 697.5,1989.7 692.3,1993.5 696.9,1996.6 697.7,1990.9 698.3,1989.9 702.2,1994.7 704.9,1992.2 700.3,1987.8 702.4,1985.5 707.2,1989.6 709.4,1986.9 704.3,1983.0 706.3,1980.4 711.4,1984.3 713.4,1981.6 708.3,1977.8 710.3,1975.2 715.4,1979.0 717.4,1976.4 712.3,1972.5 714.7,1969.7 719.2,1974.1 720.1,1972.9 719.1,1967.2 724.0,1968.1 721.5,1973.6 724.1,1975.1 727.2,1969.8 729.9,1971.4 727.1,1976.8 730.3,1978.2 732.7,1972.7 735.7,1974.0 733.4,1979.5 736.5,1980.8 738.7,1975.2 741.8,1976.5 739.5,1982.0 742.6,1983.2 744.8,1977.7 747.9,1979.0 745.6,1984.5 748.6,1985.8 751.0,1980.3 754.1,1981.7 751.5,1987.2 754.4,1988.6 757.1,1983.2 760.1,1984.8 757.2,1990.1 760.0,1991.7 763.1,1986.5 766.0,1988.2 762.7,1993.4 765.3,1995.2 768.8,1990.1 771.6,1992.0 767.9,1997.0 770.5,1999.0 774.3,1994.1 777.0,1996.2 773.0,2001.0 775.5,2003.1 779.6,1998.4 782.1,2000.6 777.9,2005.2 780.3,2007.4 784.6,2002.8 787.0,2005.1 782.7,2009.7 785.0,2012.0 789.4,2007.4 791.8,2009.6 787.5,2014.2 789.9,2016.5 794.1,2011.9 796.5,2014.0 792.4,2018.7 795.0,2020.9 799.0,2016.1 801.5,2018.1 797.7,2023.0 800.5,2025.0 804.0,2020.0 806.7,2021.7 803.4,2026.9 806.3,2028.7 809.4,2023.4 812.2,2025.1 809.2,2030.4 812.3,2032.0 814.9,2026.5 817.8,2027.8 815.5,2033.4 818.7,2034.6 820.7,2029.0 823.6,2029.9 822.1,2035.6 825.7,2036.3 826.4,2030.6 829.2,2030.7 829.5,2036.3 833.1,2036.0 832.2,2030.3 835.1,2029.6 836.7,2035.3 840.1,2034.1 837.9,2028.6 840.6,2027.3 843.4,2032.7 846.4,2031.0 843.3,2025.8 846.1,2024.1 849.3,2029.3 852.2,2027.5 848.8,2022.4 851.4,2020.5 855.0,2025.6 857.7,2023.7 854.1,2018.7 856.8,2016.7 860.4,2021.7 863.0,2019.8 859.5,2014.8 862.3,2012.9 865.7,2018.0 868.4,2016.2 865.1,2011.0 867.9,2009.2 871.1,2014.5 873.8,2012.9 871.0,2007.5 874.2,2006.0 876.5,2011.5 879.3,2010.4 877.6,2004.8 881.2,2004.0 882.1,2009.7 884.8,2009.3 885.1,2003.7 889.0,2004.4 887.2,2010.0 890.1,2011.2 892.4,2005.7 895.5,2007.0 893.0,2012.5 895.9,2013.9 898.5,2008.4 901.5,2009.8 899.0,2015.3 902.0,2016.6 904.4,2011.1 907.4,2012.4 905.1,2017.9 908.2,2019.2 910.4,2013.7 913.4,2014.8 911.4,2020.4 914.6,2021.5 916.4,2015.9 919.5,2016.8 917.9,2022.4 921.3,2023.2 922.5,2017.5 925.6,2018.1 924.7,2023.8 928.0,2024.3 928.8,2018.6 932.0,2019.0 931.4,2024.7 934.7,2025.0 935.3,2019.3 938.5,2019.7 938.0,2025.3 941.3,2025.7 941.8,2020.0 945.1,2020.3 944.5,2026.0 947.8,2026.3 948.4,2020.7 951.7,2021.1 951.0,2026.7 954.3,2027.1 955.0,2021.4 958.2,2021.8 957.7,2027.5 961.1,2027.7 961.3,2022.0 964.3,2021.9 964.8,2027.6 968.3,2027.2 967.3,2021.5 970.5,2020.9 971.6,2026.6 975.0,2025.8 973.5,2020.1 976.6,2019.3 978.3,2024.9 981.6,2023.9 979.6,2018.3 982.5,2017.1 984.8,2022.6 987.9,2021.3 985.4,2015.8 988.2,2014.4 991.1,2019.8 994.1,2018.1 990.9,2012.9 993.4,2011.1 997.1,2016.1 999.8,2013.9 995.8,2009.2 998.1,2007.1 1002.5,2011.6 1004.9,2009.1 1000.2,2004.8 1002.3,2002.5 1007.2,2006.5 1009.3,2003.9 1004.3,2000.0 1006.2,1997.4 1011.4,2001.1 1013.3,1998.4 1008.0,1994.7 1009.8,1992.0 1015.2,1995.6 1017.0,1992.8 1011.6,1989.3 1013.5,1986.5 1018.8,1990.1 1020.6,1987.3 1015.3,1983.8 1017.1,1981.0 1022.5,1984.6 1024.3,1981.9 1019.0,1978.3 1020.9,1975.5 1026.1,1979.2 1028.0,1976.6 1022.9,1972.8 1024.9,1970.1 1030.0,1974.0 1032.0,1971.5 1027.1,1967.5 1029.3,1964.9 1034.0,1969.1 1036.2,1966.8 1031.7,1962.4 1034.0,1960.0 1038.5,1964.4 1040.8,1962.1 1036.3,1957.7 1038.4,1955.4 1043.2,1959.5 1045.4,1956.8 1040.3,1953.0 1042.0,1950.5 1047.5,1953.8 1049.2,1950.7 1043.4,1947.8 1044.6,1945.0 1050.7,1947.5 1051.9,1944.2 1045.7,1942.1 1046.6,1939.1 1052.9,1940.9 1053.8,1937.6 1047.4,1936.0 1048.1,1932.9 1054.5,1934.3 1055.2,1931.0 1048.8,1929.7 1049.5,1926.5 1055.9,1927.8 1056.6,1924.5 1050.1,1923.3 1050.7,1920.0 1057.2,1921.2 1057.8,1918.0 1051.3,1916.8 1051.8,1913.6 1058.3,1914.7 1058.9,1911.4 1052.4,1910.3 1052.9,1907.1 1059.4,1908.2 1060.0,1904.9 1053.5,1903.9 1054.0,1900.6 1060.5,1901.6 1061.0,1898.4 1054.5,1897.4 1055.0,1894.1 1061.5,1895.1 1062.0,1891.8 1055.4,1890.8 1055.9,1887.6 1062.4,1888.5 1062.9,1885.3 1056.4,1884.3 1056.9,1881.1 1063.4,1882.0 1063.9,1878.7 1057.3,1877.8 1057.8,1874.5 1064.3,1875.5 1064.8,1872.2 1058.3,1871.3 1058.7,1868.0 1065.2,1868.9 1065.7,1865.6 1059.1,1864.7 1059.6,1861.5 1066.1,1862.3 1066.5,1859.1 1060.0,1858.2 1060.4,1855.0 1067.0,1855.8 1067.4,1852.5 1060.8,1851.7 1061.2,1848.4 1067.8,1849.2 1068.2,1845.9 1061.6,1845.2 1062.0,1841.9 1068.5,1842.6 1068.9,1839.3 1062.3,1838.6 1062.7,1835.4 1069.2,1836.0 1069.6,1832.7 1063.0,1832.1 1063.4,1828.8 1069.9,1829.5 1070.2,1826.2 1063.7,1825.5 1064.0,1822.2 1070.6,1822.9 1070.9,1819.6 1064.3,1819.0 1064.6,1815.7 1071.2,1816.3 1071.5,1813.0 1065.0,1812.4 1065.3,1809.1 1071.8,1809.7 1072.2,1806.5 1065.6,1805.8 1065.9,1802.5 1072.5,1803.2 1072.8,1799.9 1066.2,1799.3 1066.5,1796.0 1073.1,1796.6 1073.4,1793.3 1066.9,1792.7 1067.2,1789.4 1073.7,1790.0 1074.1,1786.8 1067.5,1786.1 1067.8,1782.8 1074.4,1783.5 1074.7,1780.2 1068.2,1779.5 1068.5,1776.2 1075.1,1776.9 1075.5,1773.7 1068.9,1772.9 1069.3,1769.6 1075.8,1770.4 1076.2,1767.2 1069.7,1766.3 1070.1,1763.0 1076.7,1763.9 1077.1,1760.7 1070.6,1759.7 1071.1,1756.5 1077.6,1757.4 1078.1,1754.2 1071.6,1753.2 1072.1,1749.9 1078.6,1750.9 1079.1,1747.7 1072.6,1746.6 1073.2,1743.3 1079.7,1744.5 1080.3,1741.3 1073.8,1740.1 1074.5,1736.8 1080.9,1738.1 1081.6,1735.0 1075.2,1733.4 1076.7,1729.2 1081.9,1732.9 1078.0,1733.0 1084.0,1730.5 1085.1,1734.2 1078.7,1735.6 1079.3,1738.8 1085.8,1737.5 1086.4,1740.8 1079.9,1741.9 1080.4,1745.1 1086.9,1744.2 1087.4,1747.5 1080.8,1748.3 1081.2,1751.6 1087.8,1750.8 1088.2,1754.1 1081.6,1754.8 1082.0,1758.1 1088.5,1757.4 1088.9,1760.7 1082.3,1761.4 1082.6,1764.6 1089.2,1764.0 1089.5,1767.3 1082.9,1767.9 1083.2,1771.2 1089.8,1770.6 1090.1,1773.9 1083.5,1774.5 1083.8,1777.7 1090.4,1777.2 1090.6,1780.5 1084.1,1781.0 1084.3,1784.3 1090.9,1783.8 1091.2,1787.1 1084.6,1787.6 1084.9,1790.9 1091.5,1790.3 1091.7,1793.6 1085.2,1794.2 1085.4,1797.5 1092.0,1796.9 1092.3,1800.2 1085.7,1800.7 1085.9,1804.0 1092.5,1803.5 1092.8,1806.8 1086.2,1807.3 1086.4,1810.6 1093.0,1810.1 1093.3,1813.4 1086.7,1813.9 1086.9,1817.2 1093.5,1816.7 1093.7,1820.0 1087.1,1820.5 1087.4,1823.7 1093.9,1823.3 1094.2,1826.6 1087.6,1827.0 1087.8,1830.3 1094.4,1829.9 1094.6,1833.2 1088.0,1833.6 1088.2,1836.9 1094.8,1836.5 1094.9,1839.8 1088.4,1840.2 1088.5,1843.5 1095.1,1843.1 1095.3,1846.4 1088.7,1846.8 1088.9,1850.0 1095.5,1849.7 1095.6,1853.0 1089.0,1853.3 1089.2,1856.6 1095.8,1856.3 1096.0,1859.6 1089.4,1859.9 1089.5,1863.2 1096.1,1862.9 1096.3,1866.2 1089.7,1866.5 1089.8,1869.8 1096.4,1869.5 1096.6,1872.8 1090.0,1873.1 1090.2,1876.4 1096.7,1876.1 1096.9,1879.4 1090.3,1879.7 1090.5,1883.0 1097.1,1882.7 1097.2,1886.0 1090.6,1886.3 1090.8,1889.6 1097.4,1889.3 1097.5,1892.6 1091.0,1892.9 1091.1,1896.2 1097.7,1895.9 1097.9,1899.2 1091.3,1899.5 1091.4,1902.8 1098.0,1902.5 1098.2,1905.8 1091.6,1906.1 1091.7,1909.4 1098.3,1909.1 1098.5,1912.4 1091.9,1912.7 1092.1,1916.0 1098.7,1915.6 1098.8,1918.9 1092.2,1919.3 1092.4,1922.6 1099.0,1922.2 1099.2,1925.5 1092.6,1925.9 1092.8,1929.2 1099.4,1928.8 1099.6,1932.1 1093.0,1932.5 1093.2,1935.8 1099.8,1935.4 1100.0,1938.7 1093.4,1939.1 1093.6,1942.4 1100.2,1942.0 1100.4,1945.3 1093.8,1945.7 1094.0,1949.0 1100.6,1948.5 1100.8,1951.8 1094.2,1952.3 1094.5,1955.6 1101.0,1955.1 1101.3,1958.4 1094.7,1958.9 1094.9,1962.2 1101.5,1961.7 1101.7,1965.0 1095.1,1965.4 1095.3,1968.7 1101.9,1968.3 1102.1,1971.6 1095.6,1972.0 1095.8,1975.3 1102.4,1974.9 1102.6,1978.2 1096.0,1978.6 1096.2,1981.9 1102.8,1981.5 1103.0,1984.8 1096.4,1985.2 1096.6,1988.5 1103.2,1988.1 1103.4,1991.4 1096.8,1991.8 1097.1,1995.1 1103.7,1994.6 1103.9,1997.9 1097.3,1998.4 1097.5,2001.7 1104.1,2001.2 1104.4,2004.5 1097.8,2005.0 1098.0,2008.3 1104.6,2007.8 1104.9,2011.0 1098.3,2011.6 1098.6,2014.9 1105.2,2014.3 1105.5,2017.6 1098.9,2018.2 1099.2,2021.5 1105.8,2020.9 1106.1,2024.1 1099.5,2024.8 1099.8,2028.1 1106.4,2027.4 1106.7,2030.7 1100.2,2031.4 1100.5,2034.7 1107.1,2034.0 1107.4,2037.2 1100.9,2038.0 1101.3,2041.3 1107.8,2040.5 1108.2,2043.7 1101.7,2044.6 1102.1,2047.9 1108.7,2047.0 1109.1,2050.2 1102.6,2051.2 1103.1,2054.4 1109.6,2053.5 1110.1,2056.7 1103.6,2057.7 1104.1,2061.0 1110.6,2059.9 1111.2,2063.2 1104.7,2064.3 1105.3,2067.6 1111.8,2066.4 1112.4,2069.6 1105.9,2070.8 1106.5,2074.1 1113.0,2072.8 1113.6,2076.0 1107.2,2077.3 1107.8,2080.6 1114.3,2079.3 1115.0,2082.4 1108.5,2083.9 1109.3,2087.1 1115.7,2085.6 1116.5,2088.7 1110.2,2090.5 1111.2,2093.8 1117.4,2091.6 1118.5,2094.4 1112.6,2097.2 1114.5,2100.5 1119.8,2096.8 1120.3,2098.2 1118.5,2103.9 1124.5,2101.9 1119.8,2097.6 1121.1,2095.4 1126.8,2098.6 1128.4,2095.5 1122.6,2092.7 1123.9,2089.8 1129.9,2092.5 1131.2,2089.3 1125.2,2086.8 1126.4,2083.8 1132.5,2086.2 1133.7,2083.1 1127.5,2080.8 1128.7,2077.7 1134.8,2080.0 1136.0,2077.0 1129.9,2074.6 1131.1,2071.5 1137.2,2073.9 1138.4,2070.9 1132.4,2068.4 1133.7,2065.3 1139.7,2067.9 1141.0,2065.0 1135.1,2062.2 1136.6,2059.2 1142.4,2062.1 1143.9,2059.2 1138.2,2056.2 1139.8,2053.2 1145.4,2056.4 1147.1,2053.7 1141.6,2050.3 1143.4,2047.4 1148.8,2051.0 1150.6,2048.4 1145.4,2044.6 1147.5,2041.9 1152.5,2045.9 1154.5,2043.4 1149.7,2039.3 1152.0,2036.7 1156.6,2041.1 1158.8,2038.8 1154.4,2034.3 1157.0,2031.9 1161.1,2036.7 1163.5,2034.6 1159.7,2029.7 1162.5,2027.7 1166.0,2032.8 1168.7,2030.9 1165.3,2025.8 1168.3,2024.0 1171.3,2029.3 1174.0,2027.8 1171.4,2022.4 1174.7,2021.0 1176.8,2026.6 1179.7,2025.6 1178.0,2019.9 1181.6,2019.1 1182.6,2024.8 1184.7,2024.6 1185.9,2019.0 1190.1,2020.8 1186.4,2025.8 1188.5,2027.7 1192.9,2023.3 1195.4,2025.9 1190.5,2030.0 1192.5,2032.4 1197.5,2028.5 1199.6,2031.3 1194.4,2035.0 1196.2,2037.7 1201.5,2034.0 1203.4,2036.7 1198.1,2040.4 1199.9,2043.0 1205.3,2039.6 1207.1,2042.4 1201.6,2045.8 1203.3,2048.6 1208.8,2045.3 1210.5,2048.1 1205.0,2051.4 1206.8,2054.4 1212.1,2050.8 1213.7,2052.9 1209.3,2057.4 1213.1,2059.7 1215.3,2054.2 1215.4,2054.4 1219.1,2059.4 1221.9,2055.2 1215.7,2052.9 1216.6,2050.0 1222.9,2051.7 1223.8,2048.5 1217.4,2046.9 1218.2,2043.7 1224.6,2045.2 1225.3,2042.0 1218.9,2040.5 1219.6,2037.3 1226.1,2038.7 1226.7,2035.4 1220.3,2034.2 1220.9,2030.9 1227.4,2032.2 1228.0,2028.9 1221.5,2027.7 1222.1,2024.5 1228.6,2025.6 1229.1,2022.3 1222.6,2021.3 1223.1,2018.0 1229.6,2019.1 1230.1,2015.8 1223.6,2014.8 1224.1,2011.6 1230.6,2012.5 1231.1,2009.2 1224.5,2008.3 1225.0,2005.0 1231.5,2005.9 1231.9,2002.6 1225.4,2001.8 1225.8,1998.5 1232.4,1999.4 1232.8,1996.1 1226.3,1995.2 1226.7,1992.0 1233.2,1992.8 1233.7,1989.6 1227.1,1988.7 1227.6,1985.4 1234.1,1986.3 1234.6,1983.1 1228.0,1982.1 1228.5,1978.8 1235.0,1979.8 1235.5,1976.6 1229.0,1975.6 1229.5,1972.3 1236.0,1973.3 1236.6,1970.1 1230.1,1969.0 1230.6,1965.7 1237.1,1966.8 1237.6,1963.6 1231.1,1962.5 1231.7,1959.2 1238.2,1960.3 1238.7,1957.1 1232.2,1955.9 1232.8,1952.7 1239.3,1953.8 1239.9,1950.6 1233.4,1949.4 1234.0,1946.2 1240.5,1947.4 1241.1,1944.1 1234.6,1942.9 1235.2,1939.7 1241.7,1940.9 1242.3,1937.7 1235.8,1936.4 1236.5,1933.2 1242.9,1934.4 1243.5,1931.2 1237.1,1929.9 1237.7,1926.7 1244.2,1928.0 1244.8,1924.7 1238.4,1923.4 1239.1,1920.2 1245.5,1921.5 1246.2,1918.3 1239.7,1917.0 1240.4,1913.7 1246.8,1915.0 1247.5,1911.8 1241.0,1910.5 1241.7,1907.3 1248.1,1908.6 1248.8,1905.3 1242.3,1904.0 1243.0,1900.8 1249.4,1902.1 1250.1,1898.9 1243.6,1897.6 1244.3,1894.3 1250.7,1895.6 1251.4,1892.4 1244.9,1891.1 1245.6,1887.9 1252.0,1889.1 1252.7,1885.9 1246.2,1884.6 1246.9,1881.4 1253.3,1882.7 1254.0,1879.4 1247.5,1878.1 1248.2,1874.9 1254.6,1876.2 1255.3,1873.0 1248.8,1871.7 1249.4,1868.4 1255.9,1869.7 1256.5,1866.5 1250.1,1865.2 1250.7,1862.0 1257.2,1863.2 1257.8,1860.0 1251.3,1858.7 1252.0,1855.5 1258.4,1856.7 1259.1,1853.5 1252.6,1852.2 1253.2,1849.0 1259.7,1850.3 1260.3,1847.1 1253.9,1845.8 1254.6,1842.5 1261.0,1843.8 1261.7,1840.6 1255.2,1839.3 1255.9,1836.0 1262.4,1837.4 1263.1,1834.2 1256.7,1832.8 1257.4,1829.5 1263.8,1831.0 1264.6,1827.8 1258.2,1826.3 1259.0,1823.1 1265.3,1824.6 1266.1,1821.5 1259.8,1819.8 1260.6,1816.6 1266.9,1818.3 1267.8,1815.1 1261.4,1813.4 1262.3,1810.2 1268.6,1811.9 1269.5,1808.8 1263.2,1807.0 1264.1,1803.8 1270.4,1805.6 1271.3,1802.4 1265.0,1800.6 1265.9,1797.5 1272.2,1799.3 1273.1,1796.1 1266.8,1794.3 1267.7,1791.1 1274.0,1792.9 1274.9,1789.8 1268.6,1787.9 1269.6,1784.7 1275.9,1786.6 1276.8,1783.5 1270.6,1781.6 1271.6,1778.4 1277.8,1780.4 1278.9,1777.4 1272.7,1775.2 1274.0,1772.0 1280.0,1774.5 1281.3,1771.6 1275.4,1768.8 1276.9,1765.7 1282.7,1768.7 1284.2,1766.0 1278.6,1762.7 1280.4,1759.8 1285.8,1763.3 1287.6,1760.6 1282.3,1757.0 1284.2,1754.3 1289.5,1757.9 1291.4,1755.2 1286.1,1751.6 1287.9,1748.9 1293.3,1752.4 1295.1,1749.6 1289.7,1746.2 1291.4,1743.4 1296.9,1746.8 1298.6,1743.9 1293.1,1740.6 1294.8,1737.8 1300.3,1741.2 1302.1,1738.3 1296.6,1735.0 1298.4,1732.1 1303.8,1735.6 1305.5,1732.9 1300.3,1729.3 1302.3,1726.5 1307.4,1730.4 1309.3,1727.9 1304.5,1723.8 1307.1,1721.2 1311.3,1725.8 1313.5,1724.0 1310.0,1718.9 1313.3,1717.0 1315.9,1722.5 1317.1,1721.6 1318.4,1715.9 1322.7,1719.6 1317.1,1722.7 1318.1,1725.3 1324.3,1723.1 1325.3,1726.4 1319.1,1728.3 1320.0,1731.4 1326.3,1729.6 1327.2,1732.8 1320.9,1734.5 1321.7,1737.7 1328.1,1736.0 1328.9,1739.3 1322.5,1740.8 1323.2,1744.0 1329.6,1742.5 1330.3,1745.8 1323.9,1747.2 1324.6,1750.4 1331.1,1749.0 1331.8,1752.3 1325.3,1753.6 1326.0,1756.8 1332.4,1755.5 1333.1,1758.7 1326.7,1760.1 1327.4,1763.3 1333.8,1762.0 1334.5,1765.2 1328.0,1766.5 1328.7,1769.8 1335.1,1768.4 1335.8,1771.6 1329.4,1773.0 1330.0,1776.2 1336.5,1774.9 1337.2,1778.1 1330.7,1779.4 1331.4,1782.7 1337.8,1781.3 1338.5,1784.6 1332.1,1785.9 1332.7,1789.1 1339.2,1787.8 1339.8,1791.0 1333.4,1792.4 1334.1,1795.6 1340.5,1794.3 1341.2,1797.5 1334.7,1798.8 1335.4,1802.1 1341.8,1800.7 1342.5,1804.0 1336.1,1805.3 1336.8,1808.5 1343.2,1807.2 1343.9,1810.4 1337.4,1811.8 1338.1,1815.0 1344.5,1813.7 1345.2,1816.9 1338.8,1818.2 1339.4,1821.5 1345.9,1820.1 1346.5,1823.4 1340.1,1824.7 1340.8,1827.9 1347.2,1826.6 1347.9,1829.8 1341.4,1831.2 1342.1,1834.4 1348.5,1833.1 1349.2,1836.3 1342.8,1837.6 1343.4,1840.9 1349.9,1839.5 1350.6,1842.7 1344.1,1844.1 1344.9,1847.3 1351.3,1845.9 1352.0,1849.1 1345.6,1850.6 1346.3,1853.8 1352.7,1852.3 1353.5,1855.5 1347.1,1857.0 1347.9,1860.3 1354.3,1858.7 1355.0,1861.9 1348.7,1863.5 1349.5,1866.7 1355.8,1865.1 1356.7,1868.3 1350.3,1869.9 1351.2,1873.1 1357.5,1871.4 1358.4,1874.6 1352.1,1876.3 1353.0,1879.5 1359.3,1877.7 1360.2,1880.9 1353.9,1882.7 1354.8,1885.9 1361.1,1884.0 1362.0,1887.2 1355.8,1889.1 1356.7,1892.2 1363.0,1890.4 1363.9,1893.5 1357.7,1895.4 1358.6,1898.6 1364.9,1896.7 1365.8,1899.8 1359.6,1901.7 1360.5,1904.9 1366.8,1903.0 1367.7,1906.2 1361.5,1908.0 1362.4,1911.2 1368.7,1909.3 1369.6,1912.5 1363.4,1914.4 1364.3,1917.5 1370.6,1915.6 1371.6,1918.8 1365.3,1920.7 1366.3,1923.9 1372.5,1921.9 1373.5,1925.0 1367.3,1927.0 1368.3,1930.2 1374.5,1928.2 1375.5,1931.3 1369.3,1933.3 1370.4,1936.5 1376.6,1934.4 1377.6,1937.5 1371.4,1939.6 1372.4,1942.7 1378.7,1940.7 1379.7,1943.8 1373.5,1945.9 1374.5,1949.0 1380.7,1946.9 1381.8,1950.1 1375.6,1952.1 1376.6,1955.3 1382.8,1953.2 1383.9,1956.3 1377.7,1958.4 1378.7,1961.5 1384.9,1959.5 1386.0,1962.6 1379.8,1964.7 1380.9,1967.8 1387.0,1965.7 1388.1,1968.8 1382.0,1970.9 1383.1,1974.1 1389.2,1971.9 1390.4,1974.9 1384.2,1977.2 1385.4,1980.3 1391.5,1978.0 1392.6,1981.1 1386.5,1983.4 1387.7,1986.5 1393.8,1984.2 1395.0,1987.3 1388.8,1989.6 1390.0,1992.7 1396.1,1990.4 1397.3,1993.5 1391.2,1995.8 1392.3,1998.9 1398.4,1996.6 1399.6,1999.6 1393.5,2001.9 1394.6,2005.0 1400.8,2002.7 1401.9,2005.8 1395.8,2008.1 1396.9,2011.2 1403.1,2008.9 1404.2,2012.0 1398.1,2014.3 1399.2,2017.4 1405.4,2015.1 1406.5,2018.2 1400.4,2020.5 1401.6,2023.6 1407.7,2021.2 1408.9,2024.3 1402.9,2026.7 1404.2,2029.8 1410.1,2027.3 1411.4,2030.2 1405.5,2032.9 1406.9,2035.9 1412.8,2033.2 1414.2,2036.1 1408.4,2039.0 1409.9,2042.0 1415.6,2039.0 1417.2,2041.9 1411.5,2044.9 1413.1,2047.9 1418.7,2044.7 1420.3,2047.4 1414.9,2050.8 1416.8,2053.7 1422.1,2050.0 1423.9,2052.5 1418.9,2056.5 1421.1,2059.1 1426.0,2055.0 1428.0,2057.2 1423.5,2061.7 1426.3,2064.1 1430.1,2059.2 1432.4,2060.8 1429.5,2066.1 1433.0,2067.6 1435.0,2062.0 1437.7,2062.8 1436.7,2068.5 1440.8,2068.7 1440.1,2063.0 1442.4,2062.1 1444.8,2067.6 1448.1,2065.8 1444.8,2060.7 1447.2,2058.9 1451.1,2063.7 1453.8,2061.4 1449.4,2056.9 1451.5,2054.6 1456.3,2058.9 1458.5,2056.3 1453.6,2052.2 1455.6,2049.7 1460.6,2053.7 1462.7,2050.9 1457.5,2047.2 1459.3,2044.6 1464.7,2048.1 1466.5,2045.2 1461.0,2041.9 1462.6,2039.1 1468.2,2042.3 1469.9,2039.4 1464.2,2036.3 1465.7,2033.4 1471.4,2036.4 1473.0,2033.4 1467.1,2030.5 1468.6,2027.6 1474.4,2030.4 1475.8,2027.4 1469.9,2024.6 1471.3,2021.6 1477.2,2024.3 1478.6,2021.3 1472.6,2018.6 1474.0,2015.6 1479.9,2018.3 1481.3,2015.3 1475.4,2012.6 1476.7,2009.6 1482.6,2012.3 1484.0,2009.3 1478.1,2006.6 1479.6,2003.6 1485.4,2006.4 1486.9,2003.4 1481.0,2000.6 1482.5,1997.6 1488.3,2000.5 1489.8,1997.6 1484.0,1994.6 1485.6,1991.7 1491.3,1994.7 1492.8,1991.9 1487.2,1988.7 1488.9,1985.8 1494.4,1989.1 1496.1,1986.3 1490.7,1982.9 1492.6,1980.0 1497.8,1983.7 1499.7,1981.2 1494.7,1977.2 1496.9,1974.6 1501.6,1978.8 1503.7,1976.6 1499.4,1972.0 1502.1,1969.7 1506.0,1974.6 1508.5,1972.6 1504.8,1967.6 1507.8,1965.6 1511.0,1970.8 1513.6,1969.4 1511.0,1963.9 1514.4,1962.6 1516.3,1968.2 1519.1,1967.4 1517.9,1961.7 1521.5,1961.3 1522.1,1966.9 1524.9,1966.8 1525.2,1961.1 1529.0,1961.6 1527.7,1967.3 1530.8,1968.1 1532.3,1962.5 1535.5,1963.3 1534.0,1969.0 1537.2,1969.8 1538.6,1964.1 1541.8,1964.9 1540.4,1970.6 1543.7,1971.3 1545.0,1965.6 1548.1,1966.3 1547.1,1972.0 1550.7,1972.4 1551.0,1966.8 1553.2,1966.4 1555.0,1972.0 1558.6,1970.4 1555.5,1965.1 1558.0,1963.4 1561.6,1968.5 1564.3,1966.6 1560.7,1961.5 1563.4,1959.6 1567.0,1964.6 1569.6,1962.8 1566.2,1957.6 1569.6,1955.8 1571.9,1961.4 1573.5,1961.0 1574.3,1955.3 1578.1,1956.3 1576.1,1961.9 1579.1,1963.1 1581.2,1957.6 1584.0,1958.6 1582.5,1964.3 1586.0,1964.9 1587.0,1959.3 1590.2,1959.7 1589.3,1965.4 1592.4,1966.0 1593.6,1960.4 1597.0,1961.2 1595.4,1966.8 1598.1,1967.8 1600.5,1962.3 1603.9,1964.1 1600.5,1969.2 1602.5,1971.0 1607.0,1966.6 1609.5,1969.5 1604.2,1973.2 1605.6,1975.6 1611.4,1972.7 1612.9,1976.0 1606.8,1978.4 1607.8,1981.3 1614.0,1979.3 1615.0,1982.7 1608.6,1984.3 1609.3,1987.4 1615.8,1986.0 1616.5,1989.3 1610.0,1990.6 1610.6,1993.8 1617.1,1992.6 1617.6,1995.9 1611.1,1997.0 1611.7,2000.2 1618.2,1999.2 1618.7,2002.4 1612.2,2003.5 1612.7,2006.7 1619.2,2005.7 1619.7,2009.0 1613.2,2010.0 1613.7,2013.2 1620.2,2012.2 1620.7,2015.5 1614.2,2016.5 1614.7,2019.7 1621.2,2018.8 1621.7,2022.1 1615.1,2023.0 1615.6,2026.3 1622.1,2025.3 1622.6,2028.6 1616.1,2029.5 1616.6,2032.8 1623.1,2031.8 1623.6,2035.1 1617.1,2036.1 1617.5,2039.3 1624.1,2038.4 1624.5,2041.6 1618.0,2042.6 1618.5,2045.9 1625.0,2044.9 1625.6,2048.1 1619.0,2049.2 1619.6,2052.4 1626.1,2051.4 1626.6,2054.6 1620.1,2055.7 1620.6,2059.0 1627.1,2057.9 1627.7,2061.1 1621.2,2062.3 1621.9,2065.6 1628.3,2064.2 1629.0,2067.2 1622.7,2069.0 1623.8,2072.4 1629.9,2070.1 1631.0,2072.6 1625.5,2075.9 1631.6,2078.8 1629.4,2073.2 1629.0,2072.0 1635.1,2074.3 1636.2,2070.8 1629.9,2069.1 1630.7,2065.9 1637.1,2067.6 1637.9,2064.4 1631.5,2062.8 1632.3,2059.6 1638.7,2061.1 1639.5,2057.9 1633.1,2056.4 1633.8,2053.2 1640.2,2054.6 1640.9,2051.4 1634.5,2050.0 1635.2,2046.8 1641.6,2048.2 1642.3,2045.0 1635.9,2043.6 1636.6,2040.3 1643.0,2041.8 1643.8,2038.6 1637.4,2037.1 1638.1,2033.9 1644.5,2035.4 1645.3,2032.2 1638.9,2030.6 1639.8,2027.4 1646.1,2029.0 1646.9,2025.9 1640.6,2024.2 1641.5,2020.9 1647.8,2022.8 1648.8,2019.7 1642.5,2017.7 1643.6,2014.5 1649.8,2016.6 1650.8,2013.5 1644.7,2011.3 1645.8,2008.2 1651.9,2010.5 1653.1,2007.5 1647.1,2005.0 1648.4,2001.9 1654.3,2004.5 1655.7,2001.6 1649.7,1998.8 1651.2,1995.8 1657.0,1998.7 1658.5,1995.8 1652.8,1992.8 1654.5,1989.8 1660.0,1993.0 1661.7,1990.4 1656.3,1986.8 1658.3,1984.0 1663.4,1987.8 1665.3,1985.4 1660.5,1981.2 1662.9,1978.7 1667.4,1983.1 1669.6,1981.0 1665.6,1976.3 1668.5,1974.1 1671.9,1979.2 1674.5,1977.6 1671.5,1972.3 1674.8,1970.7 1677.1,1976.2 1680.0,1975.2 1678.2,1969.5 1681.6,1968.6 1682.9,1974.3 1686.0,1973.7 1685.0,1968.0 1688.4,1967.5 1689.1,1973.2 1692.4,1972.8 1691.7,1967.1 1694.9,1966.7 1695.7,1972.4 1699.1,1971.9 1698.1,1966.2 1701.1,1965.5 1702.5,1971.2 1705.8,1970.3 1704.2,1964.7 1707.2,1963.7 1709.1,1969.3 1712.3,1968.1 1710.1,1962.6 1713.1,1961.3 1715.5,1966.8 1718.5,1965.5 1716.0,1960.0 1719.0,1958.6 1721.6,1964.0 1724.6,1962.6 1721.9,1957.2 1724.8,1955.7 1727.6,1961.1 1730.5,1959.6 1727.8,1954.2 1730.6,1952.7 1733.5,1958.1 1736.5,1956.4 1733.4,1951.2 1736.1,1949.5 1739.4,1954.7 1742.3,1952.7 1738.7,1947.7 1741.1,1945.8 1745.1,1950.6 1747.8,1948.1 1743.2,1943.7 1745.2,1941.5 1750.2,1945.4 1752.3,1942.6 1747.0,1939.0 1748.5,1936.4 1754.2,1939.6 1755.8,1936.5 1750.0,1933.6 1751.3,1930.8 1757.2,1933.3 1758.5,1930.2 1752.5,1927.8 1753.6,1924.8 1759.7,1927.0 1760.9,1923.8 1754.7,1921.7 1755.7,1918.6 1761.9,1920.7 1762.9,1917.5 1756.7,1915.5 1757.6,1912.4 1763.9,1914.3 1764.8,1911.1 1758.6,1909.3 1759.5,1906.1 1765.8,1907.9 1766.7,1904.7 1760.4,1903.0 1761.3,1899.8 1767.6,1901.6 1768.5,1898.4 1762.1,1896.6 1763.0,1893.4 1769.3,1895.2 1770.2,1892.0 1763.9,1890.3 1764.7,1887.1 1771.1,1888.8 1771.9,1885.6 1765.6,1883.9 1766.5,1880.7 1772.8,1882.4 1773.7,1879.3 1767.3,1877.5 1768.2,1874.3 1774.5,1876.1 1775.4,1872.9 1769.1,1871.1 1770.0,1868.0 1776.3,1869.7 1777.2,1866.6 1770.9,1864.8 1771.8,1861.6 1778.1,1863.4 1779.0,1860.3 1772.8,1858.3 1773.9,1855.1 1780.0,1857.4 1781.2,1854.6 1775.3,1851.8 1777.1,1848.5 1782.5,1852.0 1782.0,1850.8 1782.1,1845.2 1787.1,1848.6 1781.7,1852.1 1783.0,1854.6 1788.8,1851.8 1790.2,1855.1 1784.1,1857.4 1785.1,1860.4 1791.4,1858.4 1792.4,1861.6 1786.1,1863.4 1786.9,1866.6 1793.2,1864.9 1794.1,1868.1 1787.7,1869.7 1788.5,1872.9 1794.9,1871.3 1795.7,1874.5 1789.3,1876.1 1790.2,1879.3 1796.5,1877.7 1797.3,1880.9 1791.0,1882.5 1791.8,1885.8 1798.2,1884.0 1799.0,1887.2 1792.7,1889.0 1793.7,1892.2 1800.0,1890.3 1801.0,1893.3 1794.8,1895.4 1795.9,1898.6 1802.1,1896.3 1803.2,1899.3 1797.2,1901.8 1798.6,1904.9 1804.5,1902.2 1805.8,1905.2 1800.0,1908.0 1801.5,1911.0 1807.3,1908.1 1808.8,1910.9 1803.0,1914.0 1804.6,1916.9 1810.3,1913.8 1811.9,1916.7 1806.2,1919.8 1807.7,1922.7 1813.5,1919.7 1815.0,1922.6 1809.2,1925.6 1810.6,1928.5 1816.5,1925.7 1817.9,1928.7 1812.0,1931.4 1813.3,1934.4 1819.3,1931.8 1820.6,1934.8 1814.6,1937.4 1815.9,1940.4 1821.9,1937.9 1823.2,1940.9 1817.2,1943.4 1818.5,1946.5 1824.5,1943.9 1825.8,1946.9 1819.8,1949.5 1821.2,1952.6 1827.1,1949.9 1828.5,1952.9 1822.6,1955.7 1824.1,1958.7 1829.9,1955.7 1831.4,1958.5 1825.7,1961.7 1827.5,1964.7 1832.9,1961.2 1834.7,1963.8 1829.5,1967.6 1831.7,1970.4 1836.5,1966.3 1838.5,1968.5 1834.1,1973.0 1836.8,1975.4 1840.7,1970.5 1843.1,1972.4 1839.7,1977.5 1842.8,1979.3 1845.7,1974.0 1848.4,1975.3 1846.0,1980.8 1849.2,1982.1 1851.3,1976.5 1854.3,1977.6 1852.5,1983.2 1855.7,1984.2 1857.4,1978.5 1860.6,1979.5 1858.8,1985.1 1861.7,1986.2 1863.9,1980.6 1867.2,1982.1 1864.4,1987.5 1866.9,1989.0 1870.4,1983.9 1873.3,1986.3 1869.1,1990.8 1871.0,1993.0 1875.9,1988.9 1878.1,1991.8 1872.8,1995.4 1874.4,1998.0 1880.0,1994.7 1881.7,1997.7 1875.9,2000.8 1877.4,2003.6 1883.2,2000.8 1884.7,2003.8 1878.7,2006.6 1880.0,2009.5 1886.0,2006.9 1887.3,2010.0 1881.3,2012.5 1882.6,2015.5 1888.6,2013.0 1889.9,2016.0 1883.9,2018.6 1885.3,2021.7 1891.2,2019.0 1892.6,2021.8 1886.8,2024.8 1888.7,2028.0 1893.9,2024.3 1893.2,2025.0 1894.3,2030.7 1898.7,2027.6 1893.6,2023.6 1895.3,2021.2 1900.7,2024.6 1902.5,2021.5 1896.8,2018.5 1898.2,2015.7 1904.1,2018.4 1905.5,2015.3 1899.5,2012.8 1900.7,2009.8 1906.8,2012.2 1908.0,2009.2 1902.0,2006.7 1903.2,2003.6 1909.3,2006.1 1910.5,2003.1 1904.5,2000.6 1905.8,1997.5 1911.8,2000.0 1913.0,1997.0 1907.0,1994.5 1908.3,1991.4 1914.3,1994.0 1915.6,1991.0 1909.7,1988.3 1911.2,1985.2 1917.0,1988.2 1918.4,1985.4 1912.8,1982.2 1914.7,1979.2 1920.0,1982.8 1921.8,1980.2 1916.7,1976.4 1918.8,1973.7 1923.8,1977.7" fill="none" stroke="#000" stroke-width="2.05" stroke-linejoin="miter" stroke-miterlimit="3" stroke-linecap="square"/>
<path d="M136.5,2125.5 V1234.3 H1922.0" fill="none" stroke="#000" stroke-width="1.3"/>
<line x1="391.57" y1="2125.50" x2="391.57" y2="2107.50" stroke="#000" stroke-width="1.3" />
<line x1="391.57" y1="1234.30" x2="391.57" y2="1252.30" stroke="#000" stroke-width="1.3" />
<line x1="646.64" y1="2125.50" x2="646.64" y2="2107.50" stroke="#000" stroke-width="1.3" />
<line x1="646.64" y1="1234.30" x2="646.64" y2="1252.30" stroke="#000" stroke-width="1.3" />
<line x1="901.71" y1="2125.50" x2="901.71" y2="2107.50" stroke="#000" stroke-width="1.3" />
<line x1="901.71" y1="1234.30" x2="901.71" y2="1252.30" stroke="#000" stroke-width="1.3" />
<line x1="1156.79" y1="2125.50" x2="1156.79" y2="2107.50" stroke="#000" stroke-width="1.3" />
<line x1="1156.79" y1="1234.30" x2="1156.79" y2="1252.30" stroke="#000" stroke-width="1.3" />
<line x1="1411.86" y1="2125.50" x2="1411.86" y2="2107.50" stroke="#000" stroke-width="1.3" />
<line x1="1411.86" y1="1234.30" x2="1411.86" y2="1252.30" stroke="#000" stroke-width="1.3" />
<line x1="1666.93" y1="2125.50" x2="1666.93" y2="2107.50" stroke="#000" stroke-width="1.3" />
<line x1="1666.93" y1="1234.30" x2="1666.93" y2="1252.30" stroke="#000" stroke-width="1.3" />
<line x1="136.50" y1="1998.19" x2="154.50" y2="1998.19" stroke="#000" stroke-width="1.3" />
<line x1="1922.00" y1="1998.19" x2="1904.00" y2="1998.19" stroke="#000" stroke-width="1.3" />
<line x1="136.50" y1="1870.87" x2="154.50" y2="1870.87" stroke="#000" stroke-width="1.3" />
<line x1="1922.00" y1="1870.87" x2="1904.00" y2="1870.87" stroke="#000" stroke-width="1.3" />
<line x1="136.50" y1="1616.24" x2="154.50" y2="1616.24" stroke="#000" stroke-width="1.3" />
<line x1="1922.00" y1="1616.24" x2="1904.00" y2="1616.24" stroke="#000" stroke-width="1.3" />
<line x1="136.50" y1="1488.93" x2="154.50" y2="1488.93" stroke="#000" stroke-width="1.3" />
<line x1="1922.00" y1="1488.93" x2="1904.00" y2="1488.93" stroke="#000" stroke-width="1.3" />
<text x="136.50" y="2170.50" font-family="'Liberation Serif', 'DejaVu Serif', serif" font-size="43" font-weight="bold" text-anchor="middle" >300</text>
<text x="391.57" y="2170.50" font-family="'Liberation Serif', 'DejaVu Serif', serif" font-size="43" font-weight="bold" text-anchor="middle" >400</text>
<text x="646.64" y="2170.50" font-family="'Liberation Serif', 'DejaVu Serif', serif" font-size="43" font-weight="bold" text-anchor="middle" >500</text>
<text x="901.71" y="2170.50" font-family="'Liberation Serif', 'DejaVu Serif', serif" font-size="43" font-weight="bold" text-anchor="middle" >600</text>
<text x="1156.79" y="2170.50" font-family="'Liberation Serif', 'DejaVu Serif', serif" font-size="43" font-weight="bold" text-anchor="middle" >700</text>
<text x="1411.86" y="2170.50" font-family="'Liberation Serif', 'DejaVu Serif', serif" font-size="43" font-weight="bold" text-anchor="middle" >800</text>
<text x="1666.93" y="2170.50" font-family="'Liberation Serif', 'DejaVu Serif', serif" font-size="43" font-weight="bold" text-anchor="middle" >900</text>
<text x="1922.00" y="2170.50" font-family="'Liberation Serif', 'DejaVu Serif', serif" font-size="43" font-weight="bold" text-anchor="middle" >1000</text>
<text x="131.00" y="2141.50" font-family="'Liberation Serif', 'DejaVu Serif', serif" font-size="43" font-weight="bold" text-anchor="end" >0</text>
<text x="131.00" y="2014.19" font-family="'Liberation Serif', 'DejaVu Serif', serif" font-size="43" font-weight="bold" text-anchor="end" >0.1</text>
<text x="131.00" y="1886.87" font-family="'Liberation Serif', 'DejaVu Serif', serif" font-size="43" font-weight="bold" text-anchor="end" >0.2</text>
<text x="131.00" y="1759.56" font-family="'Liberation Serif', 'DejaVu Serif', serif" font-size="43" font-weight="bold" text-anchor="end" >0.3</text>
<text x="131.00" y="1632.24" font-family="'Liberation Serif', 'DejaVu Serif', serif" font-size="43" font-weight="bold" text-anchor="end" >0.4</text>
<text x="131.00" y="1504.93" font-family="'Liberation Serif', 'DejaVu Serif', serif" font-size="43" font-weight="bold" text-anchor="end" >0.5</text>
<text x="131.00" y="1377.61" font-family="'Liberation Serif', 'DejaVu Serif', serif" font-size="43" font-weight="bold" text-anchor="end" >0.6</text>
<text x="131.00" y="1250.30" font-family="'Liberation Serif', 'DejaVu Serif', serif" font-size="43" font-weight="bold" text-anchor="end" >0.7</text>
<text x="1029.25" y="2212.00" font-family="'Liberation Serif', 'DejaVu Serif', serif" font-size="43" font-weight="bold" text-anchor="middle" >Wavelength(nm)</text>
<text transform="translate(61,1679.9) rotate(-90)" font-family="'Liberation Serif', 'DejaVu Serif', serif" font-size="43" font-weight="bold" text-anchor="middle">Voltage(Volt)</text>
<rect x="1374.4" y="1294.5" width="496" height="162" fill="#fff"/>
<path d="M1374.4,1456.5 V1294.5 H1870" fill="none" stroke="#000" stroke-width="1.3"/>
<line x1="1383.50" y1="1323.30" x2="1431.80" y2="1323.30" stroke="#0000ff" stroke-width="6.9" />
<text x="1437.40" y="1336.30" font-family="'Liberation Serif', 'DejaVu Serif', serif" font-size="38.5" font-weight="bold" text-anchor="start" >Without covid particle</text>
<line x1="1383.50" y1="1376.00" x2="1431.80" y2="1376.00" stroke="#ff0000" stroke-width="7.8" />
<text x="1437.40" y="1388.80" font-family="'Liberation Serif', 'DejaVu Serif', serif" font-size="38.5" font-weight="bold" text-anchor="start" >With single covid particle</text>
<path d="M1383.6,1424.7h1.1v7.0h-1.1zM1386.8,1424.7h1.7v7.0h-1.7zM1390.5,1424.7h4.8v7.0h-4.8zM1397.9,1424.7h1.8v7.0h-1.8zM1400.8,1424.7h1.8v7.0h-1.8zM1403.8,1424.7h1.8v7.0h-1.8zM1406.3,1424.7h1.1v7.0h-1.1zM1408.9,1424.7h2.5v7.0h-2.5zM1412.2,1424.7h1.8v7.0h-1.8zM1416.5,1424.7h5.2v7.0h-5.2zM1423.6,1424.7h2.1v7.0h-2.1zM1427.6,1424.7h1.1v7.0h-1.1zM1430.5,1424.7h1.1v7.0h-1.1z" fill="#000"/>
<text x="1437.40" y="1441.30" font-family="'Liberation Serif', 'DejaVu Serif', serif" font-size="38.5" font-weight="bold" text-anchor="start" >With three covid particles</text>
</g>
<text transform="translate(960.7,2326.8) scale(0.9,1)" font-family="'Liberation Serif', 'DejaVu Serif', serif" font-size="88.5" text-anchor="middle">(</text><text transform="translate(1038.6,2326.8) scale(0.9,1)" font-family="'Liberation Serif', 'DejaVu Serif', serif" font-size="88.5" text-anchor="middle">)</text><text x="1000.9" y="2327" font-family="'Liberation Serif', 'DejaVu Serif', serif" font-size="86.5" font-weight="bold" text-anchor="middle">b</text>
</svg>
</body></html>
